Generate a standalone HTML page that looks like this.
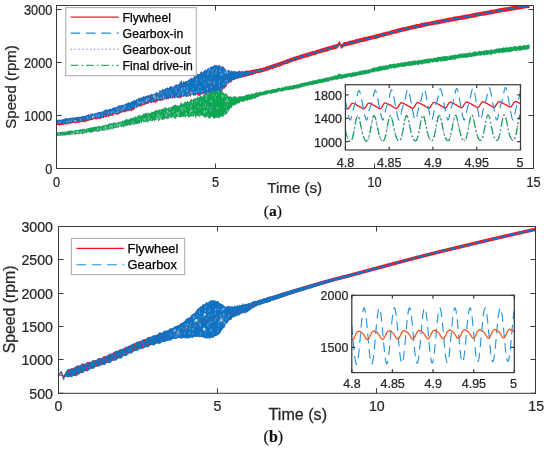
<!DOCTYPE html>
<html lang="en"><head><meta charset="utf-8"><title>Speed (rpm) vs Time (s)</title>
<style>html,body{margin:0;padding:0;background:#fff;}svg{display:block;}</style></head><body>
<svg width="550" height="451" viewBox="0 0 550 451">
<rect width="550" height="451" fill="#fff"/>
<defs><clipPath id="ca"><rect x="56.5" y="5.5" width="477.0" height="163.0"/></clipPath>
<clipPath id="cb"><rect x="58.5" y="226.5" width="477.0" height="166.8"/></clipPath></defs>
<g clip-path="url(#ca)">
<polygon points="56.5,120.4 57,120.4 57.5,120.2 58,119.9 58.5,119.9 59,119.7 59.5,120.1 60,120.5 60.5,119.8 61,119.7 61.5,120 62,119.9 62.5,119.7 63,119.3 63.5,119.5 64,119.7 64.5,118.9 65,119 65.5,118.5 66,118.5 66.5,118.4 67,118.8 67.5,118.5 68,119 68.5,118.9 69,118.6 69.5,117.7 70,118.3 70.5,118.5 71,118.4 71.5,117.8 72,118 72.5,117.8 73,117.8 73.5,118.4 74,117.7 74.5,117.9 75,118.1 75.5,117.5 76,117.6 76.5,117.6 77,117.4 77.5,116.9 78,117.3 78.5,117.7 79,116.6 79.5,117.3 80,117 80.5,116.7 81,117.5 81.5,117 82,116.1 82.5,116.4 83,116.6 83.5,116.2 84,116.4 84.5,116.1 85,116.3 85.5,116.4 86,115.5 86.5,115.6 87,115.3 87.5,115.3 88,114.7 88.5,114.8 89,114.9 89.5,115.3 90,115.2 90.5,114.1 91,114.1 91.5,114.5 92,113.4 92.5,113.8 93,114 93.5,114.5 94,114.2 94.5,113.5 95,113.4 95.5,113.4 96,113.9 96.5,113 97,112.9 97.5,113 98,112.7 98.5,112.5 99,112 99.5,112.3 100,112.1 100.5,112.6 101,112.3 101.5,111.9 102,111.9 102.5,111.5 103,111.8 103.5,111.3 104,111.3 104.5,110.4 105,110.8 105.5,109.7 106,109.4 106.5,110 107,109.8 107.5,110.2 108,111 108.5,109.4 109,109.3 109.5,109.5 110,109.5 110.5,109.1 111,108.9 111.5,109.2 112,108.9 112.5,108 113,108.3 113.5,108.1 114,107.5 114.5,107.9 115,107.4 115.5,108 116,107.6 116.5,107.3 117,106.8 117.5,106.7 118,105.6 118.5,105.9 119,106.4 119.5,105.2 120,106.3 120.5,105.1 121,106 121.5,105.3 122,105.8 122.5,105.3 123,104.4 123.5,105.6 124,105.6 124.5,104.7 125,104.3 125.5,104.1 126,103.6 126.5,104.4 127,103.5 127.5,103.5 128,102.9 128.5,102.7 129,102.4 129.5,103.5 130,102.8 130.5,103.1 131,102.3 131.5,101.7 132,101.6 132.5,101.3 133,101.4 133.5,101 134,100.7 134.5,99.9 135,100.2 135.5,101.2 136,99.8 136.5,99.3 137,99.9 137.5,100.2 138,98.6 138.5,98.8 139,98.4 139.5,97.7 140,98.8 140.5,98.4 141,98.1 141.5,97.6 142,97.9 142.5,97.3 143,97.2 143.5,96.5 144,96.4 144.5,97.5 145,96.6 145.5,96.7 146,96.3 146.5,95.9 147,95.7 147.5,96.2 148,95.5 148.5,95.4 149,95.4 149.5,95.9 150,95.5 150.5,95.1 151,94.2 151.5,93.7 152,94.8 152.5,94.8 153,94 153.5,94.2 154,94.2 154.5,94.1 155,93.8 155.5,93 156,93.7 156.5,92.1 157,93 157.5,92.8 158,92.9 158.5,93.4 159,92.8 159.5,90.9 160,90.3 160.5,91.6 161,90.5 161.5,90.9 162,91.1 162.5,89.3 163,88.8 163.5,90.2 164,90 164.5,89.6 165,89.5 165.5,88.7 166,88 166.5,88.7 167,88 167.5,87.4 168,88.7 168.5,88.4 169,88.3 169.5,87.1 170,87 170.5,86.6 171,86.6 171.5,87.1 172,86.4 172.5,87 173,87.1 173.5,88 174,85.4 174.5,86.6 175,85.8 175.5,85.4 176,84.2 176.5,84.8 177,85.6 177.5,84.9 178,84.7 178.5,84.3 179,85.2 179.5,83.9 180,81.9 180.5,82.6 181,81.4 181.5,80.3 182,82.4 182.5,83.9 183,82.7 183.5,81.3 184,81.4 184.5,82.8 185,82 185.5,81.6 186,81.3 186.5,81.2 187,81.6 187.5,81.3 188,80.6 188.5,79.5 189,80.2 189.5,79.4 190,80.2 190.5,78.3 191,78.7 191.5,78.5 192,77.4 192.5,79.5 193,79.1 193.5,77.3 194,77.7 194.5,76.8 195,74.3 195.5,76 196,75.7 196.5,75.3 197,74.1 197.5,74.4 198,74.4 198.5,75.1 199,74.2 199.5,73.7 200,74.4 200.5,72.6 201,72 201.5,71 202,73.2 202.5,72.8 203,72.4 203.5,71.8 204,71.1 204.5,70.8 205,70.1 205.5,69.9 206,70 206.5,70.8 207,69.9 207.5,69 208,68.2 208.5,68.1 209,69.6 209.5,68.7 210,67.9 210.5,67.2 211,66.5 211.5,67.1 212,67.7 212.5,66.6 213,66.4 213.5,66.3 214,66.2 214.5,64.8 215,65.5 215.5,65.2 216,66.2 216.5,65.1 217,66.1 217.5,66.9 218,65.5 218.5,65.2 219,65.9 219.5,65.8 220,65.3 220.5,66.7 221,68.1 221.5,66.7 222,66.6 222.5,66.4 223,67.5 223.5,66.7 224,67.2 224.5,69.3 225,68.3 225.5,70 226,70.7 226.5,70.1 227,70.6 227.5,71.7 228,70.3 228.5,69.9 229,69.6 229.5,71 230,72.3 230.5,72 231,70.7 231.5,70.7 232,71.1 232.5,71.6 233,71.4 233.5,71.6 234,71.6 234.5,71.3 235,71.4 235.5,71.6 236,71.5 236.5,71.8 237,72.4 237.5,71.8 238,71.4 238.5,70.7 239,71.4 239.5,70.6 240,70.8 240.5,71.7 241,71.7 241.5,71.2 242,70.7 242.5,71 243,71 243.5,71.4 244,71.8 244.5,71.2 245,70.7 245.5,70.5 246,70.8 246.5,70.7 247,70.4 247.5,70.6 248,70.3 248.5,70.8 249,70.7 249.5,70.6 250,70.2 250.5,70.3 251,70.1 251.5,69.9 252,69.8 252.5,69.5 253,69.4 253.5,69.7 254,69.5 254.5,69.5 255,69.5 255.5,69 256,69 256.5,69.1 257,69 257.5,68.9 258,69 258.5,68.7 259,68.4 259.5,68.3 260,68.5 260.5,68.3 261,67.9 261.5,68.2 262,68.1 262.5,68 263,67.6 263.5,67.4 264,67.2 264.5,67.6 265,67.1 265.5,67.1 266,66.6 266.5,66.5 267,66.1 267.5,66.1 268,66.2 268.5,65.7 269,65.8 269.5,65.6 270,65.2 270.5,65.1 271,65 271.5,64.8 272,64.6 272.5,64.4 273,64.3 273.5,64 274,63.8 274.5,63.8 275,63.8 275.5,63.3 276,63.3 276.5,63 277,62.8 277.5,62.9 278,62.6 278.5,62.6 279,62.2 279.5,62.1 280,61.9 280.5,61.6 281,61.6 281.5,61.4 282,61.3 282.5,61 283,60.7 283.5,60.6 284,60.5 284.5,60.4 285,60 285.5,59.9 286,59.5 286.5,59.6 287,59.2 287.5,58.9 288,59 288.5,59 289,58.5 289.5,58.3 290,58.2 290.5,58 291,58 291.5,57.7 292,57.5 292.5,57.5 293,57.2 293.5,57.1 294,56.8 294.5,56.5 295,56.3 295.5,56.7 296,56.3 296.5,56.1 297,56 297.5,55.8 298,55.7 298.5,55.7 299,55.2 299.5,54.9 300,54.8 300.5,54.6 301,54.8 301.5,54.6 302,54.2 302.5,54 303,54 303.5,54.1 304,53.4 304.5,53.6 305,53.3 305.5,53.4 306,53 306.5,52.9 307,52.6 307.5,52.6 308,52.8 308.5,52.5 309,52.2 309.5,51.9 310,51.6 310.5,51.7 311,51.6 311.5,51.5 312,51.3 312.5,51 313,51 313.5,50.9 314,51 314.5,50.9 315,50.5 315.5,50.2 316,50.1 316.5,49.9 317,49.7 317.5,49.7 318,49.4 318.5,49.5 319,49.3 319.5,49.2 320,49 320.5,48.7 321,48.5 321.5,48.5 322,48.3 322.5,48.3 323,48.1 323.5,47.8 324,47.8 324.5,47.5 325,47.4 325.5,47.3 326,46.9 326.5,47.1 327,47 327.5,46.8 328,46.6 328.5,46.4 329,46.2 329.5,46.1 330,46 330.5,45.9 331,45.6 331.5,45.6 332,45.5 332.5,45.3 333,45.1 333.5,45.1 334,44.6 334.5,44.8 335,44.6 335.5,44.5 336,44.4 336.5,44.1 337,44 337.5,43.8 338,43.3 338.5,42.2 339,41.1 339.5,41.1 340,42 340.5,43 341,43.8 341.5,44.3 342,44.6 342.5,43.7 343,42.6 343.5,42.5 344,42 344.5,41.9 345,41.9 345.5,42 346,41.7 346.5,41.7 347,41.8 347.5,41.7 348,41.3 348.5,41.1 349,40.8 349.5,40.8 350,40.8 350.5,40.7 351,40.6 351.5,40.6 352,40.2 352.5,40.2 353,40.2 353.5,40 354,40 354.5,39.7 355,39.5 355.5,39.4 356,39.1 356.5,38.9 357,39.1 357.5,38.9 358,38.8 358.5,38.4 359,38.4 359.5,38.3 360,38.1 360.5,37.8 361,37.9 361.5,38 362,37.8 362.5,37.5 363,37.5 363.5,37.4 364,36.8 364.5,37 365,37.1 365.5,37 366,37 366.5,36.8 367,36.5 367.5,36.4 368,36.3 368.5,36 369,36 369.5,36.1 370,36.1 370.5,35.7 371,35.5 371.5,35.5 372,35.5 372.5,35.2 373,35.3 373.5,34.8 374,34.8 374.5,34.7 375,34.7 375.5,34.6 376,34.1 376.5,34.1 377,34.1 377.5,33.8 378,33.6 378.5,33.9 379,33.7 379.5,33.5 380,33.3 380.5,33.3 381,33.1 381.5,33.1 382,32.7 382.5,32.5 383,32.5 383.5,32.3 384,32.4 384.5,32.2 385,31.9 385.5,31.8 386,31.7 386.5,31.7 387,31.4 387.5,31.3 388,31.4 388.5,31.5 389,31.3 389.5,30.9 390,30.7 390.5,30.8 391,30.4 391.5,30.1 392,30.1 392.5,30.1 393,29.7 393.5,29.4 394,29.4 394.5,29.5 395,29.2 395.5,29.2 396,29.1 396.5,29 397,28.8 397.5,28.7 398,28.4 398.5,28.3 399,28.1 399.5,28.3 400,28 400.5,27.8 401,27.7 401.5,27.6 402,27.6 402.5,27.1 403,27.1 403.5,27.1 404,27.4 404.5,27.1 405,26.8 405.5,26.8 406,26.9 406.5,26.4 407,26.3 407.5,26.4 408,26.2 408.5,26.1 409,25.8 409.5,26.1 410,26 410.5,25.7 411,25.5 411.5,25 412,25.3 412.5,25.1 413,25.1 413.5,25 414,24.7 414.5,24.4 415,24.6 415.5,24.3 416,24.3 416.5,24.1 417,24 417.5,23.7 418,24.1 418.5,23.9 419,23.9 419.5,23.9 420,23.5 420.5,23.1 421,23.1 421.5,23 422,23 422.5,22.9 423,22.6 423.5,22.8 424,22.5 424.5,22.6 425,22.4 425.5,22.3 426,22.2 426.5,22.1 427,21.9 427.5,21.7 428,21.8 428.5,22.1 429,22 429.5,21.8 430,21.6 430.5,21.3 431,21.4 431.5,21.2 432,21 432.5,20.9 433,20.8 433.5,20.7 434,20.6 434.5,20.4 435,20.4 435.5,20.7 436,20.3 436.5,20.1 437,20.1 437.5,20.1 438,19.7 438.5,19.7 439,19.8 439.5,19.6 440,19.5 440.5,19.6 441,19.2 441.5,19.2 442,19 442.5,19.2 443,18.6 443.5,18.7 444,18.6 444.5,18.7 445,18.7 445.5,18.6 446,18.1 446.5,18.3 447,18.1 447.5,17.9 448,18 448.5,17.7 449,17.4 449.5,17.5 450,17.3 450.5,17.3 451,17.4 451.5,17.4 452,17.4 452.5,17 453,16.7 453.5,16.7 454,16.6 454.5,16.5 455,16.6 455.5,16.4 456,16.1 456.5,16.4 457,16.2 457.5,16.2 458,16.1 458.5,16.1 459,15.9 459.5,16 460,15.8 460.5,15.7 461,15.6 461.5,15.2 462,15.3 462.5,15.2 463,15.2 463.5,14.9 464,15.2 464.5,14.9 465,14.6 465.5,14.4 466,14.6 466.5,14.5 467,14.3 467.5,14.4 468,14.2 468.5,14.2 469,14 469.5,14 470,14.1 470.5,14.2 471,13.6 471.5,13.5 472,13.4 472.5,13.5 473,13.2 473.5,13.1 474,13.1 474.5,12.9 475,12.8 475.5,12.7 476,12.4 476.5,12.4 477,12.5 477.5,12.5 478,12.3 478.5,12 479,12.1 479.5,12.2 480,12.1 480.5,11.9 481,11.7 481.5,11.8 482,11.5 482.5,11.3 483,11.3 483.5,11.5 484,11.3 484.5,11.3 485,11 485.5,11.1 486,10.8 486.5,10.8 487,11 487.5,10.7 488,10.4 488.5,10.4 489,10.3 489.5,10.4 490,10 490.5,9.7 491,9.8 491.5,9.8 492,9.8 492.5,9.8 493,9.6 493.5,9.5 494,9.2 494.5,9.4 495,9.5 495.5,9.2 496,9 496.5,8.9 497,9 497.5,8.6 498,8.6 498.5,8.6 499,8.5 499.5,8.3 500,8.3 500.5,8.1 501,8.1 501.5,7.9 502,7.7 502.5,7.8 503,7.8 503.5,7.5 504,7.5 504.5,7.5 505,7.2 505.5,7.3 506,7.1 506.5,7.3 507,7.5 507.5,7.3 508,6.9 508.5,6.9 509,6.7 509.5,6.7 510,6.7 510.5,6.3 511,6.5 511.5,6.3 512,6.4 512.5,6.2 513,5.9 513.5,6 514,6 514.5,5.8 515,5.8 515.5,5.5 516,5.2 516.5,5.6 517,5.5 517.5,5.3 518,5.2 518.5,5.3 519,5 519.5,4.8 520,4.9 520.5,4.9 521,4.6 521.5,4.8 522,4.5 522.5,4.3 523,4.6 523.5,4.3 524,4 524.5,4.1 525,4.3 525.5,4.2 526,3.9 526.5,3.9 527,3.9 527.5,3.7 528,3.7 528.5,3.6 529,3.4 529.5,3.4 529.5,8.1 529,8.1 528.5,8.1 528,8.2 527.5,8 527,8.1 526.5,8.4 526,8.4 525.5,8.1 525,8.4 524.5,8.5 524,8.5 523.5,8.8 523,8.9 522.5,8.8 522,9.2 521.5,9.2 521,9.2 520.5,9.1 520,9.4 519.5,9.4 519,9.7 518.5,9.5 518,9.5 517.5,9.5 517,9.7 516.5,10.1 516,9.9 515.5,10 515,10.2 514.5,10.2 514,10.5 513.5,10.3 513,10.6 512.5,10.6 512,10.6 511.5,10.8 511,10.9 510.5,11 510,11.1 509.5,11.2 509,11.1 508.5,11.3 508,11.4 507.5,11.5 507,11.3 506.5,11.5 506,11.8 505.5,11.9 505,11.9 504.5,11.9 504,11.8 503.5,12 503,11.9 502.5,12 502,12.2 501.5,12.4 501,12.5 500.5,12.4 500,12.7 499.5,12.7 499,12.8 498.5,12.8 498,12.7 497.5,13.1 497,13.1 496.5,13.3 496,13.4 495.5,13.4 495,13.5 494.5,13.8 494,13.9 493.5,13.7 493,14 492.5,13.9 492,14.2 491.5,14.5 491,14.4 490.5,14.5 490,14.7 489.5,14.5 489,14.6 488.5,14.9 488,14.8 487.5,15.1 487,15 486.5,15.3 486,15.3 485.5,15.4 485,15.3 484.5,15.7 484,15.4 483.5,15.7 483,15.9 482.5,15.7 482,15.8 481.5,16.1 481,15.9 480.5,16.3 480,16.3 479.5,16.3 479,16.3 478.5,16.5 478,16.7 477.5,16.8 477,17.1 476.5,16.8 476,17 475.5,17.4 475,17.2 474.5,17.4 474,17.7 473.5,17.7 473,17.9 472.5,17.9 472,17.7 471.5,18.1 471,18.3 470.5,18.3 470,18.3 469.5,18.3 469,18.4 468.5,18.4 468,18.7 467.5,18.9 467,18.8 466.5,18.9 466,19.2 465.5,19.2 465,19.1 464.5,19.4 464,19.7 463.5,19.6 463,19.5 462.5,19.7 462,20 461.5,19.8 461,20 460.5,19.8 460,19.9 459.5,20.1 459,20.2 458.5,20.5 458,20.6 457.5,20.7 457,20.8 456.5,20.5 456,20.7 455.5,21.2 455,21.2 454.5,21 454,21.1 453.5,21.2 453,21.3 452.5,21.8 452,21.5 451.5,21.5 451,21.9 450.5,21.9 450,22 449.5,21.8 449,22.2 448.5,22.2 448,22.4 447.5,22.1 447,22.5 446.5,22.5 446,22.8 445.5,22.8 445,22.6 444.5,23 444,23.2 443.5,23.3 443,23.1 442.5,23.5 442,23.4 441.5,23.5 441,23.7 440.5,23.8 440,24.1 439.5,24 439,24.3 438.5,24.4 438,24.3 437.5,24.5 437,24.5 436.5,24.7 436,24.7 435.5,24.6 435,24.8 434.5,25.1 434,24.8 433.5,25.1 433,25.1 432.5,25.2 432,25.3 431.5,25.6 431,25.7 430.5,25.7 430,25.7 429.5,25.7 429,25.8 428.5,26.1 428,26.1 427.5,26.1 427,26.5 426.5,26.3 426,26.6 425.5,26.7 425,26.8 424.5,26.9 424,26.8 423.5,26.9 423,27.1 422.5,27.5 422,27.5 421.5,27.7 421,27.9 420.5,27.7 420,28 419.5,28 419,28 418.5,28.1 418,28.3 417.5,28.5 417,28.6 416.5,28.5 416,28.6 415.5,28.9 415,28.9 414.5,29 414,29.1 413.5,29.2 413,29.5 412.5,29.2 412,29.5 411.5,29.7 411,29.8 410.5,29.7 410,30.1 409.5,30.2 409,30.5 408.5,30.5 408,30.8 407.5,30.7 407,30.8 406.5,30.8 406,30.9 405.5,31 405,31.2 404.5,31.6 404,31.4 403.5,31.4 403,31.5 402.5,31.8 402,31.9 401.5,32.2 401,32.1 400.5,32.2 400,32.5 399.5,32.6 399,32.6 398.5,32.8 398,32.9 397.5,33.1 397,33.4 396.5,33.4 396,33.4 395.5,33.7 395,33.7 394.5,33.8 394,34 393.5,34 393,34.1 392.5,34.2 392,34.4 391.5,34.5 391,34.5 390.5,35 390,35.1 389.5,35.2 389,35.3 388.5,35.6 388,35.5 387.5,35.6 387,36 386.5,36 386,36 385.5,36.3 385,36.2 384.5,36.5 384,36.7 383.5,36.7 383,36.7 382.5,37 382,37.1 381.5,37.3 381,37.2 380.5,37.5 380,37.7 379.5,37.7 379,38 378.5,38.2 378,38.2 377.5,38.5 377,38.8 376.5,38.7 376,38.9 375.5,39.1 375,39.1 374.5,39.1 374,39.3 373.5,39.2 373,39.2 372.5,39.5 372,39.6 371.5,39.8 371,40 370.5,40.2 370,40.1 369.5,40.1 369,40.4 368.5,40.8 368,40.6 367.5,40.7 367,40.9 366.5,41 366,41.3 365.5,41.4 365,41.4 364.5,41.4 364,41.7 363.5,42 363,42 362.5,42.2 362,42 361.5,42.1 361,42.6 360.5,42.5 360,42.5 359.5,42.7 359,42.5 358.5,43 358,43.2 357.5,43.2 357,43.5 356.5,43.5 356,43.9 355.5,43.8 355,43.9 354.5,44 354,44.2 353.5,44.5 353,44.5 352.5,44.4 352,44.9 351.5,44.8 351,45 350.5,45.2 350,45 349.5,45.7 349,45.6 348.5,45.3 348,45.7 347.5,45.9 347,45.9 346.5,46 346,46.3 345.5,46.5 345,46.7 344.5,46.4 344,46.7 343.5,46.9 343,47.4 342.5,48.1 342,48.7 341.5,48.7 341,48.2 340.5,47.2 340,46.3 339.5,45.6 339,45.8 338.5,46.9 338,47.7 337.5,48 337,48.8 336.5,48.7 336,48.7 335.5,49.1 335,49.2 334.5,49.4 334,49.4 333.5,49.6 333,49.4 332.5,49.7 332,49.8 331.5,50.1 331,50.1 330.5,50.2 330,50.3 329.5,50.4 329,50.6 328.5,50.9 328,51.1 327.5,51.4 327,51.8 326.5,51.7 326,51.7 325.5,51.8 325,51.8 324.5,52 324,52.3 323.5,52.5 323,52.5 322.5,52.6 322,52.7 321.5,52.8 321,53.1 320.5,53.3 320,53.3 319.5,53.7 319,53.5 318.5,53.5 318,54 317.5,54.1 317,54.6 316.5,54.5 316,54.7 315.5,54.8 315,54.9 314.5,54.9 314,54.9 313.5,55.3 313,55.4 312.5,55.6 312,55.6 311.5,56.2 311,56.4 310.5,55.8 310,56.2 309.5,56.7 309,56.5 308.5,57 308,56.9 307.5,57.2 307,57.5 306.5,57.5 306,57.4 305.5,57.5 305,57.7 304.5,58 304,58.2 303.5,58.2 303,58.4 302.5,58.4 302,58.7 301.5,58.7 301,59 300.5,59.2 300,59.5 299.5,59.6 299,59.8 298.5,60 298,60 297.5,60.3 297,60.3 296.5,60.6 296,61 295.5,61.1 295,60.8 294.5,61 294,61.2 293.5,61.5 293,61.6 292.5,62.1 292,62 291.5,62 291,62.3 290.5,62.4 290,62.8 289.5,62.9 289,63 288.5,63.4 288,63.5 287.5,63.8 287,64.1 286.5,64 286,64.1 285.5,64.2 285,64.5 284.5,64.4 284,64.5 283.5,65 283,65.1 282.5,65.4 282,65.8 281.5,66.1 281,66.2 280.5,66.1 280,66.6 279.5,66.7 279,67 278.5,66.5 278,66.9 277.5,67.2 277,67.2 276.5,67.6 276,67.9 275.5,68.1 275,68.2 274.5,68.1 274,68.7 273.5,68.4 273,68.9 272.5,69.1 272,69 271.5,68.9 271,69.3 270.5,69.6 270,69.7 269.5,69.7 269,70.2 268.5,70.4 268,70.4 267.5,70.7 267,70.8 266.5,70.8 266,70.9 265.5,71.3 265,71.4 264.5,71.4 264,71.5 263.5,71.8 263,72.2 262.5,72.1 262,72.3 261.5,72.5 261,72.5 260.5,72.5 260,73.1 259.5,73.1 259,73.1 258.5,72.9 258,73 257.5,73.1 257,73.4 256.5,73.4 256,73.5 255.5,73.8 255,74 254.5,73.9 254,74.2 253.5,74.5 253,74.7 252.5,74.9 252,74.9 251.5,74.9 251,74.9 250.5,75.5 250,75.2 249.5,75.6 249,76 248.5,76.1 248,76.6 247.5,76.3 247,75.8 246.5,76.2 246,76.5 245.5,77.1 245,77.1 244.5,76.5 244,77 243.5,77.2 243,77.7 242.5,77.4 242,77.1 241.5,76.7 241,77.7 240.5,78.1 240,77.9 239.5,78.4 239,77.8 238.5,78.6 238,78.6 237.5,79 237,78.9 236.5,78.6 236,79.1 235.5,78.6 235,80.1 234.5,79.7 234,79.6 233.5,80.1 233,80.3 232.5,80.4 232,80.8 231.5,81.8 231,82.6 230.5,82.3 230,82.9 229.5,82.1 229,83.8 228.5,82.3 228,82.7 227.5,83.2 227,85 226.5,86.7 226,87 225.5,87.2 225,88.3 224.5,88.4 224,88.7 223.5,88.5 223,89 222.5,90.2 222,91.4 221.5,91.6 221,91.7 220.5,91.3 220,91.7 219.5,92.9 219,92.1 218.5,94.5 218,92.9 217.5,93 217,92.6 216.5,93.6 216,93.3 215.5,92.5 215,92.9 214.5,93.8 214,93 213.5,93.7 213,93.5 212.5,92.5 212,93.2 211.5,94.9 211,92.8 210.5,93.2 210,94.5 209.5,93.8 209,92.9 208.5,93.1 208,92.9 207.5,91.8 207,93.8 206.5,94.7 206,94.6 205.5,94.2 205,94.6 204.5,95 204,93.4 203.5,93.8 203,94.7 202.5,94 202,94.4 201.5,94.1 201,93.2 200.5,94.9 200,95.7 199.5,95.7 199,95.8 198.5,95.8 198,95.4 197.5,95 197,94.6 196.5,94.3 196,94.8 195.5,96 195,95.6 194.5,94.1 194,95.4 193.5,96.2 193,94.5 192.5,94.1 192,94.6 191.5,94.4 191,95.7 190.5,97.1 190,96.4 189.5,95.8 189,96.1 188.5,95.4 188,95.8 187.5,96.2 187,97.1 186.5,97.1 186,96.3 185.5,95.6 185,95 184.5,96.1 184,96.2 183.5,96.7 183,95.9 182.5,97.3 182,96.9 181.5,97 181,98.3 180.5,98.3 180,98.4 179.5,98.1 179,97.2 178.5,98.2 178,98.2 177.5,97.8 177,97.2 176.5,97.1 176,97.5 175.5,96.5 175,97.8 174.5,98.1 174,98.1 173.5,97.6 173,98 172.5,98.5 172,98.1 171.5,97.1 171,99.5 170.5,97.9 170,97.4 169.5,98.5 169,98.6 168.5,99.4 168,99.2 167.5,98.9 167,98.7 166.5,99.5 166,99.8 165.5,98.9 165,98.5 164.5,99.1 164,99.6 163.5,100.7 163,100.5 162.5,100.2 162,100.2 161.5,100.1 161,101.9 160.5,100.9 160,100.6 159.5,100.3 159,100.8 158.5,100.4 158,100.8 157.5,101.6 157,101.7 156.5,101.7 156,102.6 155.5,103.3 155,102.6 154.5,102.1 154,102.4 153.5,103.2 153,102 152.5,101.7 152,103 151.5,103.4 151,102.8 150.5,101.9 150,102.5 149.5,102 149,103 148.5,104.1 148,103.5 147.5,103.9 147,103.7 146.5,103.9 146,104 145.5,104.6 145,105.3 144.5,104.4 144,105.3 143.5,105.1 143,105.3 142.5,105.6 142,105.9 141.5,106.2 141,106.4 140.5,106.8 140,106.3 139.5,106.1 139,106.6 138.5,106.3 138,106.9 137.5,107.2 137,108 136.5,107.6 136,107.9 135.5,108 135,108.5 134.5,109 134,109.7 133.5,110.7 133,109.8 132.5,109.2 132,111.3 131.5,111.4 131,110.2 130.5,110.8 130,111.2 129.5,110.6 129,110.6 128.5,111.3 128,111.4 127.5,111.2 127,111.5 126.5,110.8 126,112.4 125.5,112 125,112.3 124.5,112.4 124,112.3 123.5,112.3 123,112 122.5,111.7 122,113.4 121.5,112.4 121,113 120.5,112.9 120,113.2 119.5,114.2 119,114.2 118.5,113.5 118,114.7 117.5,115.2 117,114.6 116.5,114.3 116,114.8 115.5,113.7 115,114.3 114.5,114.2 114,114.5 113.5,115.1 113,115.9 112.5,116 112,115.4 111.5,115.5 111,116.3 110.5,115.9 110,115.7 109.5,115.8 109,117.1 108.5,117.8 108,116.8 107.5,116.2 107,116.7 106.5,116.7 106,117 105.5,117.7 105,117.2 104.5,116.8 104,118.3 103.5,117.9 103,118.3 102.5,118 102,118.3 101.5,117.9 101,118.4 100.5,118.7 100,119.4 99.5,119.1 99,118.8 98.5,118.8 98,119.1 97.5,118.6 97,119.4 96.5,119.1 96,120 95.5,119.2 95,118.7 94.5,119.2 94,119.1 93.5,119.3 93,120.1 92.5,120.1 92,120 91.5,120.1 91,120.5 90.5,119.7 90,120.4 89.5,120 89,120.7 88.5,121 88,121.1 87.5,121.3 87,121.1 86.5,121.1 86,121.9 85.5,122.3 85,122 84.5,122.5 84,121.8 83.5,122 83,122.1 82.5,121.8 82,122.2 81.5,122.1 81,122.6 80.5,122.1 80,122.4 79.5,122.5 79,122.5 78.5,122.6 78,123.1 77.5,123.1 77,122.9 76.5,123 76,123.4 75.5,123.2 75,123.6 74.5,123.5 74,123.2 73.5,122.8 73,123 72.5,123.2 72,123.6 71.5,123.3 71,123.6 70.5,124.1 70,123.6 69.5,124 69,123.3 68.5,124.3 68,124.1 67.5,124.4 67,124.4 66.5,124.3 66,124.6 65.5,124.7 65,124.7 64.5,124.1 64,123.9 63.5,125.2 63,125.4 62.5,124.7 62,125 61.5,124.7 61,125.6 60.5,125.3 60,125.4 59.5,125.4 59,125.2 58.5,125.5 58,125.1 57.5,125 57,125.2 56.5,125.3" fill="#f5141e" />
<polygon points="56.5,120.1 57,120.1 57.5,119.9 58,119.6 58.5,119.6 59,119.4 59.5,119.8 60,120.2 60.5,119.5 61,119.4 61.5,119.7 62,119.6 62.5,119.4 63,119 63.5,119.2 64,119.4 64.5,118.6 65,118.7 65.5,118.2 66,118.2 66.5,118.1 67,118.5 67.5,118.2 68,118.7 68.5,118.6 69,118.3 69.5,117.4 70,118 70.5,118.2 71,118.1 71.5,117.5 72,117.7 72.5,117.5 73,117.5 73.5,118.1 74,117.4 74.5,117.6 75,117.8 75.5,117.2 76,117.3 76.5,117.3 77,117.1 77.5,116.6 78,117 78.5,117.4 79,116.3 79.5,117 80,116.7 80.5,116.4 81,117.2 81.5,116.7 82,115.8 82.5,116.1 83,116.3 83.5,115.9 84,116.1 84.5,115.8 85,116 85.5,116.1 86,115.2 86.5,115.3 87,115 87.5,115 88,114.4 88.5,114.5 89,114.6 89.5,115 90,114.9 90.5,113.8 91,113.8 91.5,114.2 92,113.1 92.5,113.5 93,113.7 93.5,114.2 94,113.9 94.5,113.2 95,113.1 95.5,113.1 96,113.6 96.5,112.7 97,112.6 97.5,112.7 98,112.4 98.5,112.2 99,111.7 99.5,112 100,111.8 100.5,112.3 101,112 101.5,111.6 102,111.6 102.5,111.2 103,111.5 103.5,111 104,111 104.5,110.1 105,110.5 105.5,109.4 106,109.1 106.5,109.7 107,109.5 107.5,109.9 108,110.7 108.5,109.1 109,109 109.5,109.2 110,109.2 110.5,108.8 111,108.6 111.5,108.9 112,108.6 112.5,107.7 113,108 113.5,107.8 114,107.2 114.5,107.6 115,107.1 115.5,107.7 116,107.3 116.5,107 117,106.5 117.5,106.4 118,105.3 118.5,105.6 119,106.1 119.5,104.9 120,106 120.5,104.8 121,105.7 121.5,105 122,105.5 122.5,105 123,104.1 123.5,105.3 124,105.3 124.5,104.4 125,104 125.5,103.8 126,103.3 126.5,104.1 127,103.2 127.5,103.2 128,102.6 128.5,102.4 129,102.1 129.5,103.2 130,102.5 130.5,102.8 131,102 131.5,101.4 132,101.3 132.5,101 133,101.1 133.5,100.7 134,100.4 134.5,99.6 135,99.9 135.5,100.9 136,99.5 136.5,99 137,99.6 137.5,99.9 138,98.3 138.5,98.5 139,98.1 139.5,97.4 140,98.5 140.5,98.1 141,97.8 141.5,97.3 142,97.6 142.5,97 143,96.9 143.5,96.2 144,96.1 144.5,97.2 145,96.3 145.5,96.4 146,96 146.5,95.6 147,95.4 147.5,95.9 148,95.2 148.5,95.1 149,95.1 149.5,95.6 150,95.2 150.5,94.8 151,93.9 151.5,93.4 152,94.5 152.5,94.5 153,93.7 153.5,93.9 154,93.9 154.5,93.8 155,93.5 155.5,92.7 156,93.4 156.5,91.8 157,92.7 157.5,92.5 158,92.6 158.5,93.1 159,92.5 159.5,90.6 160,90 160.5,91.3 161,90.2 161.5,90.6 162,90.8 162.5,89 163,88.5 163.5,89.9 164,89.7 164.5,89.3 165,89.2 165.5,88.4 166,87.7 166.5,88.4 167,87.7 167.5,87.1 168,88.4 168.5,88.1 169,88 169.5,86.8 170,86.7 170.5,86.3 171,86.3 171.5,86.8 172,86.1 172.5,86.7 173,86.8 173.5,87.7 174,85.1 174.5,86.3 175,85.5 175.5,85.1 176,83.9 176.5,84.5 177,85.3 177.5,84.6 178,84.4 178.5,84 179,84.9 179.5,83.6 180,81.6 180.5,82.3 181,81.1 181.5,80 182,82.1 182.5,83.6 183,82.4 183.5,81 184,81.1 184.5,82.5 185,81.7 185.5,81.3 186,81 186.5,80.9 187,81.3 187.5,81 188,80.3 188.5,79.2 189,79.9 189.5,79.1 190,79.9 190.5,78 191,78.4 191.5,78.2 192,77.1 192.5,79.2 193,78.8 193.5,77 194,77.4 194.5,76.5 195,74 195.5,75.7 196,75.4 196.5,75 197,73.8 197.5,74.1 198,74.1 198.5,74.8 199,73.9 199.5,73.4 200,74.1 200.5,72.3 201,71.7 201.5,70.7 202,72.9 202.5,72.5 203,72.1 203.5,71.5 204,70.8 204.5,70.5 205,69.8 205.5,69.6 206,69.7 206.5,70.5 207,69.6 207.5,68.7 208,67.9 208.5,67.8 209,69.3 209.5,68.4 210,67.6 210.5,66.9 211,66.2 211.5,66.8 212,67.4 212.5,66.3 213,66.1 213.5,66 214,65.9 214.5,64.5 215,65.2 215.5,64.9 216,65.9 216.5,64.8 217,65.8 217.5,66.6 218,65.2 218.5,64.9 219,65.6 219.5,65.5 220,65 220.5,66.4 221,67.8 221.5,66.4 222,66.3 222.5,66.1 223,67.2 223.5,66.4 224,66.9 224.5,69 225,68 225.5,69.7 226,70.5 226.5,69.8 227,70.3 227.5,71.5 228,70.1 228.5,69.7 229,69.4 229.5,70.8 230,72.1 230.5,71.8 231,70.5 231.5,70.6 232,70.9 232.5,71.4 233,71.3 233.5,71.5 234,71.5 234.5,71.2 235,71.4 235.5,71.5 236,71.4 236.5,71.8 237,72.4 237.5,71.9 238,71.5 238.5,70.9 239,71.5 239.5,70.8 240,71.1 240.5,71.9 241,72 241.5,71.6 242,71.1 242.5,71.5 243,71.5 243.5,71.9 244,72.4 244.5,71.8 245,71.4 245.5,71.3 246,71.5 246.5,71.5 247,71.3 247.5,71.5 248,71.3 248.5,71.7 249,71.7 249.5,71.6 250,71.2 250.5,71.3 251,71.2 251.5,71 252,71 252.5,70.7 253,70.7 253.5,70.9 254,70.8 254.5,70.8 255,70.7 255.5,70.3 256,70.3 256.5,70.4 257,70.4 257.5,70.2 258,70.3 258.5,70.1 259,69.8 259.5,69.7 260,69.8 260.5,69.7 261,69.3 261.5,69.6 262,69.4 262.5,69.4 263,69 263.5,68.8 264,68.7 264.5,68.9 265,68.5 265.5,68.5 266,68.1 266.5,68 267,67.6 267.5,67.6 268,67.6 268.5,67.2 269,67.3 269.5,67 270,66.7 270.5,66.6 271,66.4 271.5,66.3 272,66.1 272.5,65.9 273,65.7 273.5,65.5 274,65.3 274.5,65.3 275,65.2 275.5,64.8 276,64.7 276.5,64.5 277,64.3 277.5,64.3 278,64 278.5,64 279,63.6 279.5,63.6 280,63.3 280.5,63.1 281,63.1 281.5,62.8 282,62.7 282.5,62.5 283,62.2 283.5,62.1 284,62 284.5,61.9 285,61.5 285.5,61.4 286,61 286.5,61.1 287,60.7 287.5,60.4 288,60.5 288.5,60.4 289,60 289.5,59.8 290,59.7 290.5,59.5 291,59.4 291.5,59.1 292,59 292.5,58.9 293,58.7 293.5,58.6 294,58.3 294.5,58 295,57.8 295.5,58.1 296,57.7 296.5,57.6 297,57.4 297.5,57.3 298,57.1 298.5,57.1 299,56.6 299.5,56.4 300,56.3 300.5,56.1 301,56.2 301.5,56.1 302,55.7 302.5,55.5 303,55.5 303.5,55.5 304,54.9 304.5,55.1 305,54.8 305.5,54.8 306,54.5 306.5,54.4 307,54.1 307.5,54 308,54.2 308.5,54 309,53.7 309.5,53.4 310,53.1 310.5,53.2 311,53.1 311.5,52.9 312,52.8 312.5,52.5 313,52.5 313.5,52.4 314,52.4 314.5,52.3 315,51.9 315.5,51.7 316,51.6 316.5,51.4 317,51.2 317.5,51.1 318,50.9 318.5,50.9 319,50.7 319.5,50.6 320,50.4 320.5,50.2 321,50 321.5,50 322,49.8 322.5,49.7 323,49.6 323.5,49.3 324,49.2 324.5,49 325,48.9 325.5,48.8 326,48.4 326.5,48.5 327,48.4 327.5,48.2 328,48 328.5,47.9 329,47.7 329.5,47.6 330,47.4 330.5,47.3 331,47.1 331.5,47.1 332,46.9 332.5,46.7 333,46.6 333.5,46.5 334,46.1 334.5,46.2 335,46.1 335.5,45.9 336,45.8 336.5,45.5 337,45.4 337.5,45.3 338,44.7 338.5,43.7 339,42.5 339.5,42.6 340,43.4 340.5,44.4 341,45.3 341.5,45.8 342,46 342.5,45.2 343,44.2 343.5,43.9 344,43.5 344.5,43.4 345,43.4 345.5,43.5 346,43.2 346.5,43.1 347,43.2 347.5,43.1 348,42.7 348.5,42.5 349,42.3 349.5,42.3 350,42.3 350.5,42.2 351,42 351.5,42 352,41.7 352.5,41.6 353,41.6 353.5,41.5 354,41.4 354.5,41.2 355,41 355.5,40.9 356,40.6 356.5,40.4 357,40.5 357.5,40.4 358,40.2 358.5,39.9 359,39.9 359.5,39.7 360,39.5 360.5,39.3 361,39.4 361.5,39.4 362,39.2 362.5,39 363,38.9 363.5,38.8 364,38.3 364.5,38.5 365,38.5 365.5,38.4 366,38.4 366.5,38.2 367,38 367.5,37.9 368,37.8 368.5,37.5 369,37.4 369.5,37.5 370,37.5 370.5,37.1 371,37 371.5,36.9 372,36.9 372.5,36.7 373,36.7 373.5,36.3 374,36.2 374.5,36.2 375,36.2 375.5,36 376,35.6 376.5,35.5 377,35.6 377.5,35.3 378,35.1 378.5,35.3 379,35.1 379.5,35 380,34.7 380.5,34.8 381,34.5 381.5,34.5 382,34.1 382.5,34 383,34 383.5,33.8 384,33.8 384.5,33.6 385,33.3 385.5,33.3 386,33.2 386.5,33.1 387,32.8 387.5,32.7 388,32.8 388.5,32.8 389,32.7 389.5,32.3 390,32.2 390.5,32.2 391,31.8 391.5,31.6 392,31.6 392.5,31.5 393,31.2 393.5,31 394,30.9 394.5,31 395,30.7 395.5,30.6 396,30.6 396.5,30.5 397,30.2 397.5,30.2 398,29.9 398.5,29.8 399,29.6 399.5,29.7 400,29.5 400.5,29.2 401,29.2 401.5,29.1 402,29 402.5,28.6 403,28.6 403.5,28.6 404,28.8 404.5,28.5 405,28.3 405.5,28.2 406,28.3 406.5,27.9 407,27.7 407.5,27.8 408,27.6 408.5,27.5 409,27.3 409.5,27.5 410,27.3 410.5,27.1 411,26.9 411.5,26.5 412,26.7 412.5,26.5 413,26.5 413.5,26.4 414,26.2 414.5,25.9 415,26 415.5,25.8 416,25.7 416.5,25.6 417,25.5 417.5,25.2 418,25.5 418.5,25.3 419,25.3 419.5,25.3 420,25 420.5,24.6 421,24.6 421.5,24.5 422,24.5 422.5,24.4 423,24.1 423.5,24.2 424,23.9 424.5,24 425,23.9 425.5,23.8 426,23.7 426.5,23.5 427,23.4 427.5,23.2 428,23.3 428.5,23.5 429,23.4 429.5,23.2 430,23 430.5,22.7 431,22.9 431.5,22.6 432,22.5 432.5,22.4 433,22.3 433.5,22.1 434,22.1 434.5,21.9 435,21.9 435.5,22.1 436,21.7 436.5,21.6 437,21.6 437.5,21.5 438,21.2 438.5,21.2 439,21.2 439.5,21.1 440,21 440.5,21 441,20.7 441.5,20.6 442,20.5 442.5,20.6 443,20.1 443.5,20.1 444,20.1 444.5,20.1 445,20.1 445.5,20 446,19.6 446.5,19.7 447,19.6 447.5,19.4 448,19.4 448.5,19.2 449,18.9 449.5,19 450,18.8 450.5,18.8 451,18.9 451.5,18.8 452,18.8 452.5,18.5 453,18.2 453.5,18.2 454,18.1 454.5,18 455,18.1 455.5,17.9 456,17.6 456.5,17.8 457,17.7 457.5,17.6 458,17.5 458.5,17.5 459,17.4 459.5,17.4 460,17.2 460.5,17.1 461,17 461.5,16.7 462,16.7 462.5,16.7 463,16.6 463.5,16.4 464,16.6 464.5,16.4 465,16.1 465.5,15.9 466,16 466.5,16 467,15.8 467.5,15.8 468,15.7 468.5,15.7 469,15.5 469.5,15.4 470,15.5 470.5,15.6 471,15.1 471.5,15 472,14.9 472.5,14.9 473,14.7 473.5,14.6 474,14.6 474.5,14.4 475,14.3 475.5,14.2 476,13.9 476.5,13.9 477,13.9 477.5,13.9 478,13.8 478.5,13.5 479,13.6 479.5,13.6 480,13.5 480.5,13.3 481,13.1 481.5,13.2 482,13 482.5,12.8 483,12.8 483.5,12.9 484,12.7 484.5,12.7 485,12.5 485.5,12.5 486,12.2 486.5,12.2 487,12.4 487.5,12.1 488,11.9 488.5,11.8 489,11.8 489.5,11.8 490,11.5 490.5,11.2 491,11.3 491.5,11.3 492,11.2 492.5,11.2 493,11 493.5,11 494,10.7 494.5,10.8 495,10.9 495.5,10.6 496,10.5 496.5,10.4 497,10.4 497.5,10.1 498,10 498.5,10 499,10 499.5,9.8 500,9.7 500.5,9.6 501,9.5 501.5,9.4 502,9.2 502.5,9.3 503,9.3 503.5,9 504,9 504.5,9 505,8.7 505.5,8.7 506,8.6 506.5,8.7 507,8.8 507.5,8.7 508,8.3 508.5,8.3 509,8.2 509.5,8.1 510,8.1 510.5,7.8 511,7.9 511.5,7.8 512,7.8 512.5,7.6 513,7.4 513.5,7.4 514,7.4 514.5,7.3 515,7.2 515.5,7 516,6.7 516.5,7 517,6.9 517.5,6.8 518,6.7 518.5,6.7 519,6.4 519.5,6.3 520,6.3 520.5,6.4 521,6 521.5,6.2 522,5.9 522.5,5.8 523,6 523.5,5.8 524,5.5 524.5,5.6 525,5.7 525.5,5.6 526,5.4 526.5,5.4 527,5.3 527.5,5.1 528,5.1 528.5,5 529,4.9 529.5,4.9 529.5,6.5 529,6.5 528.5,6.7 528,6.6 527.5,6.8 527,6.7 526.5,6.8 526,6.7 525.5,6.8 525,6.9 524.5,7.1 524,7.3 523.5,7.2 523,7.2 522.5,7.2 522,7.4 521.5,7.5 521,7.6 520.5,7.9 520,8.1 519.5,7.9 519,8 518.5,8 518,8.1 517.5,8.2 517,8.3 516.5,8.5 516,8.5 515.5,8.4 515,8.4 514.5,8.4 514,8.7 513.5,9.1 513,9.1 512.5,9 512,9.1 511.5,9.3 511,9.3 510.5,9.3 510,9.6 509.5,9.7 509,9.8 508.5,9.7 508,9.8 507.5,10 507,9.9 506.5,9.9 506,10.1 505.5,10.2 505,10.2 504.5,10.6 504,10.6 503.5,10.7 503,10.6 502.5,10.9 502,11 501.5,11 501,10.9 500.5,11 500,11.3 499.5,11.3 499,11.4 498.5,11.5 498,11.5 497.5,11.6 497,11.8 496.5,12 496,11.9 495.5,12.2 495,12.3 494.5,12.3 494,12.3 493.5,12.6 493,12.5 492.5,12.4 492,12.6 491.5,12.8 491,12.8 490.5,12.9 490,13 489.5,13 489,13.1 488.5,13.3 488,13.3 487.5,13.4 487,13.5 486.5,13.4 486,13.6 485.5,13.9 485,14 484.5,14.1 484,14.2 483.5,14.2 483,14.3 482.5,14.3 482,14.3 481.5,14.6 481,14.7 480.5,14.9 480,15.1 479.5,15 479,15.1 478.5,15.4 478,15.3 477.5,15.3 477,15.5 476.5,15.7 476,15.5 475.5,15.6 475,15.8 474.5,15.9 474,16.2 473.5,16.4 473,16.1 472.5,16.4 472,16.5 471.5,16.6 471,16.6 470.5,16.9 470,16.7 469.5,17 469,17 468.5,17 468,17.1 467.5,17.3 467,17.3 466.5,17.7 466,17.6 465.5,17.9 465,17.7 464.5,17.9 464,17.8 463.5,18 463,18.1 462.5,18.1 462,18.4 461.5,18.3 461,18.5 460.5,18.6 460,18.5 459.5,18.5 459,18.8 458.5,18.8 458,19 457.5,19.3 457,19.4 456.5,19.2 456,19.4 455.5,19.4 455,19.7 454.5,19.8 454,19.8 453.5,19.9 453,19.8 452.5,19.8 452,20 451.5,20.2 451,20.2 450.5,20.3 450,20.4 449.5,20.5 449,20.6 448.5,20.7 448,21 447.5,21.1 447,21.5 446.5,21.3 446,21.3 445.5,21.4 445,21.4 444.5,21.4 444,21.7 443.5,21.6 443,21.9 442.5,22.1 442,22.2 441.5,22.1 441,22.2 440.5,22.6 440,22.5 439.5,22.4 439,22.7 438.5,22.8 438,22.9 437.5,23 437,23.1 436.5,23.2 436,23.4 435.5,23.2 435,23.4 434.5,23.5 434,23.7 433.5,23.9 433,24 432.5,23.7 432,23.9 431.5,24.2 431,24.3 430.5,24.5 430,24.5 429.5,24.6 429,24.7 428.5,25 428,24.7 427.5,24.8 427,25.1 426.5,25 426,25.3 425.5,25.6 425,25.5 424.5,25.5 424,25.4 423.5,25.6 423,25.9 422.5,26 422,26.1 421.5,26.1 421,26.1 420.5,26.4 420,26.4 419.5,26.6 419,26.7 418.5,26.6 418,26.8 417.5,27 417,27 416.5,27.3 416,27.3 415.5,27.4 415,27.5 414.5,27.7 414,27.9 413.5,28 413,27.8 412.5,28 412,28.2 411.5,28.3 411,28.3 410.5,28.4 410,28.7 409.5,28.8 409,28.8 408.5,28.8 408,29.2 407.5,29 407,29.1 406.5,29.3 406,29.5 405.5,29.5 405,29.7 404.5,29.9 404,29.8 403.5,30.1 403,30.3 402.5,30.3 402,30.4 401.5,30.7 401,30.8 400.5,31.1 400,31.1 399.5,31.2 399,31.4 398.5,31.4 398,31.2 397.5,31.5 397,31.7 396.5,32 396,31.9 395.5,32.2 395,32.6 394.5,32.5 394,32.7 393.5,32.7 393,32.8 392.5,33.1 392,33.1 391.5,33.4 391,33.6 390.5,33.5 390,33.6 389.5,33.7 389,33.9 388.5,34 388,34.1 387.5,34.4 387,34.4 386.5,34.6 386,34.8 385.5,34.7 385,34.9 384.5,35.1 384,35.1 383.5,35.3 383,35.3 382.5,35.6 382,35.8 381.5,36 381,35.9 380.5,36.1 380,36.2 379.5,36.5 379,36.6 378.5,36.6 378,36.9 377.5,36.9 377,37 376.5,37.1 376,37.1 375.5,37.2 375,37.6 374.5,37.6 374,37.8 373.5,38.1 373,37.8 372.5,38.1 372,38.3 371.5,38.3 371,38.6 370.5,38.7 370,38.7 369.5,38.9 369,39.2 368.5,39 368,39.3 367.5,39.1 367,39.6 366.5,39.6 366,39.4 365.5,39.7 365,39.9 364.5,40 364,39.9 363.5,40.2 363,40.6 362.5,40.5 362,40.7 361.5,40.6 361,41 360.5,41.3 360,41.1 359.5,41.3 359,41.3 358.5,41.6 358,41.8 357.5,41.6 357,42 356.5,42.3 356,42.3 355.5,42.5 355,42.6 354.5,42.8 354,42.9 353.5,43 353,43 352.5,43.1 352,43.3 351.5,43.5 351,43.5 350.5,43.7 350,43.7 349.5,43.9 349,44 348.5,44.2 348,44.2 347.5,44.3 347,44.4 346.5,44.4 346,44.5 345.5,44.8 345,44.9 344.5,45.1 344,45.1 343.5,45.3 343,45.9 342.5,46.6 342,47.3 341.5,47.3 341,46.7 340.5,45.9 340,44.8 339.5,44.1 339,44.3 338.5,45.1 338,46.3 337.5,46.9 337,47 336.5,47.2 336,47.3 335.5,47.2 335,47.5 334.5,47.7 334,47.6 333.5,47.8 333,47.9 332.5,48.1 332,48.4 331.5,48.6 331,48.7 330.5,48.9 330,49 329.5,49.3 329,49.5 328.5,49.6 328,49.8 327.5,49.8 327,50 326.5,50.3 326,50.3 325.5,50.3 325,50.3 324.5,50.6 324,50.7 323.5,50.9 323,51 322.5,51.1 322,51.3 321.5,51.7 321,51.6 320.5,51.8 320,51.7 319.5,52.1 319,52.3 318.5,52.4 318,52.8 317.5,52.8 317,52.7 316.5,52.9 316,53.2 315.5,53.3 315,53.3 314.5,53.5 314,53.7 313.5,53.9 313,54 312.5,54.1 312,54.3 311.5,54.4 311,54.6 310.5,54.7 310,55 309.5,54.9 309,55.1 308.5,55.3 308,55.4 307.5,55.5 307,55.8 306.5,56 306,56 305.5,56.3 305,56.2 304.5,56.5 304,56.7 303.5,56.9 303,57.1 302.5,57.1 302,57.3 301.5,57.4 301,57.7 300.5,57.9 300,57.9 299.5,58.2 299,58.2 298.5,58.4 298,58.6 297.5,58.7 297,58.8 296.5,59.1 296,59.4 295.5,59.6 295,59.4 294.5,59.6 294,59.8 293.5,60.2 293,60.3 292.5,60.4 292,60.7 291.5,60.8 291,61 290.5,61.1 290,61.2 289.5,61 289,61.5 288.5,61.8 288,62.1 287.5,62.5 287,62.6 286.5,62.6 286,62.6 285.5,62.8 285,62.9 284.5,63.1 284,63.4 283.5,63.7 283,63.8 282.5,63.8 282,64 281.5,64.3 281,64.6 280.5,64.8 280,65.1 279.5,65 279,65.3 278.5,65.5 278,65.7 277.5,65.7 277,65.9 276.5,66.3 276,66.2 275.5,66.4 275,66.6 274.5,66.9 274,67 273.5,67.1 273,67.3 272.5,67.5 272,67.8 271.5,67.9 271,68.1 270.5,68.1 270,68.2 269.5,68.4 269,68.6 268.5,68.8 268,68.9 267.5,69.2 267,69.5 266.5,69.5 266,69.4 265.5,69.7 265,69.5 264.5,70 264,70.3 263.5,70.5 263,70.6 262.5,70.6 262,70.8 261.5,70.9 261,71.1 260.5,71.4 260,71.4 259.5,71.6 259,71.6 258.5,71.9 258,72.1 257.5,71.9 257,72.2 256.5,72.4 256,72.4 255.5,72.5 255,72.7 254.5,72.8 254,72.9 253.5,72.9 253,73.5 252.5,73.6 252,73.7 251.5,73.7 251,73.8 250.5,74 250,74.2 249.5,74.3 249,74.5 248.5,74.9 248,74.8 247.5,75.1 247,74.9 246.5,75.2 246,75.5 245.5,75.4 245,75.5 244.5,76 244,76.1 243.5,76.2 243,76.8 242.5,76.9 242,77.4 241.5,77.4 241,76.7 240.5,76.6 240,76.9 239.5,77.4 239,77.7 238.5,77.5 238,77.9 237.5,78.6 237,78 236.5,79.2 236,79.1 235.5,79.2 235,79.2 234.5,80 234,80.2 233.5,79.3 233,80.4 232.5,79.9 232,80 231.5,81 231,82.5 230.5,82.3 230,81.1 229.5,81.1 229,81.7 228.5,84.3 228,83.1 227.5,83.5 227,84.6 226.5,84.8 226,84.2 225.5,85.9 225,86.3 224.5,88.1 224,87.6 223.5,87.9 223,88.8 222.5,88.6 222,90.8 221.5,91.5 221,92.8 220.5,92.3 220,90 219.5,92 219,92.3 218.5,92.4 218,93.1 217.5,92.7 217,92.3 216.5,93 216,93 215.5,91.7 215,94.3 214.5,92.7 214,92.8 213.5,92.8 213,92.3 212.5,93.4 212,93.9 211.5,92.8 211,95.2 210.5,93.8 210,92.1 209.5,92 209,92.2 208.5,92.5 208,93.9 207.5,92.9 207,93 206.5,93.1 206,94.6 205.5,93.7 205,93.1 204.5,93.6 204,93.2 203.5,94.1 203,92.4 202.5,92.4 202,92.5 201.5,93.7 201,94.7 200.5,95.7 200,94.4 199.5,93.6 199,93.9 198.5,93.2 198,94.2 197.5,94.4 197,94 196.5,93.6 196,93.9 195.5,94.1 195,94.6 194.5,95.2 194,96 193.5,94.1 193,95.3 192.5,94.7 192,94.7 191.5,93.7 191,94.4 190.5,95.1 190,95.4 189.5,96.3 189,94.4 188.5,96.9 188,96.4 187.5,96.5 187,96.5 186.5,97.2 186,96.5 185.5,96.6 185,96.7 184.5,96.4 184,95.3 183.5,97 183,96.3 182.5,95.9 182,95.7 181.5,95.8 181,97.2 180.5,97.6 180,96.9 179.5,96.2 179,97.9 178.5,96.4 178,97.9 177.5,97.7 177,97.4 176.5,97 176,97.2 175.5,97.2 175,99.4 174.5,98.4 174,96.5 173.5,97.1 173,95.5 172.5,98.1 172,98.7 171.5,97.7 171,98.1 170.5,98.4 170,97 169.5,98.1 169,97.9 168.5,99 168,98.8 167.5,99.1 167,98.9 166.5,98.4 166,98.1 165.5,98.7 165,99.6 164.5,99.7 164,98.3 163.5,99.7 163,98.7 162.5,99.2 162,99.4 161.5,99.3 161,100 160.5,100.4 160,99.9 159.5,100.9 159,100.4 158.5,100 158,100.1 157.5,101.3 157,100.4 156.5,100.2 156,99.2 155.5,100.2 155,101.8 154.5,100.4 154,101.2 153.5,101 153,102.4 152.5,101.8 152,102.1 151.5,101.5 151,101.4 150.5,102.9 150,102.7 149.5,101.6 149,102.1 148.5,102.9 148,103.5 147.5,102.3 147,103.8 146.5,102.4 146,102.6 145.5,103 145,103.6 144.5,103.7 144,103 143.5,103.9 143,103.6 142.5,103.9 142,104.4 141.5,104.7 141,104.7 140.5,105.9 140,105.7 139.5,105.3 139,104.9 138.5,105.6 138,105.7 137.5,107.3 137,106.8 136.5,107.6 136,107.4 135.5,107.6 135,108 134.5,108.4 134,108.9 133.5,108.1 133,108.2 132.5,108.8 132,108.4 131.5,108.5 131,109.2 130.5,109.1 130,109.9 129.5,111 129,109.9 128.5,110.3 128,110.6 127.5,109.2 127,110.1 126.5,110.7 126,110.1 125.5,110.3 125,111.8 124.5,111.7 124,110.6 123.5,111.6 123,111.6 122.5,111.6 122,111.6 121.5,112.6 121,112.5 120.5,113.2 120,113 119.5,112 119,111.8 118.5,112.9 118,113.6 117.5,113.7 117,112.8 116.5,113.4 116,113.4 115.5,114 115,113.7 114.5,113.2 114,114.2 113.5,113.8 113,113.6 112.5,114.1 112,114.3 111.5,115 111,114.5 110.5,114.9 110,115.2 109.5,115 109,114.8 108.5,114.8 108,115.5 107.5,115.3 107,114.8 106.5,116 106,117.3 105.5,116.5 105,116.4 104.5,115.9 104,116.4 103.5,116.5 103,117.5 102.5,117.9 102,117.4 101.5,117.5 101,117.3 100.5,116.9 100,117.8 99.5,118.4 99,117.5 98.5,117.8 98,117.9 97.5,118.4 97,118.5 96.5,118.2 96,118.1 95.5,118.8 95,118.1 94.5,118.1 94,118.6 93.5,118.2 93,118.7 92.5,118.7 92,118.6 91.5,119 91,120 90.5,120.2 90,119.3 89.5,119.3 89,120.3 88.5,120.3 88,120 87.5,120.2 87,120.3 86.5,119.7 86,120.2 85.5,120.6 85,120.5 84.5,120.7 84,120.9 83.5,120.4 83,120.7 82.5,120.6 82,121.2 81.5,121 81,121 80.5,120.6 80,121.9 79.5,121.7 79,121.2 78.5,121.4 78,121.3 77.5,121.5 77,121.7 76.5,121.8 76,121.4 75.5,121.7 75,121.7 74.5,122.6 74,122.6 73.5,122.3 73,122.3 72.5,123 72,122.2 71.5,122.7 71,122.4 70.5,123.4 70,122.9 69.5,123.3 69,123.1 68.5,123.1 68,123 67.5,123.3 67,123.9 66.5,123.3 66,123.5 65.5,123.9 65,124.1 64.5,123.3 64,123.4 63.5,123.3 63,123.5 62.5,123.4 62,123.4 61.5,123.8 61,123.7 60.5,123.8 60,124 59.5,124.3 59,124 58.5,124 58,124 57.5,124.1 57,124.4 56.5,124" fill="#0f72c2" />
<polygon points="56.5,131.4 57,131.7 57.5,132.3 58,132.5 58.5,132.1 59,132.2 59.5,131.8 60,131.7 60.5,131.6 61,132.1 61.5,131.9 62,131.6 62.5,131.5 63,131.8 63.5,131.6 64,131.3 64.5,131.9 65,131.5 65.5,131.4 66,131.8 66.5,131.6 67,131.2 67.5,131.2 68,130.7 68.5,130.6 69,130.2 69.5,131.1 70,130.3 70.5,130.9 71,130.4 71.5,130.3 72,130.5 72.5,130.6 73,130.7 73.5,131 74,130.6 74.5,130.5 75,130.1 75.5,130.3 76,130.1 76.5,129.8 77,129.9 77.5,129.8 78,129.9 78.5,129.8 79,129.5 79.5,129.3 80,129.7 80.5,128.8 81,129.1 81.5,129.7 82,128.3 82.5,128.8 83,129.2 83.5,128.5 84,129.6 84.5,128.1 85,129.2 85.5,129.3 86,128.9 86.5,128.4 87,128.4 87.5,128 88,128.4 88.5,127.7 89,127.9 89.5,128.2 90,127.4 90.5,127.5 91,127.6 91.5,127.1 92,127.8 92.5,127.4 93,126.7 93.5,127 94,126.7 94.5,126.7 95,126.8 95.5,126.5 96,127 96.5,126.4 97,126.8 97.5,126.4 98,126.6 98.5,126 99,125.8 99.5,125.5 100,126.1 100.5,126.3 101,126.6 101.5,126.2 102,125.6 102.5,125.3 103,125.4 103.5,125.2 104,125.7 104.5,125.3 105,124.5 105.5,124.4 106,125.2 106.5,124.7 107,124.4 107.5,124.7 108,124 108.5,123.9 109,123.6 109.5,123 110,123.9 110.5,123.1 111,123.1 111.5,123.1 112,123.6 112.5,123.2 113,123 113.5,122.2 114,122.6 114.5,122.1 115,122.7 115.5,122.7 116,122.5 116.5,123.3 117,122.6 117.5,122.4 118,122 118.5,121.8 119,122.2 119.5,122.1 120,121 120.5,121.8 121,121.6 121.5,121.6 122,121.2 122.5,120.2 123,120.2 123.5,121.5 124,120.7 124.5,119.7 125,120.3 125.5,119.9 126,118.9 126.5,118.5 127,118.8 127.5,119.7 128,119.5 128.5,119.3 129,119.4 129.5,119.3 130,117.9 130.5,118.4 131,118.1 131.5,117.7 132,117.9 132.5,118 133,117.6 133.5,116.8 134,117.3 134.5,118.4 135,116.5 135.5,115.9 136,116.8 136.5,117 137,116.6 137.5,115.6 138,116.5 138.5,115.3 139,114.8 139.5,115 140,115.3 140.5,115.7 141,115.5 141.5,115 142,115.3 142.5,114.8 143,114.9 143.5,113.2 144,113 144.5,114.2 145,112.9 145.5,113.3 146,113.4 146.5,113 147,113 147.5,113.8 148,111.4 148.5,113.4 149,114.4 149.5,112.8 150,112.5 150.5,113 151,113.4 151.5,111.3 152,111.8 152.5,111.6 153,112 153.5,111.6 154,111.7 154.5,110.8 155,110.9 155.5,110.2 156,110 156.5,110.3 157,110.1 157.5,109.4 158,111.2 158.5,109.8 159,108.8 159.5,110.3 160,109.1 160.5,109.7 161,109.3 161.5,109.3 162,109 162.5,108.3 163,108.8 163.5,109.8 164,106.7 164.5,108 165,108.2 165.5,106.9 166,106.8 166.5,109.1 167,107.6 167.5,109 168,107.8 168.5,107.2 169,107.3 169.5,107.4 170,107.7 170.5,107 171,106.5 171.5,106.5 172,107.3 172.5,106.6 173,105 173.5,105.1 174,105.7 174.5,104.9 175,104.8 175.5,104.4 176,104.8 176.5,105.3 177,105.6 177.5,105 178,106.2 178.5,104.9 179,106.9 179.5,105.3 180,104.4 180.5,103.2 181,101.4 181.5,103.1 182,103.7 182.5,104.6 183,102.4 183.5,104.2 184,102.8 184.5,102.8 185,100.4 185.5,101.9 186,101.8 186.5,102.3 187,101.6 187.5,100.6 188,101.9 188.5,101.7 189,101.4 189.5,101.5 190,101.3 190.5,100.1 191,98.7 191.5,98.7 192,100.6 192.5,100.1 193,99.3 193.5,98.6 194,98.8 194.5,98.6 195,98 195.5,97.8 196,99.6 196.5,98.1 197,97 197.5,96.2 198,96.5 198.5,97.5 199,97.4 199.5,96.5 200,96.3 200.5,95.8 201,95.1 201.5,96.6 202,96.2 202.5,97.2 203,94.7 203.5,94.7 204,95.2 204.5,94.1 205,92.9 205.5,93 206,93.7 206.5,93.7 207,93.3 207.5,93.9 208,93.8 208.5,93 209,92.5 209.5,92.1 210,92.6 210.5,92.7 211,91.9 211.5,91.9 212,91 212.5,89.9 213,90.2 213.5,91.4 214,91.4 214.5,91.9 215,90.8 215.5,91.2 216,91.5 216.5,91.1 217,89.8 217.5,90 218,90.2 218.5,89.6 219,90.8 219.5,91.4 220,90.6 220.5,92.3 221,91 221.5,91 222,91.1 222.5,91.1 223,92.2 223.5,92.4 224,93.9 224.5,93.5 225,93.6 225.5,93.2 226,92.7 226.5,93.9 227,94 227.5,95.5 228,95.4 228.5,96.7 229,96.4 229.5,96.5 230,96.2 230.5,96.3 231,96.8 231.5,97 232,95.9 232.5,97 233,98.6 233.5,96.6 234,96.2 234.5,95.7 235,95.4 235.5,97 236,96.5 236.5,96.6 237,97.7 237.5,97.9 238,95.9 238.5,96.7 239,96.5 239.5,96.3 240,96.2 240.5,96 241,96.7 241.5,96.2 242,96 242.5,96.4 243,96.1 243.5,95.8 244,95.7 244.5,96.2 245,95.6 245.5,95.1 246,94.6 246.5,94.7 247,94.3 247.5,94.8 248,94.7 248.5,93.6 249,94.4 249.5,94.6 250,94.3 250.5,93.8 251,94.5 251.5,93.6 252,93.2 252.5,93.2 253,93.6 253.5,93.9 254,93.9 254.5,93.3 255,92.6 255.5,92.7 256,92.5 256.5,92.6 257,92 257.5,92.6 258,92.7 258.5,92.3 259,92.3 259.5,91.8 260,91.4 260.5,91.7 261,92.2 261.5,92 262,91.5 262.5,91.8 263,91.3 263.5,91.7 264,91.3 264.5,90.9 265,91 265.5,90.5 266,90.2 266.5,90 267,90.4 267.5,90.3 268,90.1 268.5,90 269,90.4 269.5,89.7 270,89.5 270.5,90.1 271,90.1 271.5,89.5 272,88.8 272.5,89 273,89.3 273.5,89.1 274,89.4 274.5,88.5 275,88.9 275.5,88.5 276,88.9 276.5,88.5 277,88.7 277.5,88 278,87.6 278.5,87.6 279,87.7 279.5,87.6 280,88.2 280.5,88.2 281,87.7 281.5,87.2 282,87.3 282.5,87.2 283,87.7 283.5,87.3 284,87.2 284.5,86.7 285,86.1 285.5,86.3 286,86.3 286.5,86.6 287,86.4 287.5,86.1 288,86.1 288.5,86.6 289,85.8 289.5,85.6 290,85.7 290.5,85.5 291,85.5 291.5,85.8 292,86 292.5,84.8 293,85.2 293.5,85.1 294,85 294.5,84.8 295,84.7 295.5,85 296,84.5 296.5,84.4 297,84.4 297.5,84.3 298,84.1 298.5,84.3 299,83.9 299.5,83.8 300,83.6 300.5,83.2 301,83 301.5,82.9 302,83.1 302.5,82.7 303,82.5 303.5,82.8 304,82.7 304.5,82 305,82.9 305.5,82.3 306,82.1 306.5,82.4 307,81.9 307.5,81.7 308,82.3 308.5,81.3 309,81.4 309.5,81.5 310,80.8 310.5,81 311,81.2 311.5,81.6 312,80.5 312.5,80.6 313,80.7 313.5,80.4 314,79.9 314.5,80.2 315,80.1 315.5,80.1 316,80.2 316.5,80.1 317,79.8 317.5,79.5 318,79 318.5,79.2 319,79.2 319.5,78.9 320,78.9 320.5,78.6 321,79.3 321.5,79.4 322,78.5 322.5,78.5 323,78.3 323.5,78.6 324,78.3 324.5,78 325,77.8 325.5,77.7 326,77.3 326.5,77.7 327,77.2 327.5,77.5 328,77.3 328.5,77.5 329,77.1 329.5,77.2 330,76.6 330.5,76.8 331,76.5 331.5,76.5 332,76.4 332.5,76.5 333,75.5 333.5,76 334,75.5 334.5,76.1 335,75.1 335.5,75.2 336,75 336.5,75.9 337,75 337.5,75.1 338,74.5 338.5,73.5 339,73.5 339.5,73.6 340,73.5 340.5,74.2 341,74.1 341.5,74.3 342,74.2 342.5,74.5 343,74.9 343.5,74.3 344,74.1 344.5,73.7 345,73.6 345.5,74.1 346,73.3 346.5,73.2 347,73.4 347.5,73.3 348,73.8 348.5,72.5 349,73.1 349.5,73.2 350,72.5 350.5,72.5 351,72.9 351.5,73.1 352,72.2 352.5,71.9 353,72.6 353.5,72.8 354,72 354.5,71.3 355,72.3 355.5,71.9 356,72.1 356.5,71.7 357,71.4 357.5,71.4 358,71.9 358.5,71.7 359,70.5 359.5,70.7 360,71.5 360.5,70.8 361,70.3 361.5,70.6 362,70.6 362.5,70.4 363,70.2 363.5,70.1 364,70 364.5,70.1 365,69.7 365.5,69.7 366,69.8 366.5,70.1 367,69.7 367.5,69.4 368,69.5 368.5,69.4 369,69.5 369.5,69.3 370,69.5 370.5,69.2 371,68.6 371.5,68.3 372,68.6 372.5,68.3 373,67.9 373.5,67.3 374,67 374.5,67.7 375,67.8 375.5,67.6 376,66.9 376.5,67.4 377,66.9 377.5,67.1 378,66.9 378.5,66.4 379,66.3 379.5,65.7 380,65.9 380.5,65.6 381,66.2 381.5,66.2 382,66.3 382.5,66 383,65.6 383.5,65.8 384,65.5 384.5,65.7 385,65.5 385.5,65 386,65.2 386.5,65.1 387,65 387.5,65.3 388,65.5 388.5,64.7 389,64.4 389.5,63.7 390,64.3 390.5,64.1 391,63.5 391.5,64.2 392,64.3 392.5,63.8 393,63.7 393.5,63.6 394,63.9 394.5,63.2 395,63.5 395.5,64.2 396,63.6 396.5,63.6 397,63.2 397.5,62.8 398,63.1 398.5,63.2 399,62.7 399.5,63.1 400,63.4 400.5,63.1 401,62.1 401.5,62.1 402,62 402.5,62.8 403,62.7 403.5,62.6 404,61.9 404.5,61.7 405,62.1 405.5,62 406,61.6 406.5,61.9 407,62 407.5,61.8 408,61.2 408.5,60.8 409,61.3 409.5,61.5 410,61.3 410.5,61.1 411,61 411.5,61.4 412,61.1 412.5,61 413,60.6 413.5,60.6 414,60.8 414.5,60.3 415,60.1 415.5,60.5 416,60.9 416.5,60.6 417,60.9 417.5,60.3 418,60 418.5,59.6 419,59.9 419.5,60.5 420,60.1 420.5,60.1 421,60 421.5,59.7 422,59.5 422.5,59.6 423,59.7 423.5,59.6 424,59.5 424.5,59.2 425,58.8 425.5,58.9 426,58.7 426.5,59.1 427,58.1 427.5,58.7 428,59.5 428.5,58.5 429,58.1 429.5,58.4 430,58.8 430.5,58.3 431,58.4 431.5,58.2 432,58.1 432.5,59.1 433,58.1 433.5,57.6 434,57.6 434.5,57.8 435,57.8 435.5,57.9 436,57.5 436.5,56.9 437,57.5 437.5,57.2 438,57.1 438.5,56.6 439,56.8 439.5,56.8 440,56.9 440.5,56.4 441,56.8 441.5,56.8 442,56.3 442.5,56.4 443,56.3 443.5,56.7 444,55.6 444.5,56.1 445,55.7 445.5,56.1 446,56.5 446.5,56 447,56.1 447.5,55.8 448,56.6 448.5,56.3 449,56.2 449.5,55.2 450,55.2 450.5,55.8 451,55.4 451.5,55.2 452,55.3 452.5,54.7 453,55.2 453.5,55 454,55 454.5,54.6 455,54.8 455.5,54.4 456,54.9 456.5,54.9 457,54.8 457.5,54.5 458,54.3 458.5,53.2 459,54.2 459.5,53.9 460,53.9 460.5,53.6 461,53.1 461.5,53.4 462,53.8 462.5,54 463,53.2 463.5,53 464,53.7 464.5,53 465,53.8 465.5,53.1 466,52.7 466.5,53.3 467,53.4 467.5,52.4 468,53.2 468.5,52.6 469,53 469.5,52.3 470,51.8 470.5,52.5 471,52.7 471.5,53.1 472,52.9 472.5,52.4 473,51.9 473.5,51.7 474,51.7 474.5,51.4 475,51.4 475.5,50.7 476,51.5 476.5,51.6 477,52.4 477.5,51.8 478,51.2 478.5,51.4 479,50.7 479.5,50.7 480,50.4 480.5,51.5 481,51.2 481.5,50.4 482,50.8 482.5,51.1 483,50.9 483.5,50.7 484,50.2 484.5,50.2 485,50.4 485.5,50.6 486,49.9 486.5,49.8 487,50.4 487.5,49.8 488,50.3 488.5,50.1 489,50.2 489.5,50.5 490,50 490.5,49.8 491,49.1 491.5,49.1 492,49.6 492.5,50 493,49.9 493.5,50.1 494,49.3 494.5,49.1 495,49.3 495.5,48.9 496,48.7 496.5,48.3 497,48.9 497.5,48.2 498,48.5 498.5,48 499,48.6 499.5,48 500,48.4 500.5,47.6 501,47.9 501.5,48.4 502,47.7 502.5,47.9 503,47.5 503.5,46.9 504,47.8 504.5,47.8 505,47.2 505.5,47.7 506,47.2 506.5,47 507,47.3 507.5,47.2 508,48 508.5,46.8 509,47.4 509.5,47.4 510,46.2 510.5,46.2 511,47 511.5,46.7 512,47 512.5,47.2 513,46.5 513.5,46 514,45.5 514.5,46.4 515,46.1 515.5,46.5 516,46.3 516.5,45.8 517,46.8 517.5,46.7 518,46.4 518.5,45.6 519,45.7 519.5,45.6 520,45.6 520.5,45.3 521,45.8 521.5,45.8 522,45.7 522.5,45.4 523,45.9 523.5,45.4 524,44.2 524.5,44.9 525,45.2 525.5,45.5 526,45 526.5,44.9 527,44.7 527.5,45.1 528,44.6 528.5,44.5 529,44.4 529.5,44.9 529.5,48.9 529,48.7 528.5,49.4 528,49.3 527.5,49.9 527,49.6 526.5,49.4 526,49.5 525.5,50.2 525,50.3 524.5,49.7 524,49.6 523.5,49.9 523,50 522.5,50.5 522,50.2 521.5,50 521,50.5 520.5,51 520,51 519.5,50.9 519,50 518.5,50 518,51.1 517.5,50.6 517,50.9 516.5,51.4 516,51.3 515.5,50.8 515,50.9 514.5,50.7 514,50.8 513.5,51 513,51 512.5,51.5 512,51.3 511.5,51.9 511,52.2 510.5,51.7 510,51.8 509.5,52.2 509,52.9 508.5,52.1 508,52.3 507.5,51.9 507,52.6 506.5,52.4 506,52.1 505.5,51.9 505,53.1 504.5,53.1 504,52.5 503.5,52.5 503,53.2 502.5,53.3 502,52.8 501.5,52.3 501,52.9 500.5,52.8 500,53.1 499.5,53.2 499,53.4 498.5,53.3 498,52.7 497.5,52.7 497,53.1 496.5,53.3 496,54 495.5,54.2 495,53.3 494.5,53.8 494,53.4 493.5,53.3 493,54.2 492.5,53.7 492,54.1 491.5,54.6 491,55.9 490.5,54.9 490,54.4 489.5,54.1 489,54.6 488.5,54.6 488,54.9 487.5,55.1 487,54.8 486.5,55.2 486,54.6 485.5,55.3 485,55 484.5,55.5 484,55.9 483.5,55.2 483,54.8 482.5,54.9 482,55.3 481.5,55.8 481,55.7 480.5,55.7 480,55.4 479.5,55.6 479,55.5 478.5,55.7 478,55.9 477.5,55.5 477,55.8 476.5,56.4 476,55.9 475.5,56.6 475,56.9 474.5,55.9 474,56.4 473.5,57.2 473,56.6 472.5,56.3 472,57.4 471.5,57 471,57.3 470.5,57.3 470,56.9 469.5,57.1 469,57.1 468.5,57.5 468,57.6 467.5,57.4 467,57.5 466.5,58 466,57.9 465.5,57.9 465,58.1 464.5,57.2 464,57.9 463.5,57.9 463,58.3 462.5,57.8 462,58 461.5,58.1 461,58.7 460.5,57.8 460,57.9 459.5,57.7 459,58.8 458.5,58.6 458,58.7 457.5,58.6 457,58.3 456.5,58.7 456,59.2 455.5,59.4 455,60 454.5,59.4 454,59.7 453.5,59.8 453,59.3 452.5,59.8 452,59.6 451.5,59.6 451,60.6 450.5,60 450,60.3 449.5,60.3 449,60.1 448.5,60.1 448,59.9 447.5,60.7 447,60.9 446.5,61.6 446,61.1 445.5,61.2 445,61.3 444.5,61.5 444,60.6 443.5,61.1 443,61.9 442.5,61.7 442,61.3 441.5,61.2 441,61.5 440.5,61.6 440,61.7 439.5,60.9 439,61.1 438.5,62 438,61.8 437.5,62.6 437,62.3 436.5,61.8 436,62.3 435.5,62.4 435,62 434.5,61.6 434,62.3 433.5,62.2 433,62.6 432.5,62.9 432,62.3 431.5,61.7 431,62.4 430.5,62.6 430,62.9 429.5,63.6 429,63.2 428.5,63.5 428,63.4 427.5,63.3 427,63.2 426.5,63.8 426,63.8 425.5,62.9 425,63.5 424.5,63.7 424,64.3 423.5,63.4 423,64 422.5,64.3 422,65 421.5,64.2 421,64.5 420.5,63.6 420,64 419.5,64.4 419,65.2 418.5,64.8 418,65.6 417.5,65.5 417,64.8 416.5,64.3 416,65 415.5,65 415,65 414.5,65.6 414,65.6 413.5,65 413,64.9 412.5,65.6 412,66.1 411.5,66.1 411,66.5 410.5,65.8 410,65.1 409.5,66.2 409,66.3 408.5,66 408,66.1 407.5,65.8 407,65.9 406.5,66.4 406,65.9 405.5,66.7 405,66.6 404.5,66.7 404,66.9 403.5,67.2 403,67 402.5,66.7 402,66.8 401.5,66.6 401,66.7 400.5,67.3 400,66.8 399.5,67.1 399,67.4 398.5,67.6 398,67.6 397.5,67.9 397,67.4 396.5,67.7 396,67.5 395.5,68.2 395,68.5 394.5,69.1 394,68.4 393.5,67.9 393,68 392.5,68.3 392,68.3 391.5,68.4 391,69 390.5,68.1 390,68.5 389.5,69 389,68.9 388.5,69 388,70 387.5,69.3 387,69.4 386.5,69.9 386,69.7 385.5,70 385,70.5 384.5,70.1 384,70.2 383.5,70 383,70.3 382.5,70.1 382,71.1 381.5,71 381,70.6 380.5,71.3 380,70.6 379.5,70.9 379,71.6 378.5,71.8 378,71.3 377.5,71.5 377,71.6 376.5,71.7 376,71.6 375.5,71.2 375,72.1 374.5,72.5 374,72.7 373.5,72.3 373,72 372.5,71.9 372,72.6 371.5,72.9 371,72.4 370.5,72.6 370,73.2 369.5,73.2 369,73.7 368.5,73.8 368,73.8 367.5,73.6 367,74 366.5,73.7 366,74.5 365.5,74.4 365,74.5 364.5,74.3 364,73.9 363.5,74.7 363,75 362.5,74.9 362,74.6 361.5,75 361,74.9 360.5,75.5 360,75.8 359.5,75.3 359,75.5 358.5,75.2 358,75.6 357.5,75.4 357,76.2 356.5,76.3 356,76.2 355.5,76.5 355,76.8 354.5,76.2 354,76.3 353.5,76.9 353,76.6 352.5,77 352,77.3 351.5,77.3 351,77.5 350.5,77.3 350,77.2 349.5,76.9 349,76.8 348.5,77.1 348,76.9 347.5,77.7 347,77.5 346.5,77.6 346,78.6 345.5,77.9 345,78.2 344.5,78.3 344,78 343.5,78.5 343,78.5 342.5,78.7 342,78.9 341.5,79.2 341,79.2 340.5,78.8 340,78.9 339.5,78.7 339,78.6 338.5,79.1 338,79.3 337.5,80 337,80.1 336.5,79.4 336,80.2 335.5,79.7 335,79.5 334.5,79.6 334,80 333.5,80.4 333,80.3 332.5,80.7 332,80.8 331.5,80.5 331,80.3 330.5,80.5 330,80.5 329.5,81.3 329,81.8 328.5,81.5 328,81.4 327.5,81.6 327,81.5 326.5,81.8 326,82 325.5,82.1 325,81.8 324.5,82.3 324,82.6 323.5,83 323,83.2 322.5,82.6 322,82.6 321.5,83.1 321,82.9 320.5,83 320,83.5 319.5,83.3 319,83.3 318.5,83.1 318,83.5 317.5,84 317,84.2 316.5,84.1 316,83.9 315.5,84.2 315,84.2 314.5,84.4 314,84.8 313.5,84.8 313,84.8 312.5,85.1 312,84.9 311.5,85.1 311,85.3 310.5,85.1 310,85.1 309.5,84.9 309,85.5 308.5,85.4 308,85.9 307.5,85.9 307,86.3 306.5,85.9 306,86 305.5,86.2 305,86.3 304.5,86.8 304,86.7 303.5,86.9 303,86.5 302.5,87 302,87.1 301.5,87.4 301,87.8 300.5,87.8 300,87.8 299.5,87.6 299,88.4 298.5,88.7 298,88.4 297.5,88.4 297,88.7 296.5,88.8 296,88.4 295.5,88.6 295,88.8 294.5,89.5 294,89.3 293.5,89.2 293,90 292.5,89.7 292,89.4 291.5,89.7 291,89.6 290.5,89.5 290,89.8 289.5,90.4 289,90.2 288.5,90.3 288,90.1 287.5,90.1 287,90.2 286.5,90.9 286,90.4 285.5,90.3 285,90.5 284.5,90.6 284,91.3 283.5,91.1 283,91.5 282.5,91.7 282,91 281.5,91.8 281,92 280.5,91.2 280,91.2 279.5,91.6 279,91.1 278.5,91.8 278,92.2 277.5,92.7 277,92.4 276.5,92.4 276,92.6 275.5,92.7 275,93.3 274.5,92.8 274,92.4 273.5,93.1 273,93.4 272.5,93.3 272,93.7 271.5,93.6 271,93.7 270.5,94 270,94.2 269.5,93.6 269,93.3 268.5,93.5 268,93.6 267.5,94.6 267,94.6 266.5,94.8 266,94.2 265.5,94.6 265,95.1 264.5,95.2 264,95.2 263.5,95.6 263,95.3 262.5,95.2 262,95.7 261.5,95.7 261,96 260.5,95.6 260,96 259.5,96.2 259,97.1 258.5,96.9 258,97 257.5,97 257,97.6 256.5,97.3 256,98.6 255.5,98.2 255,98.5 254.5,99 254,98.6 253.5,98 253,98.6 252.5,99.6 252,99.6 251.5,99.5 251,99.7 250.5,99.3 250,100.2 249.5,100.3 249,100 248.5,99.9 248,100.6 247.5,101.2 247,100.5 246.5,99.8 246,101.7 245.5,100.6 245,100.5 244.5,101.1 244,101.9 243.5,101.7 243,101.8 242.5,102 242,101.8 241.5,101.4 241,101.3 240.5,101.5 240,103.3 239.5,102.9 239,103.7 238.5,103.5 238,102.8 237.5,103.7 237,103.8 236.5,104.9 236,104.9 235.5,104.5 235,105.1 234.5,105 234,106.2 233.5,105.3 233,105.9 232.5,105.2 232,108 231.5,107.8 231,107.9 230.5,108.3 230,109 229.5,110.2 229,109.4 228.5,111.9 228,112.1 227.5,113.6 227,113.4 226.5,113.7 226,114.8 225.5,114.4 225,115.9 224.5,114.1 224,115.3 223.5,116.6 223,116.6 222.5,117 222,116.1 221.5,117.1 221,116.4 220.5,117 220,116.7 219.5,118.3 219,118.7 218.5,117.8 218,118.1 217.5,117.7 217,116.8 216.5,118.1 216,118.1 215.5,117.5 215,118.3 214.5,119.1 214,119.1 213.5,117.6 213,118.1 212.5,117.1 212,117.1 211.5,116.5 211,116.5 210.5,118.6 210,118 209.5,118.2 209,119.4 208.5,118.1 208,117.6 207.5,117.4 207,116.1 206.5,116.8 206,117.3 205.5,117.5 205,118.4 204.5,117.5 204,115.6 203.5,117.1 203,116.3 202.5,115.7 202,115.1 201.5,115.6 201,116.2 200.5,114.9 200,117.2 199.5,117.1 199,116 198.5,116.7 198,115.6 197.5,116.3 197,115.6 196.5,116.1 196,117.5 195.5,118.3 195,117.2 194.5,114.9 194,116.6 193.5,116.7 193,117 192.5,116.4 192,115.9 191.5,116.2 191,117 190.5,116.5 190,116.8 189.5,116.9 189,117.3 188.5,117.8 188,116.5 187.5,115.5 187,116.5 186.5,116.2 186,116.1 185.5,118.2 185,116.5 184.5,116.5 184,117.1 183.5,117.1 183,116 182.5,116.4 182,117.2 181.5,117.3 181,117.3 180.5,117.6 180,117.1 179.5,117.3 179,117.5 178.5,117.6 178,117 177.5,116.6 177,116.7 176.5,117.6 176,118.3 175.5,119 175,118.7 174.5,118.4 174,118.4 173.5,117.7 173,116.7 172.5,116.8 172,118.3 171.5,118.3 171,118 170.5,117.8 170,118.4 169.5,117.5 169,118.5 168.5,118.6 168,119.2 167.5,118.8 167,119.2 166.5,118.9 166,117.9 165.5,118.8 165,118.3 164.5,118.9 164,120.2 163.5,118.9 163,120.2 162.5,120.2 162,119.7 161.5,119.1 161,119.6 160.5,119 160,120.5 159.5,120.1 159,121.1 158.5,121 158,120.4 157.5,119 157,119.4 156.5,120.1 156,121 155.5,120 155,119.7 154.5,122.1 154,120.5 153.5,120 153,121.1 152.5,121.3 152,121.2 151.5,121.3 151,121.6 150.5,120.7 150,121.5 149.5,120.6 149,120.3 148.5,121.4 148,122.5 147.5,122.8 147,121.5 146.5,121.7 146,122 145.5,122.9 145,122.4 144.5,121.8 144,121.7 143.5,122.8 143,121.7 142.5,121.1 142,122 141.5,123.3 141,123.3 140.5,121.5 140,122.8 139.5,123.8 139,124.3 138.5,123.6 138,123.7 137.5,123.5 137,124 136.5,124.1 136,124.6 135.5,124.1 135,123.8 134.5,124.7 134,124.5 133.5,124.5 133,125.9 132.5,124.8 132,123.9 131.5,125.4 131,124.9 130.5,125.3 130,125.5 129.5,126.4 129,124.7 128.5,125 128,125.1 127.5,126.1 127,125.4 126.5,126.5 126,126.3 125.5,125.9 125,126.2 124.5,126.3 124,127.3 123.5,127.4 123,126.6 122.5,127.2 122,126.7 121.5,127.4 121,126.9 120.5,126.7 120,127.4 119.5,126.6 119,127.1 118.5,128.1 118,127.6 117.5,127.5 117,128.1 116.5,128 116,128.5 115.5,127.7 115,128 114.5,127.9 114,128.5 113.5,128.7 113,129.8 112.5,128.5 112,128.9 111.5,128.3 111,129.2 110.5,129.5 110,129.7 109.5,129.3 109,129.1 108.5,130.1 108,129.4 107.5,130.4 107,129.8 106.5,129.6 106,129.7 105.5,129.9 105,130.6 104.5,130.4 104,131.1 103.5,130.6 103,130.1 102.5,130.5 102,131.3 101.5,130.6 101,130.7 100.5,131 100,130.8 99.5,130.9 99,131.6 98.5,131.6 98,131.9 97.5,131.8 97,131.4 96.5,131.4 96,131.8 95.5,131.6 95,131.3 94.5,131.2 94,131.9 93.5,132 93,132.2 92.5,132.6 92,132.1 91.5,132.7 91,132.8 90.5,132.5 90,132.5 89.5,132.9 89,132.1 88.5,132 88,132.3 87.5,132.1 87,132.6 86.5,133.3 86,132.9 85.5,133.4 85,133.2 84.5,133.1 84,133.4 83.5,133.8 83,134.1 82.5,134.5 82,134.2 81.5,133.7 81,133.2 80.5,133.8 80,133.8 79.5,134.3 79,134.3 78.5,134.8 78,134.2 77.5,134.1 77,134.4 76.5,134.4 76,134.2 75.5,134.8 75,134.8 74.5,134.6 74,134.1 73.5,134.3 73,134.2 72.5,134.7 72,135 71.5,134.8 71,134.3 70.5,134.8 70,135.3 69.5,135.6 69,135 68.5,135 68,135.4 67.5,134.8 67,135.4 66.5,135.5 66,135.4 65.5,135.4 65,135.5 64.5,135.8 64,134.9 63.5,135.4 63,136 62.5,135.8 62,136.1 61.5,135.3 61,135.6 60.5,135.6 60,136.1 59.5,136.2 59,136 58.5,135.9 58,135.7 57.5,136 57,135.4 56.5,135.7" fill="#a06ad8" opacity="0.6"/>
<polygon points="56.5,131.7 57,131.9 57.5,132.5 58,132.7 58.5,132.4 59,132.4 59.5,132.1 60,132 60.5,131.9 61,132.3 61.5,132.1 62,131.9 62.5,131.8 63,132 63.5,131.9 64,131.6 64.5,132.2 65,131.8 65.5,131.7 66,132 66.5,131.9 67,131.5 67.5,131.5 68,131 68.5,130.9 69,130.5 69.5,131.3 70,130.5 70.5,131.1 71,130.7 71.5,130.5 72,130.7 72.5,130.9 73,131 73.5,131.3 74,130.8 74.5,130.8 75,130.3 75.5,130.6 76,130.4 76.5,130.1 77,130.1 77.5,130.1 78,130.1 78.5,130.1 79,129.7 79.5,129.6 80,129.9 80.5,129.1 81,129.4 81.5,129.9 82,128.5 82.5,129 83,129.4 83.5,128.8 84,129.9 84.5,128.3 85,129.4 85.5,129.5 86,129.2 86.5,128.7 87,128.7 87.5,128.2 88,128.6 88.5,128 89,128.1 89.5,128.4 90,127.7 90.5,127.8 91,127.8 91.5,127.3 92,128.1 92.5,127.7 93,126.9 93.5,127.3 94,127 94.5,126.9 95,127.1 95.5,126.8 96,127.2 96.5,126.6 97,127.1 97.5,126.7 98,126.8 98.5,126.2 99,126 99.5,125.7 100,126.3 100.5,126.5 101,126.9 101.5,126.5 102,125.9 102.5,125.5 103,125.6 103.5,125.5 104,125.9 104.5,125.6 105,124.7 105.5,124.7 106,125.4 106.5,124.9 107,124.6 107.5,125 108,124.3 108.5,124.1 109,123.8 109.5,123.2 110,124.2 110.5,123.3 111,123.4 111.5,123.3 112,123.8 112.5,123.4 113,123.2 113.5,122.4 114,122.8 114.5,122.3 115,122.9 115.5,122.9 116,122.8 116.5,123.5 117,122.8 117.5,122.6 118,122.3 118.5,122 119,122.5 119.5,122.3 120,121.2 120.5,122.1 121,121.9 121.5,121.9 122,121.4 122.5,120.5 123,120.5 123.5,121.7 124,120.9 124.5,120 125,120.6 125.5,120.1 126,119.2 126.5,118.8 127,119.1 127.5,119.9 128,119.7 128.5,119.5 129,119.7 129.5,119.5 130,118.1 130.5,118.7 131,118.3 131.5,117.9 132,118.1 132.5,118.2 133,117.9 133.5,117.1 134,117.5 134.5,118.6 135,116.8 135.5,116.1 136,117.1 136.5,117.2 137,116.9 137.5,115.9 138,116.7 138.5,115.6 139,115.1 139.5,115.2 140,115.5 140.5,115.9 141,115.7 141.5,115.2 142,115.6 142.5,115 143,115.1 143.5,113.5 144,113.2 144.5,114.5 145,113.1 145.5,113.6 146,113.6 146.5,113.2 147,113.3 147.5,114.1 148,111.6 148.5,113.7 149,114.7 149.5,113 150,112.7 150.5,113.2 151,113.7 151.5,111.5 152,112 152.5,111.9 153,112.2 153.5,111.9 154,112 154.5,111.1 155,111.1 155.5,110.5 156,110.3 156.5,110.6 157,110.4 157.5,109.7 158,111.4 158.5,110.1 159,109 159.5,110.5 160,109.3 160.5,109.9 161,109.5 161.5,109.5 162,109.2 162.5,108.6 163,109 163.5,110.1 164,107 164.5,108.3 165,108.5 165.5,107.2 166,107 166.5,109.4 167,107.8 167.5,109.2 168,108.1 168.5,107.4 169,107.6 169.5,107.7 170,107.9 170.5,107.2 171,106.8 171.5,106.8 172,107.5 172.5,106.9 173,105.3 173.5,105.4 174,105.9 174.5,105.2 175,105.1 175.5,104.6 176,105 176.5,105.6 177,105.9 177.5,105.2 178,106.4 178.5,105.1 179,107.1 179.5,105.6 180,104.7 180.5,103.4 181,101.6 181.5,103.4 182,103.9 182.5,104.9 183,102.6 183.5,104.5 184,103 184.5,103 185,100.7 185.5,102.2 186,102 186.5,102.5 187,101.8 187.5,100.8 188,102.1 188.5,101.9 189,101.7 189.5,101.8 190,101.6 190.5,100.4 191,99 191.5,98.9 192,100.8 192.5,100.3 193,99.5 193.5,98.9 194,99 194.5,98.8 195,98.3 195.5,98.1 196,99.9 196.5,98.4 197,97.2 197.5,96.4 198,96.8 198.5,97.8 199,97.7 199.5,96.7 200,96.6 200.5,96 201,95.4 201.5,96.9 202,96.4 202.5,97.4 203,94.9 203.5,94.9 204,95.5 204.5,94.3 205,93.1 205.5,93.2 206,93.9 206.5,94 207,93.6 207.5,94.2 208,94 208.5,93.3 209,92.7 209.5,92.4 210,92.8 210.5,92.9 211,92.2 211.5,92.1 212,91.2 212.5,90.2 213,90.4 213.5,91.7 214,91.6 214.5,92.2 215,91 215.5,91.5 216,91.8 216.5,91.3 217,90.1 217.5,90.3 218,90.5 218.5,89.9 219,91.1 219.5,91.6 220,90.9 220.5,92.6 221,91.2 221.5,91.2 222,91.4 222.5,91.4 223,92.4 223.5,92.7 224,94.1 224.5,93.8 225,93.9 225.5,93.5 226,93 226.5,94.2 227,94.2 227.5,95.8 228,95.6 228.5,97 229,96.6 229.5,96.7 230,96.4 230.5,96.5 231,97 231.5,97.2 232,96.2 232.5,97.2 233,98.8 233.5,96.9 234,96.4 234.5,96 235,95.7 235.5,97.3 236,96.7 236.5,96.9 237,97.9 237.5,98.1 238,96.1 238.5,97 239,96.8 239.5,96.6 240,96.5 240.5,96.3 241,97 241.5,96.5 242,96.3 242.5,96.6 243,96.4 243.5,96 244,96 244.5,96.5 245,95.8 245.5,95.3 246,94.8 246.5,94.9 247,94.6 247.5,95 248,94.9 248.5,93.9 249,94.6 249.5,94.9 250,94.5 250.5,94.1 251,94.7 251.5,93.9 252,93.4 252.5,93.4 253,93.8 253.5,94.2 254,94.1 254.5,93.6 255,92.9 255.5,92.9 256,92.8 256.5,92.8 257,92.3 257.5,92.8 258,92.9 258.5,92.6 259,92.6 259.5,92 260,91.7 260.5,91.9 261,92.4 261.5,92.3 262,91.8 262.5,92 263,91.6 263.5,91.9 264,91.5 264.5,91.1 265,91.3 265.5,90.7 266,90.5 266.5,90.3 267,90.7 267.5,90.5 268,90.4 268.5,90.2 269,90.6 269.5,90 270,89.8 270.5,90.3 271,90.3 271.5,89.8 272,89 272.5,89.2 273,89.6 273.5,89.4 274,89.6 274.5,88.7 275,89.1 275.5,88.8 276,89.2 276.5,88.8 277,88.9 277.5,88.3 278,87.9 278.5,87.9 279,87.9 279.5,87.8 280,88.5 280.5,88.5 281,88 281.5,87.4 282,87.6 282.5,87.4 283,87.9 283.5,87.6 284,87.4 284.5,87 285,86.4 285.5,86.6 286,86.5 286.5,86.9 287,86.7 287.5,86.3 288,86.4 288.5,86.8 289,86 289.5,85.8 290,86 290.5,85.7 291,85.8 291.5,86 292,86.2 292.5,85.1 293,85.4 293.5,85.4 294,85.2 294.5,85.1 295,85 295.5,85.3 296,84.7 296.5,84.7 297,84.6 297.5,84.5 298,84.4 298.5,84.6 299,84.2 299.5,84.1 300,83.8 300.5,83.4 301,83.3 301.5,83.2 302,83.4 302.5,83 303,82.8 303.5,83.1 304,83 304.5,82.3 305,83.1 305.5,82.6 306,82.4 306.5,82.6 307,82.2 307.5,81.9 308,82.5 308.5,81.5 309,81.6 309.5,81.8 310,81.1 310.5,81.2 311,81.4 311.5,81.8 312,80.8 312.5,80.8 313,80.9 313.5,80.6 314,80.1 314.5,80.5 315,80.3 315.5,80.4 316,80.5 316.5,80.3 317,80 317.5,79.8 318,79.3 318.5,79.4 319,79.4 319.5,79.2 320,79.1 320.5,78.9 321,79.5 321.5,79.6 322,78.7 322.5,78.7 323,78.5 323.5,78.8 324,78.5 324.5,78.2 325,78 325.5,78 326,77.6 326.5,77.9 327,77.5 327.5,77.7 328,77.6 328.5,77.7 329,77.3 329.5,77.4 330,76.8 330.5,77.1 331,76.8 331.5,76.8 332,76.7 332.5,76.7 333,75.8 333.5,76.3 334,75.8 334.5,76.4 335,75.3 335.5,75.4 336,75.3 336.5,76.1 337,75.2 337.5,75.3 338,74.7 338.5,73.7 339,73.7 339.5,73.9 340,73.7 340.5,74.4 341,74.3 341.5,74.6 342,74.5 342.5,74.7 343,75.1 343.5,74.6 344,74.3 344.5,73.9 345,73.8 345.5,74.4 346,73.5 346.5,73.4 347,73.6 347.5,73.5 348,74 348.5,72.7 349,73.4 349.5,73.4 350,72.8 350.5,72.8 351,73.1 351.5,73.4 352,72.4 352.5,72.1 353,72.9 353.5,73 354,72.2 354.5,71.6 355,72.6 355.5,72.1 356,72.4 356.5,71.9 357,71.7 357.5,71.6 358,72.2 358.5,72 359,70.7 359.5,71 360,71.8 360.5,71 361,70.6 361.5,70.9 362,70.8 362.5,70.7 363,70.5 363.5,70.4 364,70.3 364.5,70.4 365,70 365.5,70 366,70 366.5,70.4 367,70 367.5,69.7 368,69.8 368.5,69.7 369,69.7 369.5,69.5 370,69.8 370.5,69.5 371,68.8 371.5,68.5 372,68.8 372.5,68.6 373,68.2 373.5,67.5 374,67.3 374.5,67.9 375,68.1 375.5,67.9 376,67.1 376.5,67.7 377,67.2 377.5,67.3 378,67.2 378.5,66.7 379,66.5 379.5,65.9 380,66.1 380.5,65.9 381,66.5 381.5,66.4 382,66.6 382.5,66.3 383,65.8 383.5,66 384,65.7 384.5,65.9 385,65.7 385.5,65.2 386,65.4 386.5,65.4 387,65.2 387.5,65.6 388,65.7 388.5,64.9 389,64.7 389.5,64 390,64.5 390.5,64.4 391,63.8 391.5,64.5 392,64.6 392.5,64 393,64 393.5,63.8 394,64.2 394.5,63.4 395,63.8 395.5,64.5 396,63.9 396.5,63.8 397,63.5 397.5,63.1 398,63.4 398.5,63.4 399,62.9 399.5,63.3 400,63.6 400.5,63.4 401,62.4 401.5,62.4 402,62.2 402.5,63 403,62.9 403.5,62.8 404,62.2 404.5,62 405,62.3 405.5,62.3 406,61.9 406.5,62.2 407,62.3 407.5,62 408,61.4 408.5,61 409,61.6 409.5,61.7 410,61.5 410.5,61.3 411,61.2 411.5,61.6 412,61.3 412.5,61.2 413,60.8 413.5,60.8 414,61 414.5,60.6 415,60.4 415.5,60.7 416,61.2 416.5,60.9 417,61.1 417.5,60.5 418,60.3 418.5,59.8 419,60.1 419.5,60.7 420,60.4 420.5,60.4 421,60.3 421.5,59.9 422,59.8 422.5,59.8 423,60 423.5,59.8 424,59.7 424.5,59.5 425,59.1 425.5,59.1 426,58.9 426.5,59.3 427,58.3 427.5,58.9 428,59.7 428.5,58.8 429,58.3 429.5,58.7 430,59 430.5,58.5 431,58.7 431.5,58.4 432,58.3 432.5,59.3 433,58.3 433.5,57.9 434,57.8 434.5,58.1 435,58.1 435.5,58.1 436,57.8 436.5,57.2 437,57.7 437.5,57.5 438,57.3 438.5,56.8 439,57.1 439.5,57 440,57.1 440.5,56.7 441,57.1 441.5,57.1 442,56.6 442.5,56.6 443,56.6 443.5,57 444,55.8 444.5,56.3 445,56 445.5,56.3 446,56.7 446.5,56.2 447,56.3 447.5,56 448,56.9 448.5,56.6 449,56.4 449.5,55.4 450,55.4 450.5,56.1 451,55.6 451.5,55.5 452,55.5 452.5,55 453,55.5 453.5,55.2 454,55.2 454.5,54.8 455,55 455.5,54.6 456,55.1 456.5,55.2 457,55 457.5,54.8 458,54.5 458.5,53.4 459,54.4 459.5,54.1 460,54.1 460.5,53.9 461,53.4 461.5,53.6 462,54.1 462.5,54.2 463,53.4 463.5,53.3 464,53.9 464.5,53.3 465,54.1 465.5,53.3 466,52.9 466.5,53.5 467,53.7 467.5,52.6 468,53.4 468.5,52.9 469,53.3 469.5,52.5 470,52 470.5,52.7 471,53 471.5,53.3 472,53.1 472.5,52.6 473,52.1 473.5,51.9 474,51.9 474.5,51.7 475,51.7 475.5,50.9 476,51.8 476.5,51.9 477,52.7 477.5,52 478,51.4 478.5,51.6 479,51 479.5,51 480,50.6 480.5,51.7 481,51.4 481.5,50.7 482,51 482.5,51.4 483,51.2 483.5,51 484,50.4 484.5,50.4 485,50.7 485.5,50.9 486,50.2 486.5,50 487,50.7 487.5,50 488,50.6 488.5,50.3 489,50.5 489.5,50.7 490,50.3 490.5,50.1 491,49.4 491.5,49.4 492,49.9 492.5,50.2 493,50.2 493.5,50.3 494,49.5 494.5,49.4 495,49.5 495.5,49.1 496,48.9 496.5,48.6 497,49.1 497.5,48.5 498,48.8 498.5,48.2 499,48.9 499.5,48.2 500,48.7 500.5,47.8 501,48.2 501.5,48.7 502,48 502.5,48.1 503,47.8 503.5,47.1 504,48 504.5,48 505,47.5 505.5,47.9 506,47.4 506.5,47.3 507,47.5 507.5,47.4 508,48.3 508.5,47 509,47.7 509.5,47.7 510,46.5 510.5,46.5 511,47.3 511.5,47 512,47.2 512.5,47.4 513,46.8 513.5,46.3 514,45.7 514.5,46.6 515,46.4 515.5,46.7 516,46.6 516.5,46.1 517,47.1 517.5,46.9 518,46.6 518.5,45.8 519,45.9 519.5,45.9 520,45.8 520.5,45.6 521,46.1 521.5,46 522,46 522.5,45.7 523,46.2 523.5,45.6 524,44.5 524.5,45.1 525,45.4 525.5,45.7 526,45.2 526.5,45.1 527,45 527.5,45.3 528,44.9 528.5,44.7 529,44.7 529.5,45.1 529.5,48.6 529,48.4 528.5,49.1 528,49 527.5,49.6 527,49.3 526.5,49.1 526,49.2 525.5,49.9 525,50.1 524.5,49.4 524,49.3 523.5,49.6 523,49.8 522.5,50.3 522,49.9 521.5,49.7 521,50.2 520.5,50.8 520,50.8 519.5,50.7 519,49.7 518.5,49.8 518,50.8 517.5,50.3 517,50.7 516.5,51.2 516,51.1 515.5,50.6 515,50.6 514.5,50.5 514,50.5 513.5,50.8 513,50.7 512.5,51.3 512,51 511.5,51.7 511,51.9 510.5,51.5 510,51.6 509.5,51.9 509,52.6 508.5,51.8 508,52 507.5,51.7 507,52.4 506.5,52.1 506,51.8 505.5,51.6 505,52.8 504.5,52.8 504,52.2 503.5,52.2 503,52.9 502.5,53.1 502,52.5 501.5,52 501,52.7 500.5,52.5 500,52.8 499.5,53 499,53.2 498.5,53.1 498,52.4 497.5,52.5 497,52.8 496.5,53 496,53.7 495.5,53.9 495,53.1 494.5,53.5 494,53.2 493.5,53 493,54 492.5,53.5 492,53.9 491.5,54.4 491,55.6 490.5,54.7 490,54.1 489.5,53.8 489,54.3 488.5,54.3 488,54.7 487.5,54.8 487,54.5 486.5,55 486,54.4 485.5,55.1 485,54.7 484.5,55.3 484,55.6 483.5,55 483,54.6 482.5,54.6 482,55.1 481.5,55.6 481,55.4 480.5,55.4 480,55.1 479.5,55.4 479,55.2 478.5,55.5 478,55.6 477.5,55.3 477,55.5 476.5,56.1 476,55.7 475.5,56.3 475,56.6 474.5,55.7 474,56.1 473.5,56.9 473,56.3 472.5,56 472,57.2 471.5,56.8 471,57.1 470.5,57 470,56.7 469.5,56.9 469,56.9 468.5,57.2 468,57.4 467.5,57.1 467,57.2 466.5,57.8 466,57.7 465.5,57.7 465,57.9 464.5,56.9 464,57.6 463.5,57.7 463,58.1 462.5,57.5 462,57.7 461.5,57.9 461,58.5 460.5,57.5 460,57.7 459.5,57.5 459,58.6 458.5,58.4 458,58.4 457.5,58.3 457,58.1 456.5,58.4 456,59 455.5,59.1 455,59.7 454.5,59.2 454,59.5 453.5,59.5 453,59 452.5,59.5 452,59.4 451.5,59.4 451,60.3 450.5,59.7 450,60.1 449.5,60 449,59.9 448.5,59.9 448,59.6 447.5,60.5 447,60.6 446.5,61.4 446,60.8 445.5,60.9 445,61 444.5,61.2 444,60.3 443.5,60.9 443,61.6 442.5,61.4 442,61 441.5,61 441,61.3 440.5,61.4 440,61.5 439.5,60.7 439,60.9 438.5,61.7 438,61.6 437.5,62.3 437,62.1 436.5,61.6 436,62.1 435.5,62.1 435,61.8 434.5,61.3 434,62.1 433.5,61.9 433,62.3 432.5,62.6 432,62 431.5,61.5 431,62.2 430.5,62.3 430,62.6 429.5,63.3 429,63 428.5,63.3 428,63.2 427.5,63.1 427,63 426.5,63.6 426,63.5 425.5,62.6 425,63.2 424.5,63.4 424,64 423.5,63.1 423,63.7 422.5,64.1 422,64.7 421.5,64 421,64.3 420.5,63.3 420,63.8 419.5,64.1 419,65 418.5,64.6 418,65.3 417.5,65.2 417,64.5 416.5,64.1 416,64.8 415.5,64.7 415,64.7 414.5,65.3 414,65.3 413.5,64.7 413,64.7 412.5,65.3 412,65.9 411.5,65.9 411,66.2 410.5,65.5 410,64.9 409.5,66 409,66 408.5,65.7 408,65.8 407.5,65.5 407,65.7 406.5,66.1 406,65.6 405.5,66.5 405,66.4 404.5,66.5 404,66.6 403.5,66.9 403,66.7 402.5,66.5 402,66.6 401.5,66.4 401,66.4 400.5,67.1 400,66.6 399.5,66.9 399,67.2 398.5,67.3 398,67.3 397.5,67.7 397,67.2 396.5,67.5 396,67.2 395.5,68 395,68.3 394.5,68.8 394,68.1 393.5,67.7 393,67.8 392.5,68.1 392,68.1 391.5,68.2 391,68.7 390.5,67.9 390,68.2 389.5,68.7 389,68.6 388.5,68.7 388,69.7 387.5,69.1 387,69.2 386.5,69.7 386,69.5 385.5,69.8 385,70.3 384.5,69.9 384,69.9 383.5,69.8 383,70 382.5,69.8 382,70.8 381.5,70.7 381,70.3 380.5,71.1 380,70.3 379.5,70.7 379,71.4 378.5,71.5 378,71 377.5,71.2 377,71.4 376.5,71.5 376,71.3 375.5,71 375,71.9 374.5,72.2 374,72.5 373.5,72.1 373,71.8 372.5,71.7 372,72.3 371.5,72.7 371,72.2 370.5,72.4 370,72.9 369.5,72.9 369,73.4 368.5,73.5 368,73.5 367.5,73.4 367,73.8 366.5,73.4 366,74.3 365.5,74.2 365,74.3 364.5,74 364,73.7 363.5,74.5 363,74.7 362.5,74.6 362,74.3 361.5,74.7 361,74.7 360.5,75.2 360,75.6 359.5,75 359,75.2 358.5,75 358,75.3 357.5,75.2 357,75.9 356.5,76.1 356,76 355.5,76.3 355,76.6 354.5,76 354,76.1 353.5,76.6 353,76.3 352.5,76.7 352,77.1 351.5,77.1 351,77.2 350.5,77 350,76.9 349.5,76.7 349,76.6 348.5,76.8 348,76.7 347.5,77.4 347,77.2 346.5,77.4 346,78.3 345.5,77.6 345,77.9 344.5,78.1 344,77.7 343.5,78.2 343,78.3 342.5,78.5 342,78.6 341.5,79 341,78.9 340.5,78.6 340,78.7 339.5,78.5 339,78.4 338.5,78.8 338,79.1 337.5,79.8 337,79.8 336.5,79.2 336,80 335.5,79.4 335,79.2 334.5,79.3 334,79.7 333.5,80.1 333,80 332.5,80.4 332,80.6 331.5,80.2 331,80 330.5,80.3 330,80.2 329.5,81 329,81.5 328.5,81.3 328,81.2 327.5,81.3 327,81.3 326.5,81.6 326,81.7 325.5,81.9 325,81.6 324.5,82 324,82.4 323.5,82.8 323,82.9 322.5,82.4 322,82.4 321.5,82.8 321,82.7 320.5,82.7 320,83.3 319.5,83 319,83.1 318.5,82.8 318,83.2 317.5,83.8 317,84 316.5,83.8 316,83.7 315.5,84 315,83.9 314.5,84.1 314,84.5 313.5,84.6 313,84.6 312.5,84.8 312,84.7 311.5,84.9 311,85.1 310.5,84.9 310,84.9 309.5,84.7 309,85.3 308.5,85.2 308,85.7 307.5,85.6 307,86 306.5,85.6 306,85.7 305.5,86 305,86 304.5,86.6 304,86.4 303.5,86.6 303,86.3 302.5,86.7 302,86.9 301.5,87.2 301,87.6 300.5,87.5 300,87.5 299.5,87.3 299,88.1 298.5,88.4 298,88.2 297.5,88.2 297,88.5 296.5,88.5 296,88.2 295.5,88.3 295,88.6 294.5,89.3 294,89 293.5,89 293,89.7 292.5,89.4 292,89.1 291.5,89.4 291,89.4 290.5,89.2 290,89.5 289.5,90.1 289,89.9 288.5,90.1 288,89.8 287.5,89.8 287,89.9 286.5,90.6 286,90.2 285.5,90.1 285,90.2 284.5,90.3 284,91.1 283.5,90.8 283,91.3 282.5,91.4 282,90.8 281.5,91.6 281,91.7 280.5,91 280,91 279.5,91.4 279,90.8 278.5,91.5 278,92 277.5,92.5 277,92.1 276.5,92.1 276,92.4 275.5,92.5 275,93 274.5,92.6 274,92.1 273.5,92.9 273,93.1 272.5,93.1 272,93.4 271.5,93.4 271,93.4 270.5,93.7 270,93.9 269.5,93.4 269,93 268.5,93.2 268,93.4 267.5,94.4 267,94.4 266.5,94.6 266,94 265.5,94.4 265,94.8 264.5,95 264,94.9 263.5,95.3 263,95 262.5,94.9 262,95.5 261.5,95.4 261,95.8 260.5,95.3 260,95.7 259.5,95.9 259,96.9 258.5,96.7 258,96.7 257.5,96.8 257,97.4 256.5,97.1 256,98.3 255.5,97.9 255,98.2 254.5,98.8 254,98.4 253.5,97.8 253,98.4 252.5,99.3 252,99.4 251.5,99.2 251,99.4 250.5,99.1 250,100 249.5,100.1 249,99.8 248.5,99.6 248,100.3 247.5,100.9 247,100.3 246.5,99.6 246,101.5 245.5,100.3 245,100.3 244.5,100.9 244,101.6 243.5,101.4 243,101.5 242.5,101.7 242,101.6 241.5,101.2 241,101 240.5,101.2 240,103 239.5,102.6 239,103.4 238.5,103.3 238,102.5 237.5,103.4 237,103.6 236.5,104.6 236,104.6 235.5,104.2 235,104.9 234.5,104.8 234,105.9 233.5,105.1 233,105.6 232.5,105 232,107.8 231.5,107.6 231,107.7 230.5,108.1 230,108.7 229.5,109.9 229,109.1 228.5,111.6 228,111.8 227.5,113.3 227,113.1 226.5,113.4 226,114.5 225.5,114.1 225,115.6 224.5,113.9 224,115.1 223.5,116.3 223,116.3 222.5,116.8 222,115.8 221.5,116.8 221,116.2 220.5,116.8 220,116.5 219.5,118.1 219,118.5 218.5,117.6 218,117.8 217.5,117.5 217,116.6 216.5,117.9 216,117.9 215.5,117.2 215,118.1 214.5,118.8 214,118.9 213.5,117.4 213,117.8 212.5,116.9 212,116.9 211.5,116.2 211,116.3 210.5,118.3 210,117.7 209.5,118 209,119.2 208.5,117.8 208,117.3 207.5,117.1 207,115.9 206.5,116.6 206,117.1 205.5,117.2 205,118.2 204.5,117.2 204,115.3 203.5,116.9 203,116.1 202.5,115.5 202,114.9 201.5,115.4 201,116 200.5,114.6 200,117 199.5,116.8 199,115.8 198.5,116.4 198,115.3 197.5,116 197,115.3 196.5,115.8 196,117.3 195.5,118.1 195,117 194.5,114.6 194,116.3 193.5,116.4 193,116.8 192.5,116.1 192,115.7 191.5,115.9 191,116.7 190.5,116.3 190,116.5 189.5,116.7 189,117 188.5,117.6 188,116.2 187.5,115.3 187,116.2 186.5,116 186,115.9 185.5,118 185,116.3 184.5,116.3 184,116.8 183.5,116.9 183,115.8 182.5,116.2 182,116.9 181.5,117.1 181,117.1 180.5,117.4 180,116.9 179.5,117 179,117.3 178.5,117.3 178,116.8 177.5,116.4 177,116.4 176.5,117.3 176,118 175.5,118.7 175,118.5 174.5,118.1 174,118.1 173.5,117.5 173,116.5 172.5,116.6 172,118 171.5,118 171,117.7 170.5,117.6 170,118.1 169.5,117.3 169,118.3 168.5,118.3 168,119 167.5,118.6 167,118.9 166.5,118.7 166,117.7 165.5,118.5 165,118.1 164.5,118.7 164,119.9 163.5,118.6 163,120 162.5,120 162,119.4 161.5,118.9 161,119.4 160.5,118.8 160,120.2 159.5,119.9 159,120.9 158.5,120.7 158,120.2 157.5,118.8 157,119.1 156.5,119.9 156,120.8 155.5,119.7 155,119.4 154.5,121.9 154,120.2 153.5,119.7 153,120.8 152.5,121.1 152,120.9 151.5,121.1 151,121.4 150.5,120.5 150,121.2 149.5,120.4 149,120.1 148.5,121.1 148,122.2 147.5,122.6 147,121.3 146.5,121.5 146,121.8 145.5,122.6 145,122.1 144.5,121.6 144,121.4 143.5,122.6 143,121.4 142.5,120.9 142,121.8 141.5,123.1 141,123 140.5,121.3 140,122.6 139.5,123.6 139,124.1 138.5,123.4 138,123.5 137.5,123.3 137,123.7 136.5,123.9 136,124.3 135.5,123.9 135,123.6 134.5,124.4 134,124.2 133.5,124.3 133,125.6 132.5,124.6 132,123.6 131.5,125.1 131,124.6 130.5,125.1 130,125.3 129.5,126.2 129,124.5 128.5,124.8 128,124.9 127.5,125.9 127,125.1 126.5,126.3 126,126 125.5,125.6 125,125.9 124.5,126.1 124,127 123.5,127.2 123,126.3 122.5,126.9 122,126.4 121.5,127.1 121,126.7 120.5,126.5 120,127.1 119.5,126.3 119,126.8 118.5,127.9 118,127.3 117.5,127.3 117,127.9 116.5,127.8 116,128.2 115.5,127.4 115,127.7 114.5,127.7 114,128.3 113.5,128.5 113,129.6 112.5,128.3 112,128.7 111.5,128.1 111,128.9 110.5,129.3 110,129.4 109.5,129 109,128.9 108.5,129.9 108,129.1 107.5,130.2 107,129.6 106.5,129.3 106,129.5 105.5,129.7 105,130.4 104.5,130.2 104,130.9 103.5,130.4 103,129.8 102.5,130.3 102,131 101.5,130.3 101,130.4 100.5,130.7 100,130.6 99.5,130.7 99,131.4 98.5,131.4 98,131.6 97.5,131.5 97,131.1 96.5,131.1 96,131.5 95.5,131.3 95,131.1 94.5,131 94,131.7 93.5,131.7 93,132 92.5,132.3 92,131.9 91.5,132.5 91,132.6 90.5,132.3 90,132.2 89.5,132.6 89,131.9 88.5,131.8 88,132 87.5,131.9 87,132.3 86.5,133 86,132.7 85.5,133.1 85,133 84.5,132.9 84,133.2 83.5,133.5 83,133.8 82.5,134.2 82,133.9 81.5,133.5 81,133 80.5,133.5 80,133.6 79.5,134 79,134 78.5,134.6 78,133.9 77.5,133.8 77,134.2 76.5,134.1 76,133.9 75.5,134.5 75,134.5 74.5,134.3 74,133.9 73.5,134 73,134 72.5,134.4 72,134.7 71.5,134.6 71,134 70.5,134.5 70,135.1 69.5,135.3 69,134.7 68.5,134.7 68,135.2 67.5,134.5 67,135.1 66.5,135.3 66,135.1 65.5,135.2 65,135.3 64.5,135.6 64,134.7 63.5,135.1 63,135.7 62.5,135.6 62,135.8 61.5,135.1 61,135.3 60.5,135.3 60,135.8 59.5,135.9 59,135.7 58.5,135.7 58,135.5 57.5,135.7 57,135.2 56.5,135.4" fill="#0aa84f" />
<rect x="171.2" y="94.9" width="1.3" height="1.6" fill="#e03040" opacity="0.33"/>
<rect x="221.2" y="73.5" width="1" height="2.1" fill="#ffffff" opacity="0.33"/>
<rect x="192.7" y="88.4" width="0.9" height="1.2" fill="#ffffff" opacity="0.33"/>
<rect x="205.7" y="83.2" width="1" height="1.9" fill="#e03040" opacity="0.33"/>
<rect x="221.5" y="73.3" width="0.8" height="2.2" fill="#ffffff" opacity="0.33"/>
<rect x="222.5" y="70.5" width="1.2" height="1.6" fill="#e03040" opacity="0.33"/>
<rect x="154.5" y="96" width="0.9" height="2.5" fill="#ffffff" opacity="0.33"/>
<rect x="150.2" y="96.6" width="0.9" height="1.7" fill="#e03040" opacity="0.33"/>
<rect x="173.1" y="87.1" width="0.9" height="2.1" fill="#e03040" opacity="0.33"/>
<rect x="179.1" y="92.1" width="1" height="1.7" fill="#ffffff" opacity="0.33"/>
<rect x="162.2" y="92.5" width="1" height="1.6" fill="#e03040" opacity="0.33"/>
<rect x="166.8" y="95.9" width="1.1" height="2.2" fill="#e03040" opacity="0.33"/>
<rect x="212" y="72.9" width="0.7" height="2.1" fill="#ffffff" opacity="0.33"/>
<rect x="174.8" y="92.5" width="0.8" height="1.7" fill="#e03040" opacity="0.33"/>
<rect x="201.6" y="91" width="0.8" height="1.4" fill="#ffffff" opacity="0.33"/>
<rect x="201.7" y="90.1" width="0.7" height="1.7" fill="#ffffff" opacity="0.33"/>
<rect x="163" y="97.1" width="0.7" height="2.3" fill="#ffffff" opacity="0.33"/>
<rect x="226.9" y="80.3" width="0.8" height="1.8" fill="#ffffff" opacity="0.33"/>
<rect x="190" y="92.3" width="0.7" height="1.8" fill="#ffffff" opacity="0.33"/>
<rect x="210" y="80.5" width="1.1" height="2.6" fill="#e03040" opacity="0.33"/>
<rect x="225.4" y="82.5" width="0.9" height="1.4" fill="#e03040" opacity="0.33"/>
<rect x="162.9" y="95.1" width="1.2" height="2.4" fill="#ffffff" opacity="0.33"/>
<rect x="220.4" y="72.9" width="0.8" height="2" fill="#ffffff" opacity="0.33"/>
<rect x="222.9" y="82.9" width="1" height="1.4" fill="#ffffff" opacity="0.33"/>
<rect x="214.9" y="86.7" width="0.9" height="1.7" fill="#e03040" opacity="0.33"/>
<rect x="194.9" y="91.8" width="0.8" height="1.8" fill="#e03040" opacity="0.33"/>
<rect x="154.6" y="93.7" width="1.2" height="2.1" fill="#e03040" opacity="0.33"/>
<rect x="186.7" y="86.6" width="0.9" height="2.3" fill="#ffffff" opacity="0.33"/>
<rect x="187.6" y="81.9" width="1.3" height="1.3" fill="#ffffff" opacity="0.33"/>
<rect x="226.8" y="71.3" width="0.9" height="2.6" fill="#ffffff" opacity="0.33"/>
<rect x="224.9" y="71.9" width="1.1" height="1.8" fill="#ffffff" opacity="0.33"/>
<rect x="210.3" y="82.4" width="0.8" height="1.9" fill="#e03040" opacity="0.33"/>
<rect x="204.6" y="83.9" width="1.1" height="1.4" fill="#ffffff" opacity="0.33"/>
<rect x="153.3" y="94.4" width="1.1" height="1.8" fill="#ffffff" opacity="0.33"/>
<rect x="214.4" y="88.6" width="0.9" height="1.8" fill="#e03040" opacity="0.33"/>
<rect x="192.1" y="92.1" width="1.1" height="1.6" fill="#ffffff" opacity="0.33"/>
<rect x="201.1" y="79.3" width="0.8" height="2" fill="#ffffff" opacity="0.33"/>
<rect x="186.8" y="89.6" width="1" height="2" fill="#ffffff" opacity="0.33"/>
<rect x="206.8" y="72.7" width="1.1" height="2.2" fill="#ffffff" opacity="0.33"/>
<rect x="180.8" y="84.9" width="1.3" height="2.4" fill="#e03040" opacity="0.33"/>
<rect x="225.2" y="76.4" width="1.2" height="2" fill="#e03040" opacity="0.33"/>
<rect x="219.3" y="84.7" width="0.8" height="1.4" fill="#e03040" opacity="0.33"/>
<rect x="181.4" y="89.6" width="1" height="2.4" fill="#ffffff" opacity="0.33"/>
<rect x="211.7" y="69.8" width="0.9" height="2.4" fill="#ffffff" opacity="0.33"/>
<rect x="208.1" y="69.4" width="0.8" height="1.9" fill="#ffffff" opacity="0.33"/>
<rect x="226.5" y="71" width="1.2" height="1.9" fill="#ffffff" opacity="0.33"/>
<rect x="225.4" y="82.8" width="1.1" height="2.4" fill="#ffffff" opacity="0.33"/>
<rect x="171.5" y="93.5" width="0.9" height="1.5" fill="#ffffff" opacity="0.33"/>
<rect x="175.6" y="88.7" width="0.8" height="1.8" fill="#ffffff" opacity="0.33"/>
<rect x="187.4" y="90.1" width="1.3" height="2.1" fill="#e03040" opacity="0.33"/>
<rect x="216.3" y="69" width="0.8" height="2.4" fill="#ffffff" opacity="0.33"/>
<rect x="195.9" y="78.6" width="1.2" height="1.9" fill="#ffffff" opacity="0.33"/>
<rect x="187.4" y="82.3" width="1" height="2.4" fill="#e03040" opacity="0.33"/>
<rect x="155.8" y="97.1" width="0.9" height="2" fill="#e03040" opacity="0.33"/>
<rect x="198.1" y="89.5" width="0.8" height="2.4" fill="#ffffff" opacity="0.33"/>
<rect x="159" y="92.3" width="0.9" height="1.6" fill="#e03040" opacity="0.33"/>
<rect x="209.4" y="81.1" width="1.2" height="2.5" fill="#ffffff" opacity="0.33"/>
<rect x="199.4" y="86.1" width="1.2" height="1.6" fill="#ffffff" opacity="0.33"/>
<rect x="226.7" y="72.3" width="1.2" height="1.4" fill="#ffffff" opacity="0.33"/>
<rect x="175.8" y="90.8" width="0.8" height="1.8" fill="#ffffff" opacity="0.33"/>
<rect x="177.2" y="86.2" width="1" height="1.4" fill="#ffffff" opacity="0.33"/>
<rect x="210.7" y="77.1" width="0.7" height="2.4" fill="#ffffff" opacity="0.33"/>
<rect x="181.5" y="84.6" width="0.9" height="1.3" fill="#e03040" opacity="0.33"/>
<rect x="175.5" y="87.7" width="0.8" height="2.1" fill="#ffffff" opacity="0.33"/>
<rect x="162.2" y="91.2" width="0.9" height="1.4" fill="#ffffff" opacity="0.33"/>
<rect x="196" y="91" width="1.2" height="1.9" fill="#ffffff" opacity="0.33"/>
<rect x="210.5" y="85.8" width="1.2" height="1.7" fill="#ffffff" opacity="0.33"/>
<rect x="207.6" y="80.9" width="1.1" height="2.2" fill="#ffffff" opacity="0.33"/>
<rect x="155.1" y="98.1" width="1" height="2" fill="#ffffff" opacity="0.33"/>
<rect x="213.4" y="68.3" width="1.1" height="1.7" fill="#ffffff" opacity="0.33"/>
<rect x="153.2" y="96" width="0.7" height="2.4" fill="#ffffff" opacity="0.33"/>
<rect x="153.3" y="95.5" width="0.9" height="1.3" fill="#ffffff" opacity="0.33"/>
<rect x="221.3" y="88.2" width="0.8" height="2.4" fill="#ffffff" opacity="0.33"/>
<rect x="176" y="88.5" width="1.1" height="1.3" fill="#e03040" opacity="0.33"/>
<rect x="150.4" y="99.9" width="1.2" height="1.8" fill="#e03040" opacity="0.33"/>
<rect x="157.1" y="95.5" width="0.8" height="1.3" fill="#ffffff" opacity="0.33"/>
<rect x="151.5" y="97" width="0.9" height="2.5" fill="#e03040" opacity="0.33"/>
<rect x="213.8" y="82.7" width="0.8" height="2.2" fill="#ffffff" opacity="0.33"/>
<rect x="203.7" y="82.3" width="0.8" height="1.8" fill="#ffffff" opacity="0.33"/>
<rect x="171.3" y="95.2" width="1" height="2.1" fill="#ffffff" opacity="0.33"/>
<rect x="219.1" y="80.3" width="0.9" height="2.5" fill="#ffffff" opacity="0.33"/>
<rect x="153.5" y="95.2" width="1.1" height="2.4" fill="#ffffff" opacity="0.33"/>
<rect x="213.2" y="83.4" width="0.9" height="1.3" fill="#e03040" opacity="0.33"/>
<rect x="199" y="75.7" width="1.2" height="1.4" fill="#e03040" opacity="0.33"/>
<rect x="151.9" y="99.8" width="1" height="1.3" fill="#ffffff" opacity="0.33"/>
<rect x="225.5" y="69.6" width="1.1" height="2.4" fill="#ffffff" opacity="0.33"/>
<rect x="172.8" y="87.2" width="0.7" height="2.3" fill="#ffffff" opacity="0.33"/>
<rect x="190.7" y="92.2" width="1.1" height="2" fill="#ffffff" opacity="0.33"/>
<rect x="165.5" y="91.4" width="1.3" height="1.8" fill="#e03040" opacity="0.33"/>
<rect x="211.2" y="83.9" width="0.9" height="1.5" fill="#e03040" opacity="0.33"/>
<rect x="207.7" y="90.7" width="0.9" height="1.3" fill="#e03040" opacity="0.33"/>
<rect x="174.6" y="87" width="1.3" height="1.6" fill="#e03040" opacity="0.33"/>
<rect x="215.3" y="71.8" width="1" height="2.4" fill="#ffffff" opacity="0.33"/>
<rect x="196.1" y="89" width="0.7" height="1.3" fill="#e03040" opacity="0.33"/>
<rect x="177.5" y="94" width="1.1" height="2" fill="#ffffff" opacity="0.33"/>
<rect x="153.8" y="99" width="1.1" height="2.1" fill="#e03040" opacity="0.33"/>
<rect x="214.8" y="71.8" width="1.1" height="2.3" fill="#e03040" opacity="0.33"/>
<rect x="157.3" y="97" width="1.2" height="2.1" fill="#ffffff" opacity="0.33"/>
<rect x="163.1" y="96.9" width="0.8" height="2.4" fill="#ffffff" opacity="0.33"/>
<rect x="195.3" y="82.2" width="1.2" height="2.1" fill="#ffffff" opacity="0.33"/>
<rect x="159.1" y="93.5" width="1.2" height="1.3" fill="#ffffff" opacity="0.33"/>
<rect x="190.2" y="89.7" width="0.9" height="1.3" fill="#e03040" opacity="0.33"/>
<rect x="182.1" y="93.9" width="0.8" height="2.4" fill="#ffffff" opacity="0.33"/>
<rect x="201.4" y="78.5" width="0.9" height="1.4" fill="#e03040" opacity="0.33"/>
<rect x="181.2" y="87.7" width="1.2" height="2.3" fill="#ffffff" opacity="0.33"/>
<rect x="187.9" y="93.5" width="1.1" height="2.5" fill="#ffffff" opacity="0.33"/>
<rect x="213.5" y="81.1" width="1.2" height="2.3" fill="#ffffff" opacity="0.33"/>
<rect x="217.3" y="73.6" width="0.9" height="1.5" fill="#e03040" opacity="0.33"/>
<rect x="221" y="87.1" width="0.9" height="1.4" fill="#e03040" opacity="0.33"/>
<rect x="225.1" y="79.8" width="1.3" height="2.1" fill="#ffffff" opacity="0.33"/>
<rect x="189.6" y="90.3" width="1.2" height="1.7" fill="#e03040" opacity="0.33"/>
<rect x="189" y="93" width="1" height="2.3" fill="#e03040" opacity="0.33"/>
<rect x="190.4" y="91.3" width="0.7" height="1.3" fill="#ffffff" opacity="0.33"/>
<rect x="183.6" y="87" width="1.3" height="2.6" fill="#ffffff" opacity="0.33"/>
<rect x="160.4" y="96.9" width="1.2" height="1.7" fill="#ffffff" opacity="0.33"/>
<rect x="209.5" y="68.7" width="1" height="1.7" fill="#ffffff" opacity="0.33"/>
<rect x="169.4" y="90.8" width="1" height="1.9" fill="#ffffff" opacity="0.33"/>
<rect x="206.6" y="87.9" width="1.3" height="2.1" fill="#ffffff" opacity="0.33"/>
<rect x="169.8" y="92.9" width="0.8" height="1.7" fill="#e03040" opacity="0.33"/>
<rect x="167.6" y="93.1" width="0.7" height="2" fill="#ffffff" opacity="0.33"/>
<rect x="181.7" y="83.6" width="1.3" height="2" fill="#e03040" opacity="0.33"/>
<rect x="155" y="96.8" width="1.1" height="1.4" fill="#ffffff" opacity="0.33"/>
<rect x="181" y="86.1" width="1.2" height="1.5" fill="#e03040" opacity="0.33"/>
<rect x="160.7" y="92.4" width="1.1" height="1.3" fill="#ffffff" opacity="0.33"/>
<rect x="190.5" y="90.9" width="1.1" height="1.2" fill="#ffffff" opacity="0.33"/>
<rect x="183.2" y="85.7" width="1" height="1.4" fill="#e03040" opacity="0.33"/>
<rect x="160.4" y="97.6" width="0.8" height="2.4" fill="#e03040" opacity="0.33"/>
<rect x="155.1" y="95.4" width="1.3" height="2.5" fill="#e03040" opacity="0.33"/>
<rect x="186" y="90.5" width="1.2" height="1.6" fill="#ffffff" opacity="0.33"/>
<rect x="165.9" y="90.8" width="1.1" height="2" fill="#ffffff" opacity="0.33"/>
<rect x="219.5" y="69.6" width="1.3" height="2.2" fill="#ffffff" opacity="0.33"/>
<rect x="158.9" y="93.2" width="0.8" height="1.7" fill="#e03040" opacity="0.33"/>
<rect x="208.4" y="72.3" width="0.7" height="2.1" fill="#ffffff" opacity="0.33"/>
<rect x="157.6" y="97.2" width="1.1" height="1.5" fill="#ffffff" opacity="0.33"/>
<rect x="203.8" y="78.6" width="1" height="1.6" fill="#ffffff" opacity="0.33"/>
<rect x="182.1" y="92.2" width="1.2" height="2.4" fill="#ffffff" opacity="0.33"/>
<rect x="193.8" y="91.3" width="1.3" height="1.3" fill="#ffffff" opacity="0.33"/>
<rect x="219.2" y="84.1" width="0.9" height="2.3" fill="#ffffff" opacity="0.33"/>
<rect x="223.7" y="71.2" width="0.7" height="2.1" fill="#ffffff" opacity="0.33"/>
<rect x="154.7" y="97.3" width="0.7" height="1.8" fill="#ffffff" opacity="0.33"/>
<rect x="137.7" y="101.3" width="1" height="1.5" fill="#ffffff" opacity="0.3"/>
<rect x="144.1" y="98.1" width="1.1" height="2.5" fill="#e03040" opacity="0.3"/>
<rect x="144.5" y="99.8" width="1" height="1.6" fill="#ffffff" opacity="0.3"/>
<rect x="86.9" y="116.7" width="0.8" height="1.3" fill="#ffffff" opacity="0.3"/>
<rect x="127.1" y="104.1" width="0.9" height="2.1" fill="#e03040" opacity="0.3"/>
<rect x="111.4" y="111.1" width="1.2" height="2" fill="#ffffff" opacity="0.3"/>
<rect x="140.7" y="101.4" width="1.2" height="2.2" fill="#e03040" opacity="0.3"/>
<rect x="88.3" y="116.8" width="0.7" height="2.2" fill="#e03040" opacity="0.3"/>
<rect x="117.4" y="110.7" width="0.8" height="2.1" fill="#ffffff" opacity="0.3"/>
<rect x="125.4" y="105.1" width="0.7" height="1.7" fill="#ffffff" opacity="0.3"/>
<rect x="89.2" y="115.4" width="0.8" height="1.2" fill="#e03040" opacity="0.3"/>
<rect x="71.6" y="118.7" width="0.9" height="2.2" fill="#ffffff" opacity="0.3"/>
<rect x="118.9" y="109.4" width="0.8" height="1.3" fill="#e03040" opacity="0.3"/>
<rect x="75.1" y="120.2" width="1.2" height="2" fill="#ffffff" opacity="0.3"/>
<rect x="114.4" y="111.3" width="0.8" height="2.3" fill="#ffffff" opacity="0.3"/>
<rect x="117.6" y="108.4" width="0.9" height="1.4" fill="#e03040" opacity="0.3"/>
<rect x="108.4" y="113.7" width="0.8" height="1.4" fill="#ffffff" opacity="0.3"/>
<rect x="83.9" y="116.9" width="0.8" height="2.2" fill="#e03040" opacity="0.3"/>
<rect x="86.9" y="117.3" width="1.3" height="2" fill="#ffffff" opacity="0.3"/>
<rect x="70.8" y="120.4" width="0.9" height="1.8" fill="#ffffff" opacity="0.3"/>
<rect x="84.4" y="117.6" width="0.9" height="1.4" fill="#e03040" opacity="0.3"/>
<rect x="146.3" y="97.7" width="0.9" height="1.8" fill="#ffffff" opacity="0.3"/>
<rect x="68.8" y="119.6" width="1.1" height="2" fill="#e03040" opacity="0.3"/>
<rect x="91.9" y="116.6" width="1.1" height="1.6" fill="#ffffff" opacity="0.3"/>
<rect x="80" y="118.7" width="1.2" height="1.2" fill="#e03040" opacity="0.3"/>
<rect x="107.8" y="111.6" width="0.8" height="2.4" fill="#ffffff" opacity="0.3"/>
<rect x="78" y="119.4" width="1.3" height="1.4" fill="#e03040" opacity="0.3"/>
<rect x="72.4" y="118.8" width="0.9" height="2.5" fill="#e03040" opacity="0.3"/>
<rect x="117.2" y="108" width="1.1" height="2.1" fill="#e03040" opacity="0.3"/>
<rect x="58.2" y="121.6" width="0.8" height="1.6" fill="#ffffff" opacity="0.3"/>
<rect x="67.3" y="121.3" width="1.1" height="1.5" fill="#ffffff" opacity="0.3"/>
<rect x="92.5" y="116.3" width="1.1" height="2.5" fill="#ffffff" opacity="0.3"/>
<rect x="80.8" y="117.7" width="0.9" height="2.3" fill="#e03040" opacity="0.3"/>
<rect x="92.2" y="115.6" width="1" height="2" fill="#ffffff" opacity="0.3"/>
<rect x="90.5" y="115" width="0.8" height="2.4" fill="#ffffff" opacity="0.3"/>
<rect x="80.7" y="117.7" width="1" height="2.5" fill="#e03040" opacity="0.3"/>
<rect x="93" y="115.7" width="0.8" height="1.6" fill="#ffffff" opacity="0.3"/>
<rect x="142.3" y="102.5" width="0.9" height="2.5" fill="#ffffff" opacity="0.3"/>
<rect x="59.5" y="121.7" width="1" height="1.8" fill="#ffffff" opacity="0.3"/>
<rect x="98" y="116" width="0.9" height="1.2" fill="#ffffff" opacity="0.3"/>
<rect x="68.2" y="120.7" width="0.7" height="1.5" fill="#ffffff" opacity="0.3"/>
<rect x="148" y="98.3" width="0.8" height="2.1" fill="#ffffff" opacity="0.3"/>
<rect x="92.7" y="116" width="1.1" height="1.9" fill="#ffffff" opacity="0.3"/>
<rect x="149.8" y="98" width="1" height="2.4" fill="#e03040" opacity="0.3"/>
<rect x="146.1" y="100.1" width="0.9" height="1.2" fill="#ffffff" opacity="0.3"/>
<rect x="80.1" y="119" width="1" height="2.4" fill="#ffffff" opacity="0.3"/>
<rect x="119.6" y="108.9" width="1" height="2.1" fill="#ffffff" opacity="0.3"/>
<rect x="103.1" y="112.8" width="1.2" height="1.3" fill="#e03040" opacity="0.3"/>
<rect x="147.9" y="100.8" width="1" height="1.8" fill="#e03040" opacity="0.3"/>
<rect x="95" y="115.2" width="0.8" height="2.3" fill="#e03040" opacity="0.3"/>
<rect x="139.1" y="101.6" width="0.9" height="2.4" fill="#ffffff" opacity="0.3"/>
<rect x="147.5" y="99.4" width="1.3" height="2.2" fill="#e03040" opacity="0.3"/>
<rect x="121.8" y="107.9" width="0.8" height="2.4" fill="#e03040" opacity="0.3"/>
<rect x="74.7" y="119.7" width="0.8" height="2.3" fill="#ffffff" opacity="0.3"/>
<rect x="145.9" y="99.8" width="1.1" height="1.9" fill="#ffffff" opacity="0.3"/>
<rect x="137.7" y="100.5" width="0.9" height="2.5" fill="#ffffff" opacity="0.3"/>
<rect x="135" y="105.3" width="1.1" height="2.5" fill="#ffffff" opacity="0.3"/>
<rect x="118.7" y="107.2" width="0.8" height="1.2" fill="#ffffff" opacity="0.3"/>
<rect x="68.2" y="119.3" width="1.1" height="2.4" fill="#e03040" opacity="0.3"/>
<rect x="95.6" y="114.2" width="1.2" height="2.5" fill="#ffffff" opacity="0.3"/>
<rect x="147.9" y="96.3" width="1.1" height="1.9" fill="#e03040" opacity="0.3"/>
<rect x="75.3" y="120.1" width="1" height="1.3" fill="#ffffff" opacity="0.3"/>
<rect x="89.9" y="117.2" width="1.2" height="1.5" fill="#e03040" opacity="0.3"/>
<rect x="97.8" y="114.1" width="0.8" height="2.4" fill="#ffffff" opacity="0.3"/>
<rect x="89.3" y="117.3" width="0.9" height="1.2" fill="#ffffff" opacity="0.3"/>
<rect x="106.3" y="111.6" width="1.2" height="1.4" fill="#e03040" opacity="0.3"/>
<rect x="124.4" y="105.2" width="0.8" height="2.4" fill="#ffffff" opacity="0.3"/>
<rect x="113.1" y="111.2" width="0.7" height="1.6" fill="#ffffff" opacity="0.3"/>
<rect x="140.1" y="101.7" width="1" height="1.5" fill="#ffffff" opacity="0.3"/>
<rect x="142.1" y="99.3" width="0.8" height="2.1" fill="#e03040" opacity="0.3"/>
<rect x="65.9" y="121" width="0.9" height="1.9" fill="#ffffff" opacity="0.3"/>
<rect x="102.8" y="112.1" width="0.7" height="1.7" fill="#e03040" opacity="0.3"/>
<rect x="58.6" y="120.8" width="1.1" height="1.9" fill="#e03040" opacity="0.3"/>
<rect x="74" y="120" width="1.2" height="2.1" fill="#ffffff" opacity="0.3"/>
<rect x="121.3" y="107.1" width="1.1" height="1.4" fill="#ffffff" opacity="0.3"/>
<rect x="121" y="108.9" width="1" height="1.9" fill="#e03040" opacity="0.3"/>
<rect x="128.6" y="107.1" width="0.7" height="1.5" fill="#ffffff" opacity="0.3"/>
<rect x="148.1" y="97.9" width="1.1" height="1.4" fill="#ffffff" opacity="0.3"/>
<rect x="110.6" y="111.7" width="1.3" height="1.8" fill="#ffffff" opacity="0.3"/>
<rect x="86.8" y="116.3" width="0.9" height="1.8" fill="#e03040" opacity="0.3"/>
<rect x="146.7" y="99" width="1.1" height="1.2" fill="#ffffff" opacity="0.3"/>
<rect x="79.4" y="118.6" width="0.7" height="1.4" fill="#e03040" opacity="0.3"/>
<rect x="127.2" y="107.2" width="0.8" height="2.4" fill="#e03040" opacity="0.3"/>
<rect x="101.5" y="113.3" width="1.1" height="2.1" fill="#ffffff" opacity="0.3"/>
<rect x="149.5" y="96.1" width="1" height="1.5" fill="#e03040" opacity="0.3"/>
<rect x="103.9" y="111.6" width="0.8" height="1.4" fill="#e03040" opacity="0.3"/>
<rect x="121.7" y="108.9" width="0.9" height="2.3" fill="#ffffff" opacity="0.3"/>
<rect x="93.7" y="115.2" width="1.3" height="2" fill="#ffffff" opacity="0.3"/>
<rect x="107.5" y="112.5" width="0.9" height="2.3" fill="#ffffff" opacity="0.3"/>
<rect x="117.9" y="110.8" width="0.9" height="1.9" fill="#ffffff" opacity="0.3"/>
<rect x="79.6" y="117.7" width="0.8" height="1.4" fill="#ffffff" opacity="0.3"/>
<rect x="98.4" y="114.3" width="1.2" height="2.3" fill="#ffffff" opacity="0.3"/>
<rect x="107.8" y="112.7" width="0.9" height="1.9" fill="#e03040" opacity="0.3"/>
<rect x="116.1" y="111.5" width="1.2" height="1.3" fill="#ffffff" opacity="0.3"/>
<rect x="116.9" y="107.9" width="1.2" height="2.2" fill="#ffffff" opacity="0.3"/>
<rect x="69" y="120" width="0.8" height="2.1" fill="#ffffff" opacity="0.3"/>
<rect x="123.4" y="108.6" width="1.1" height="1.5" fill="#ffffff" opacity="0.3"/>
<rect x="143.5" y="102" width="0.7" height="2" fill="#ffffff" opacity="0.3"/>
<rect x="124.1" y="106.1" width="0.7" height="2.2" fill="#ffffff" opacity="0.3"/>
<rect x="59.1" y="121.1" width="1.2" height="1.3" fill="#ffffff" opacity="0.3"/>
<rect x="123" y="107.3" width="1" height="1.7" fill="#ffffff" opacity="0.3"/>
<rect x="137.3" y="103.2" width="0.9" height="1.4" fill="#ffffff" opacity="0.3"/>
<rect x="104.4" y="114.8" width="0.7" height="1.7" fill="#ffffff" opacity="0.3"/>
<rect x="101.2" y="113.6" width="0.8" height="1.5" fill="#e03040" opacity="0.3"/>
<rect x="107.2" y="113.1" width="1.1" height="2.1" fill="#e03040" opacity="0.3"/>
<rect x="58.8" y="120.9" width="0.9" height="1.6" fill="#e03040" opacity="0.3"/>
<rect x="93.7" y="115.4" width="0.7" height="2.4" fill="#e03040" opacity="0.3"/>
<rect x="146" y="99.6" width="0.9" height="1.8" fill="#ffffff" opacity="0.3"/>
<rect x="141.9" y="101.1" width="1.1" height="2.6" fill="#ffffff" opacity="0.3"/>
<rect x="118.3" y="107.5" width="1" height="2.5" fill="#e03040" opacity="0.3"/>
<rect x="160.2" y="110.7" width="0.7" height="1.4" fill="#ffffff" opacity="0.36"/>
<rect x="210.9" y="106.3" width="1.1" height="2" fill="#ffffff" opacity="0.36"/>
<rect x="178" y="113.3" width="0.9" height="1.8" fill="#a06ad8" opacity="0.36"/>
<rect x="203.7" y="109.9" width="1" height="2.1" fill="#ffffff" opacity="0.36"/>
<rect x="172.2" y="112.5" width="1" height="2.3" fill="#a06ad8" opacity="0.36"/>
<rect x="190.1" y="107.9" width="1.1" height="1.4" fill="#a06ad8" opacity="0.36"/>
<rect x="167" y="109.8" width="1.1" height="2.2" fill="#ffffff" opacity="0.36"/>
<rect x="166.5" y="111.4" width="0.8" height="2.1" fill="#ffffff" opacity="0.36"/>
<rect x="183.2" y="106.9" width="1.3" height="1.9" fill="#ffffff" opacity="0.36"/>
<rect x="228.3" y="100.3" width="0.8" height="2.2" fill="#ffffff" opacity="0.36"/>
<rect x="222.1" y="95.9" width="1.1" height="2.5" fill="#ffffff" opacity="0.36"/>
<rect x="224.8" y="101.9" width="1.3" height="1.5" fill="#a06ad8" opacity="0.36"/>
<rect x="185.1" y="108.2" width="1" height="2.3" fill="#ffffff" opacity="0.36"/>
<rect x="158.6" y="114.2" width="1" height="1.5" fill="#ffffff" opacity="0.36"/>
<rect x="200.7" y="101.3" width="1" height="2.2" fill="#a06ad8" opacity="0.36"/>
<rect x="223.9" y="112.2" width="1" height="1.6" fill="#ffffff" opacity="0.36"/>
<rect x="169.1" y="114.8" width="1.2" height="2.4" fill="#a06ad8" opacity="0.36"/>
<rect x="194.6" y="112.7" width="1.1" height="2.1" fill="#a06ad8" opacity="0.36"/>
<rect x="216.1" y="107" width="1.3" height="1.8" fill="#ffffff" opacity="0.36"/>
<rect x="209.3" y="99.8" width="1" height="2.4" fill="#a06ad8" opacity="0.36"/>
<rect x="226.9" y="110.3" width="1.2" height="2.4" fill="#ffffff" opacity="0.36"/>
<rect x="198.2" y="102" width="0.7" height="2.3" fill="#a06ad8" opacity="0.36"/>
<rect x="210.1" y="109.3" width="1.1" height="2.2" fill="#ffffff" opacity="0.36"/>
<rect x="192" y="109.5" width="0.8" height="1.9" fill="#ffffff" opacity="0.36"/>
<rect x="199.7" y="106.9" width="0.8" height="2.1" fill="#ffffff" opacity="0.36"/>
<rect x="158.9" y="116.4" width="0.8" height="2.3" fill="#ffffff" opacity="0.36"/>
<rect x="178.1" y="114.4" width="0.8" height="2.1" fill="#ffffff" opacity="0.36"/>
<rect x="211.1" y="100.6" width="1" height="2.1" fill="#ffffff" opacity="0.36"/>
<rect x="173.3" y="110.3" width="0.9" height="1.4" fill="#ffffff" opacity="0.36"/>
<rect x="221.8" y="94.8" width="1.3" height="2.4" fill="#ffffff" opacity="0.36"/>
<rect x="185.3" y="113" width="1" height="1.7" fill="#ffffff" opacity="0.36"/>
<rect x="173.8" y="115" width="0.7" height="2.4" fill="#ffffff" opacity="0.36"/>
<rect x="156.2" y="116.1" width="1" height="2.5" fill="#ffffff" opacity="0.36"/>
<rect x="213" y="94.4" width="0.9" height="1.9" fill="#ffffff" opacity="0.36"/>
<rect x="206.6" y="94.4" width="1.2" height="2.5" fill="#a06ad8" opacity="0.36"/>
<rect x="166" y="110.5" width="1.2" height="1.9" fill="#a06ad8" opacity="0.36"/>
<rect x="169.4" y="107.9" width="1.1" height="2.2" fill="#ffffff" opacity="0.36"/>
<rect x="178" y="114.7" width="1" height="1.9" fill="#ffffff" opacity="0.36"/>
<rect x="181.2" y="108.8" width="1.2" height="1.8" fill="#a06ad8" opacity="0.36"/>
<rect x="168.3" y="111.8" width="1.3" height="2.1" fill="#ffffff" opacity="0.36"/>
<rect x="158.3" y="113.9" width="0.7" height="2.5" fill="#ffffff" opacity="0.36"/>
<rect x="222.4" y="94.5" width="1" height="1.6" fill="#ffffff" opacity="0.36"/>
<rect x="166.7" y="110.8" width="1.1" height="1.7" fill="#ffffff" opacity="0.36"/>
<rect x="205.3" y="111" width="1" height="1.7" fill="#ffffff" opacity="0.36"/>
<rect x="161.1" y="115" width="1.2" height="1.4" fill="#ffffff" opacity="0.36"/>
<rect x="153.6" y="117.8" width="1.1" height="1.3" fill="#a06ad8" opacity="0.36"/>
<rect x="206" y="95.7" width="1" height="2.2" fill="#ffffff" opacity="0.36"/>
<rect x="157.4" y="117.5" width="1.3" height="2.6" fill="#ffffff" opacity="0.36"/>
<rect x="210.5" y="99.8" width="1.1" height="2.2" fill="#ffffff" opacity="0.36"/>
<rect x="202.2" y="100" width="1.2" height="2.1" fill="#a06ad8" opacity="0.36"/>
<rect x="167.5" y="111.6" width="1" height="2.6" fill="#a06ad8" opacity="0.36"/>
<rect x="180.3" y="108.9" width="1.2" height="1.3" fill="#ffffff" opacity="0.36"/>
<rect x="159.5" y="116" width="1.1" height="2.3" fill="#ffffff" opacity="0.36"/>
<rect x="194.5" y="100.8" width="0.8" height="2" fill="#ffffff" opacity="0.36"/>
<rect x="225.4" y="106.2" width="1.1" height="1.7" fill="#ffffff" opacity="0.36"/>
<rect x="198" y="98.2" width="0.9" height="2.3" fill="#a06ad8" opacity="0.36"/>
<rect x="166.2" y="114.1" width="0.8" height="2.4" fill="#ffffff" opacity="0.36"/>
<rect x="169.3" y="116.3" width="0.9" height="2.1" fill="#a06ad8" opacity="0.36"/>
<rect x="224.9" y="109.6" width="0.8" height="2.1" fill="#a06ad8" opacity="0.36"/>
<rect x="196.4" y="99.8" width="0.9" height="2.5" fill="#ffffff" opacity="0.36"/>
<rect x="191.5" y="103.1" width="1" height="2.5" fill="#a06ad8" opacity="0.36"/>
<rect x="188.7" y="102.1" width="0.8" height="1.4" fill="#ffffff" opacity="0.36"/>
<rect x="225.1" y="100.7" width="1.3" height="1.5" fill="#ffffff" opacity="0.36"/>
<rect x="199.1" y="113.3" width="1.2" height="1.4" fill="#ffffff" opacity="0.36"/>
<rect x="187.2" y="105.4" width="0.8" height="1.4" fill="#ffffff" opacity="0.36"/>
<rect x="171.5" y="108.4" width="1.1" height="1.6" fill="#a06ad8" opacity="0.36"/>
<rect x="181.6" y="107.3" width="0.9" height="1.7" fill="#ffffff" opacity="0.36"/>
<rect x="206" y="98" width="1.1" height="1.7" fill="#ffffff" opacity="0.36"/>
<rect x="157.4" y="112" width="0.7" height="1.6" fill="#ffffff" opacity="0.36"/>
<rect x="218.2" y="93" width="0.8" height="1.6" fill="#a06ad8" opacity="0.36"/>
<rect x="216" y="93.9" width="0.8" height="2" fill="#ffffff" opacity="0.36"/>
<rect x="211.1" y="105.4" width="1" height="1.8" fill="#a06ad8" opacity="0.36"/>
<rect x="170" y="116.5" width="1.1" height="2" fill="#ffffff" opacity="0.36"/>
<rect x="226" y="98.7" width="0.8" height="2.5" fill="#ffffff" opacity="0.36"/>
<rect x="190.2" y="109.5" width="1.2" height="2.4" fill="#ffffff" opacity="0.36"/>
<rect x="205.4" y="95.1" width="1.2" height="1.3" fill="#ffffff" opacity="0.36"/>
<rect x="217.8" y="91.1" width="1.1" height="1.2" fill="#ffffff" opacity="0.36"/>
<rect x="209.5" y="106" width="0.8" height="2.4" fill="#a06ad8" opacity="0.36"/>
<rect x="196.7" y="105.8" width="0.8" height="1.4" fill="#ffffff" opacity="0.36"/>
<rect x="220.5" y="95.3" width="1.2" height="1.5" fill="#a06ad8" opacity="0.36"/>
<rect x="214.3" y="101.4" width="1.1" height="1.8" fill="#a06ad8" opacity="0.36"/>
<rect x="191" y="109.6" width="0.8" height="2.5" fill="#ffffff" opacity="0.36"/>
<rect x="215" y="96.4" width="0.9" height="2.3" fill="#ffffff" opacity="0.36"/>
<rect x="190.8" y="105.2" width="1.2" height="1.5" fill="#ffffff" opacity="0.36"/>
<rect x="206" y="109.8" width="1" height="2" fill="#ffffff" opacity="0.36"/>
<rect x="226.7" y="99.9" width="1" height="2.5" fill="#ffffff" opacity="0.36"/>
<rect x="160.3" y="117" width="0.9" height="2.6" fill="#ffffff" opacity="0.36"/>
<rect x="180.8" y="107.2" width="0.8" height="2.2" fill="#ffffff" opacity="0.36"/>
<rect x="200.2" y="101.2" width="0.9" height="2.4" fill="#ffffff" opacity="0.36"/>
<rect x="178.3" y="111.5" width="1.2" height="1.5" fill="#ffffff" opacity="0.36"/>
<rect x="225.2" y="103" width="0.9" height="2.2" fill="#a06ad8" opacity="0.36"/>
<rect x="207.2" y="106.4" width="1.2" height="1.9" fill="#ffffff" opacity="0.36"/>
<rect x="151.2" y="118.5" width="1.1" height="2" fill="#a06ad8" opacity="0.36"/>
<rect x="153.3" y="114.2" width="0.8" height="2.1" fill="#ffffff" opacity="0.36"/>
<rect x="217.5" y="107.2" width="0.9" height="1.2" fill="#ffffff" opacity="0.36"/>
<rect x="182.4" y="106" width="0.9" height="1.5" fill="#a06ad8" opacity="0.36"/>
<rect x="164.3" y="114.7" width="1.2" height="2.6" fill="#a06ad8" opacity="0.36"/>
<rect x="168.8" y="116.2" width="1.2" height="2" fill="#ffffff" opacity="0.36"/>
<rect x="226.8" y="103.3" width="0.8" height="1.6" fill="#ffffff" opacity="0.36"/>
<rect x="205" y="106.1" width="1.1" height="1.2" fill="#ffffff" opacity="0.36"/>
<rect x="169.6" y="112.6" width="1" height="1.5" fill="#ffffff" opacity="0.36"/>
<rect x="174.5" y="113.7" width="1.1" height="1.5" fill="#ffffff" opacity="0.36"/>
<rect x="225.1" y="94.8" width="1" height="2.3" fill="#ffffff" opacity="0.36"/>
<rect x="194.7" y="109.4" width="1.3" height="1.7" fill="#ffffff" opacity="0.36"/>
<rect x="164.3" y="112.5" width="0.8" height="1.3" fill="#ffffff" opacity="0.36"/>
<rect x="207.4" y="114.7" width="1.3" height="1.7" fill="#ffffff" opacity="0.36"/>
<rect x="185.9" y="112.5" width="0.9" height="2.5" fill="#ffffff" opacity="0.36"/>
<rect x="205.2" y="97.9" width="1" height="1.2" fill="#a06ad8" opacity="0.36"/>
<rect x="182.2" y="109.8" width="0.9" height="2.1" fill="#ffffff" opacity="0.36"/>
<rect x="202.4" y="105.7" width="1.1" height="1.8" fill="#a06ad8" opacity="0.36"/>
<rect x="198.2" y="105.5" width="0.8" height="2.4" fill="#ffffff" opacity="0.36"/>
<rect x="208.9" y="93.7" width="1.1" height="1.7" fill="#a06ad8" opacity="0.36"/>
<rect x="190.1" y="107.9" width="1" height="2.1" fill="#a06ad8" opacity="0.36"/>
<rect x="167.3" y="108.9" width="1.1" height="2.6" fill="#a06ad8" opacity="0.36"/>
<rect x="156.1" y="117.6" width="1.1" height="1.6" fill="#ffffff" opacity="0.36"/>
<rect x="204.6" y="103.6" width="1.2" height="1.6" fill="#ffffff" opacity="0.36"/>
<rect x="176.3" y="112" width="1.3" height="2.1" fill="#ffffff" opacity="0.36"/>
<rect x="226.8" y="97.9" width="1.1" height="1.5" fill="#ffffff" opacity="0.36"/>
<rect x="156.6" y="114.4" width="1" height="1.9" fill="#ffffff" opacity="0.36"/>
<rect x="165.5" y="114.5" width="0.9" height="1.6" fill="#ffffff" opacity="0.36"/>
<rect x="211.7" y="108.1" width="1.3" height="2.4" fill="#a06ad8" opacity="0.36"/>
<rect x="167.3" y="116.7" width="1" height="2" fill="#a06ad8" opacity="0.36"/>
<rect x="172" y="110.5" width="0.7" height="2.2" fill="#ffffff" opacity="0.36"/>
<rect x="177.6" y="112.4" width="1.1" height="2.1" fill="#ffffff" opacity="0.36"/>
<rect x="155.9" y="115.4" width="1.1" height="2.2" fill="#a06ad8" opacity="0.36"/>
<rect x="189.7" y="110.8" width="0.8" height="2.3" fill="#ffffff" opacity="0.36"/>
<rect x="226.6" y="109.5" width="0.9" height="2.5" fill="#ffffff" opacity="0.36"/>
<rect x="194.4" y="102.8" width="1" height="2.4" fill="#a06ad8" opacity="0.36"/>
<rect x="203.6" y="111.3" width="1.3" height="2.5" fill="#ffffff" opacity="0.36"/>
<rect x="189.7" y="113.2" width="0.8" height="1.7" fill="#ffffff" opacity="0.36"/>
<rect x="163.4" y="114.8" width="1.3" height="1.3" fill="#a06ad8" opacity="0.36"/>
<rect x="210.7" y="105.4" width="0.8" height="2.5" fill="#a06ad8" opacity="0.36"/>
<rect x="191.8" y="101.2" width="1.1" height="2.4" fill="#ffffff" opacity="0.36"/>
<rect x="165.7" y="113.7" width="0.8" height="2.5" fill="#ffffff" opacity="0.36"/>
<rect x="150.8" y="118.9" width="1.2" height="2.1" fill="#ffffff" opacity="0.36"/>
<rect x="190" y="107" width="0.8" height="1.6" fill="#ffffff" opacity="0.36"/>
<rect x="157.4" y="113.1" width="1" height="2" fill="#a06ad8" opacity="0.36"/>
<rect x="191.8" y="113.5" width="1.2" height="1.6" fill="#ffffff" opacity="0.36"/>
<rect x="194" y="113.8" width="1.1" height="2.1" fill="#ffffff" opacity="0.36"/>
<rect x="202.9" y="106.2" width="1.1" height="1.7" fill="#ffffff" opacity="0.36"/>
<rect x="144.2" y="118" width="1.1" height="2.2" fill="#ffffff" opacity="0.3"/>
<rect x="142.6" y="118.7" width="1" height="1.7" fill="#ffffff" opacity="0.3"/>
<rect x="97.2" y="127.9" width="1.2" height="2" fill="#ffffff" opacity="0.3"/>
<rect x="76.7" y="130.9" width="1.2" height="1.6" fill="#ffffff" opacity="0.3"/>
<rect x="121.4" y="124.9" width="1" height="2.5" fill="#ffffff" opacity="0.3"/>
<rect x="95" y="129.5" width="1.1" height="1.3" fill="#a06ad8" opacity="0.3"/>
<rect x="132.7" y="119.6" width="0.7" height="2.3" fill="#ffffff" opacity="0.3"/>
<rect x="72" y="132.1" width="0.9" height="2.4" fill="#a06ad8" opacity="0.3"/>
<rect x="83.2" y="131" width="0.7" height="2.2" fill="#ffffff" opacity="0.3"/>
<rect x="65.7" y="133.1" width="1.2" height="1.4" fill="#a06ad8" opacity="0.3"/>
<rect x="139.3" y="118.6" width="1.3" height="1.7" fill="#ffffff" opacity="0.3"/>
<rect x="77.3" y="131.2" width="1.2" height="2.6" fill="#ffffff" opacity="0.3"/>
<rect x="99.9" y="127.9" width="1.2" height="1.2" fill="#ffffff" opacity="0.3"/>
<rect x="131.2" y="123" width="0.9" height="1.8" fill="#ffffff" opacity="0.3"/>
<rect x="146.1" y="116.6" width="1.2" height="1.9" fill="#a06ad8" opacity="0.3"/>
<rect x="117.5" y="123.7" width="1.1" height="1.7" fill="#ffffff" opacity="0.3"/>
<rect x="130.1" y="121.5" width="1" height="2.4" fill="#a06ad8" opacity="0.3"/>
<rect x="98.5" y="128.4" width="0.9" height="2" fill="#a06ad8" opacity="0.3"/>
<rect x="119" y="123.2" width="1.3" height="1.5" fill="#ffffff" opacity="0.3"/>
<rect x="102.9" y="128.1" width="1" height="1.2" fill="#ffffff" opacity="0.3"/>
<rect x="106.3" y="126.6" width="1.1" height="2.3" fill="#ffffff" opacity="0.3"/>
<rect x="91.9" y="130" width="1.2" height="1.3" fill="#a06ad8" opacity="0.3"/>
<rect x="118.8" y="125.3" width="1.3" height="1.6" fill="#ffffff" opacity="0.3"/>
<rect x="112.1" y="125.6" width="0.9" height="2.3" fill="#ffffff" opacity="0.3"/>
<rect x="97.7" y="128.6" width="1.1" height="1.3" fill="#ffffff" opacity="0.3"/>
<rect x="63.1" y="133.3" width="1.1" height="1.4" fill="#a06ad8" opacity="0.3"/>
<rect x="70" y="132.3" width="1.3" height="1.5" fill="#a06ad8" opacity="0.3"/>
<rect x="144.8" y="118.7" width="1" height="2.1" fill="#ffffff" opacity="0.3"/>
<rect x="121.7" y="122.8" width="0.7" height="1.3" fill="#ffffff" opacity="0.3"/>
<rect x="144.8" y="119.4" width="1.2" height="1.3" fill="#ffffff" opacity="0.3"/>
<rect x="115.4" y="125.5" width="0.9" height="2.2" fill="#a06ad8" opacity="0.3"/>
<rect x="58.9" y="133.3" width="0.9" height="1.8" fill="#ffffff" opacity="0.3"/>
<rect x="108.8" y="126" width="1.2" height="2.3" fill="#ffffff" opacity="0.3"/>
<rect x="131.1" y="121.3" width="0.9" height="2.3" fill="#a06ad8" opacity="0.3"/>
<rect x="68.7" y="132.6" width="0.8" height="1.5" fill="#a06ad8" opacity="0.3"/>
<rect x="119.8" y="125" width="0.9" height="1.9" fill="#ffffff" opacity="0.3"/>
<rect x="123.2" y="123.4" width="1.1" height="2.2" fill="#ffffff" opacity="0.3"/>
<rect x="131.7" y="121.4" width="1.1" height="1.5" fill="#ffffff" opacity="0.3"/>
<rect x="72.9" y="132.4" width="1" height="2.4" fill="#ffffff" opacity="0.3"/>
<rect x="71.5" y="132.4" width="0.8" height="2.1" fill="#ffffff" opacity="0.3"/>
<rect x="133.1" y="121.9" width="1" height="2" fill="#ffffff" opacity="0.3"/>
<rect x="73.8" y="131.4" width="1.1" height="1.3" fill="#a06ad8" opacity="0.3"/>
<rect x="143.8" y="116.1" width="1" height="2.1" fill="#a06ad8" opacity="0.3"/>
<rect x="127.6" y="121.5" width="1.2" height="2.3" fill="#a06ad8" opacity="0.3"/>
<rect x="111.4" y="125.9" width="1.3" height="1.7" fill="#a06ad8" opacity="0.3"/>
<rect x="80.2" y="131.2" width="1.3" height="2.5" fill="#ffffff" opacity="0.3"/>
<rect x="111.2" y="125.4" width="1" height="2.4" fill="#ffffff" opacity="0.3"/>
<rect x="134.7" y="121.1" width="1.3" height="2.1" fill="#a06ad8" opacity="0.3"/>
<rect x="147.7" y="117.6" width="1.1" height="2.3" fill="#ffffff" opacity="0.3"/>
<rect x="96.9" y="127.8" width="0.9" height="2.3" fill="#ffffff" opacity="0.3"/>
<rect x="77.1" y="130.8" width="1.3" height="2.4" fill="#ffffff" opacity="0.3"/>
<rect x="131.7" y="122" width="1" height="2.1" fill="#a06ad8" opacity="0.3"/>
<rect x="126.7" y="121.8" width="1.1" height="2" fill="#a06ad8" opacity="0.3"/>
<rect x="149.1" y="115.9" width="0.9" height="1.4" fill="#ffffff" opacity="0.3"/>
<rect x="59.4" y="132.9" width="1.3" height="1.4" fill="#a06ad8" opacity="0.3"/>
<rect x="72.7" y="132.3" width="0.9" height="1.3" fill="#ffffff" opacity="0.3"/>
<rect x="139.7" y="117.1" width="1.2" height="2.3" fill="#a06ad8" opacity="0.3"/>
<rect x="145.9" y="117.8" width="0.8" height="1.3" fill="#ffffff" opacity="0.3"/>
<rect x="117.2" y="124.6" width="0.8" height="1.7" fill="#a06ad8" opacity="0.3"/>
<rect x="84.5" y="130.3" width="0.9" height="2.3" fill="#ffffff" opacity="0.3"/>
<rect x="100.5" y="128.6" width="0.9" height="2.5" fill="#ffffff" opacity="0.3"/>
<rect x="117.9" y="125.3" width="0.8" height="2.6" fill="#ffffff" opacity="0.3"/>
<rect x="116.4" y="124.3" width="0.8" height="1.2" fill="#a06ad8" opacity="0.3"/>
<rect x="76" y="131.3" width="1" height="1.8" fill="#ffffff" opacity="0.3"/>
<rect x="62.2" y="132.7" width="0.7" height="1.6" fill="#ffffff" opacity="0.3"/>
<rect x="116.7" y="123.6" width="1.2" height="2.6" fill="#ffffff" opacity="0.3"/>
<rect x="114.6" y="123.7" width="1" height="2.5" fill="#ffffff" opacity="0.3"/>
<rect x="148.3" y="118" width="1.2" height="1.3" fill="#ffffff" opacity="0.3"/>
<rect x="104.7" y="126.9" width="1" height="2" fill="#ffffff" opacity="0.3"/>
<rect x="147.4" y="114.5" width="0.9" height="1.4" fill="#ffffff" opacity="0.3"/>
<rect x="78.5" y="131" width="1.3" height="1.7" fill="#a06ad8" opacity="0.3"/>
<rect x="102.5" y="126.6" width="0.8" height="1.5" fill="#ffffff" opacity="0.3"/>
<rect x="110.3" y="125.4" width="1" height="1.2" fill="#ffffff" opacity="0.3"/>
<rect x="137.4" y="117.4" width="0.9" height="2.6" fill="#ffffff" opacity="0.3"/>
<rect x="73.5" y="131.4" width="1.1" height="1.7" fill="#ffffff" opacity="0.3"/>
<rect x="78.2" y="131.7" width="1.1" height="1.7" fill="#ffffff" opacity="0.3"/>
<rect x="114.6" y="125.9" width="0.9" height="2.1" fill="#ffffff" opacity="0.3"/>
<rect x="104.5" y="126.1" width="1.2" height="1.4" fill="#ffffff" opacity="0.3"/>
<rect x="126.3" y="122.3" width="1" height="2.3" fill="#a06ad8" opacity="0.3"/>
<rect x="101.2" y="127.1" width="1.2" height="2.4" fill="#a06ad8" opacity="0.3"/>
<rect x="104.2" y="128.1" width="1.3" height="1.5" fill="#ffffff" opacity="0.3"/>
<rect x="144.8" y="118.9" width="1.3" height="1.7" fill="#a06ad8" opacity="0.3"/>
<rect x="109.2" y="127.1" width="0.9" height="1.6" fill="#ffffff" opacity="0.3"/>
<rect x="145.1" y="118.3" width="0.7" height="1.6" fill="#a06ad8" opacity="0.3"/>
<rect x="109.2" y="125.3" width="1.1" height="1.3" fill="#ffffff" opacity="0.3"/>
<rect x="81.3" y="131.6" width="0.7" height="1.4" fill="#ffffff" opacity="0.3"/>
<rect x="133.4" y="121.4" width="1.2" height="1.5" fill="#a06ad8" opacity="0.3"/>
<rect x="58.5" y="133.6" width="1.1" height="1.7" fill="#ffffff" opacity="0.3"/>
<rect x="111.3" y="124.6" width="1" height="2.4" fill="#ffffff" opacity="0.3"/>
<rect x="87.1" y="129.3" width="0.8" height="1.6" fill="#ffffff" opacity="0.3"/>
<rect x="115.6" y="125.4" width="1.2" height="2.2" fill="#a06ad8" opacity="0.3"/>
<rect x="119.7" y="124.2" width="1.1" height="2.2" fill="#a06ad8" opacity="0.3"/>
<rect x="147.8" y="115" width="0.8" height="1.5" fill="#ffffff" opacity="0.3"/>
<rect x="143.3" y="117.4" width="1" height="1.5" fill="#ffffff" opacity="0.3"/>
<rect x="104.9" y="125.8" width="1.3" height="2.2" fill="#ffffff" opacity="0.3"/>
<rect x="119.2" y="124.2" width="0.9" height="2.3" fill="#ffffff" opacity="0.3"/>
<rect x="93.7" y="128.6" width="1.3" height="2.2" fill="#a06ad8" opacity="0.3"/>
<rect x="120.1" y="122.7" width="1.2" height="1.8" fill="#ffffff" opacity="0.3"/>
<rect x="115.8" y="124.9" width="0.7" height="1.3" fill="#ffffff" opacity="0.3"/>
<rect x="83.9" y="130.1" width="1.1" height="1.4" fill="#a06ad8" opacity="0.3"/>
</g>
<rect x="56.5" y="5.5" width="477" height="163" fill="none" stroke="#3a3a3a" stroke-width="1.0"/>
<path d="M56.5 168.5v-5 M56.5 5.5v5 M215.5 168.5v-5 M215.5 5.5v5 M374.5 168.5v-5 M374.5 5.5v5 M533.5 168.5v-5 M533.5 5.5v5 M56.5 168.5h5 M533.5 168.5h-5 M56.5 115.5h5 M533.5 115.5h-5 M56.5 62.5h5 M533.5 62.5h-5 M56.5 9.5h5 M533.5 9.5h-5 " stroke="#3a3a3a" stroke-width="1.0" fill="none"/>
<text transform="translate(52.3 173.7) scale(0.91 1)" font-family='"Liberation Sans", Arial, Helvetica, sans-serif' font-size="14.0" text-anchor="end" fill="#262626" stroke="#262626" stroke-width="0.25" >0</text>
<text transform="translate(52.3 120.7) scale(0.91 1)" font-family='"Liberation Sans", Arial, Helvetica, sans-serif' font-size="14.0" text-anchor="end" fill="#262626" stroke="#262626" stroke-width="0.25" >1000</text>
<text transform="translate(52.3 67.7) scale(0.91 1)" font-family='"Liberation Sans", Arial, Helvetica, sans-serif' font-size="14.0" text-anchor="end" fill="#262626" stroke="#262626" stroke-width="0.25" >2000</text>
<text transform="translate(52.3 14.7) scale(0.91 1)" font-family='"Liberation Sans", Arial, Helvetica, sans-serif' font-size="14.0" text-anchor="end" fill="#262626" stroke="#262626" stroke-width="0.25" >3000</text>
<text transform="translate(56.5 186.8) scale(0.91 1)" font-family='"Liberation Sans", Arial, Helvetica, sans-serif' font-size="14.0" text-anchor="middle" fill="#262626" stroke="#262626" stroke-width="0.25" >0</text>
<text transform="translate(215.5 186.8) scale(0.91 1)" font-family='"Liberation Sans", Arial, Helvetica, sans-serif' font-size="14.0" text-anchor="middle" fill="#262626" stroke="#262626" stroke-width="0.25" >5</text>
<text transform="translate(374.5 186.8) scale(0.91 1)" font-family='"Liberation Sans", Arial, Helvetica, sans-serif' font-size="14.0" text-anchor="middle" fill="#262626" stroke="#262626" stroke-width="0.25" >10</text>
<text transform="translate(533.6 186.8) scale(0.91 1)" font-family='"Liberation Sans", Arial, Helvetica, sans-serif' font-size="14.0" text-anchor="middle" fill="#262626" stroke="#262626" stroke-width="0.25" >15</text>
<text transform="translate(294.7 193.4) scale(1.037 1)" font-family='"Liberation Sans", Arial, Helvetica, sans-serif' font-size="14.6" text-anchor="middle" fill="#262626" stroke="#262626" stroke-width="0.25" >Time (s)</text>
<text transform="translate(16.1 86.9) rotate(-90) scale(0.99 1)" font-family='"Liberation Sans", Arial, Helvetica, sans-serif' font-size="15.2" text-anchor="middle" fill="#262626" stroke="#262626" stroke-width="0.25" >Speed (rpm)</text>
<rect x="65.7" y="7.6" width="130.6" height="68" fill="#fff" stroke="#b0b0b0" stroke-width="1.1"/>
<polyline points="70.7,17.1 118.7,17.1" fill="none" stroke="#f5141e" stroke-width="1.1" />
<text transform="translate(122.6 21.7)" font-family='"Liberation Sans", Arial, Helvetica, sans-serif' font-size="12.25" text-anchor="start" fill="#000" stroke="#000" stroke-width="0.25" >Flywheel</text>
<polyline points="70.7,33.1 118.7,33.1" fill="none" stroke="#1f8fdc" stroke-width="1.1" stroke-dasharray="9.6 5.7" />
<text transform="translate(122.6 38.2)" font-family='"Liberation Sans", Arial, Helvetica, sans-serif' font-size="12.25" text-anchor="start" fill="#000" stroke="#000" stroke-width="0.25" >Gearbox-in</text>
<polyline points="70.7,49.3 118.7,49.3" fill="none" stroke="#a06ad8" stroke-width="1.1" stroke-dasharray="1.3 2.58" />
<text transform="translate(122.6 54.3)" font-family='"Liberation Sans", Arial, Helvetica, sans-serif' font-size="12.25" text-anchor="start" fill="#000" stroke="#000" stroke-width="0.25" >Gearbox-out</text>
<polyline points="70.7,65.4 118.7,65.4" fill="none" stroke="#16be66" stroke-width="1.1" stroke-dasharray="7.8 3.1 1.5 2.9" />
<text transform="translate(122.6 70.1)" font-family='"Liberation Sans", Arial, Helvetica, sans-serif' font-size="12.25" text-anchor="start" fill="#000" stroke="#000" stroke-width="0.25" >Final drive-in</text>
<rect x="345.4" y="84.7" width="175.10000000000002" height="65.3" fill="#fff"/>
<defs><clipPath id="cia"><rect x="345.4" y="84.7" width="175.10000000000002" height="65.3"/></clipPath></defs>
<g clip-path="url(#cia)">
<polyline points="345.4,108.1 345.6,108.2 345.9,108.3 346.1,108.5 346.4,108.6 346.6,108.8 346.9,108.9 347.1,109 347.4,109.1 347.6,109.1 347.9,108.9 348.1,108.8 348.4,108.5 348.6,108.3 348.9,107.9 349.1,107.6 349.4,107.2 349.6,106.8 349.9,106.3 350.1,105.9 350.4,105.5 350.6,105.1 350.9,104.7 351.1,104.4 351.4,104 351.6,103.8 351.9,103.6 352.1,103.4 352.4,103.3 352.6,103.3 352.9,103.3 353.1,103.4 353.4,103.5 353.6,103.6 353.9,103.7 354.1,103.8 354.4,103.9 354.6,104 354.9,104.1 355.1,104.3 355.4,104.4 355.6,104.5 355.9,104.6 356.1,104.8 356.4,104.9 356.6,105 356.9,105.2 357.1,105.3 357.4,105.4 357.6,105.6 357.9,105.7 358.1,105.8 358.4,106 358.6,106.1 358.9,106.2 359.1,106.4 359.4,106.5 359.6,106.7 359.9,106.8 360.1,107 360.4,107.1 360.6,107.2 360.9,107.4 361.1,107.5 361.4,107.7 361.6,107.8 361.9,108 362.1,108.1 362.4,108.3 362.6,108.4 362.9,108.6 363.1,108.7 363.4,108.8 363.6,108.9 363.9,108.9 364.1,108.8 364.4,108.6 364.6,108.4 364.9,108.1 365.1,107.8 365.4,107.4 365.6,107 365.9,106.6 366.1,106.2 366.4,105.8 366.6,105.4 366.9,105 367.1,104.6 367.4,104.2 367.6,103.9 367.9,103.6 368.1,103.4 368.4,103.2 368.6,103.1 368.9,103.1 369.1,103.1 369.4,103.2 369.6,103.3 369.9,103.4 370.1,103.5 370.4,103.6 370.6,103.7 370.9,103.8 371.1,103.9 371.4,104.1 371.6,104.2 371.9,104.3 372.1,104.4 372.4,104.6 372.6,104.7 372.9,104.8 373.1,105 373.4,105.1 373.6,105.2 373.9,105.4 374.1,105.5 374.4,105.6 374.6,105.8 374.9,105.9 375.1,106 375.4,106.2 375.6,106.3 375.9,106.5 376.1,106.6 376.4,106.8 376.6,106.9 376.9,107 377.1,107.2 377.4,107.3 377.6,107.5 377.9,107.6 378.1,107.8 378.4,107.9 378.6,108.1 378.9,108.2 379.1,108.4 379.4,108.5 379.6,108.6 379.9,108.7 380.1,108.7 380.4,108.6 380.6,108.4 380.9,108.2 381.1,108 381.4,107.6 381.6,107.3 381.9,106.9 382.1,106.5 382.4,106.1 382.6,105.6 382.9,105.2 383.1,104.8 383.4,104.4 383.6,104.1 383.9,103.7 384.1,103.5 384.4,103.2 384.6,103.1 384.9,103 385.1,102.9 385.4,102.9 385.6,103 385.9,103.1 386.1,103.2 386.4,103.3 386.6,103.4 386.9,103.5 387.1,103.6 387.4,103.7 387.6,103.9 387.9,104 388.1,104.1 388.4,104.2 388.6,104.4 388.9,104.5 389.1,104.6 389.4,104.7 389.6,104.9 389.9,105 390.1,105.1 390.4,105.3 390.6,105.4 390.9,105.6 391.1,105.7 391.4,105.8 391.6,106 391.9,106.1 392.1,106.3 392.4,106.4 392.6,106.5 392.9,106.7 393.1,106.8 393.4,107 393.6,107.1 393.9,107.3 394.1,107.4 394.4,107.6 394.6,107.7 394.9,107.9 395.1,108 395.4,108.2 395.6,108.3 395.9,108.4 396.1,108.5 396.4,108.5 396.6,108.4 396.9,108.3 397.1,108.1 397.4,107.8 397.6,107.5 397.9,107.1 398.1,106.8 398.4,106.4 398.6,105.9 398.9,105.5 399.1,105.1 399.4,104.7 399.6,104.3 399.9,103.9 400.1,103.6 400.4,103.3 400.6,103.1 400.9,102.9 401.1,102.8 401.4,102.7 401.6,102.7 401.9,102.8 402.1,102.9 402.4,103 402.6,103.1 402.9,103.2 403.1,103.3 403.4,103.4 403.6,103.5 403.9,103.7 404.1,103.8 404.4,103.9 404.6,104 404.9,104.2 405.1,104.3 405.4,104.4 405.6,104.5 405.9,104.7 406.1,104.8 406.4,104.9 406.6,105.1 406.9,105.2 407.1,105.4 407.4,105.5 407.6,105.6 407.9,105.8 408.1,105.9 408.4,106.1 408.6,106.2 408.9,106.3 409.1,106.5 409.4,106.6 409.6,106.8 409.9,106.9 410.1,107.1 410.4,107.2 410.6,107.4 410.9,107.5 411.1,107.7 411.4,107.8 411.6,108 411.9,108.1 412.1,108.2 412.4,108.3 412.6,108.3 412.9,108.3 413.1,108.1 413.4,107.9 413.6,107.7 413.9,107.4 414.1,107 414.4,106.6 414.6,106.2 414.9,105.8 415.1,105.4 415.4,105 415.6,104.5 415.9,104.1 416.1,103.8 416.4,103.4 416.6,103.2 416.9,102.9 417.1,102.7 417.4,102.6 417.6,102.5 417.9,102.5 418.1,102.6 418.4,102.7 418.6,102.8 418.9,102.9 419.1,103 419.4,103.1 419.6,103.2 419.9,103.3 420.1,103.5 420.4,103.6 420.6,103.7 420.9,103.8 421.1,104 421.4,104.1 421.6,104.2 421.9,104.3 422.1,104.5 422.4,104.6 422.6,104.7 422.9,104.9 423.1,105 423.4,105.2 423.6,105.3 423.9,105.4 424.1,105.6 424.4,105.7 424.6,105.9 424.9,106 425.1,106.1 425.4,106.3 425.6,106.4 425.9,106.6 426.1,106.7 426.4,106.9 426.6,107 426.9,107.2 427.1,107.3 427.4,107.5 427.6,107.6 427.9,107.8 428.1,107.9 428.4,108 428.6,108.1 428.9,108.2 429.1,108.1 429.4,108 429.6,107.8 429.9,107.5 430.1,107.2 430.4,106.9 430.6,106.5 430.9,106.1 431.1,105.7 431.4,105.2 431.6,104.8 431.9,104.4 432.1,104 432.4,103.6 432.6,103.3 432.9,103 433.1,102.8 433.4,102.6 433.6,102.4 433.9,102.4 434.1,102.4 434.4,102.4 434.6,102.5 434.9,102.6 435.1,102.7 435.4,102.8 435.6,102.9 435.9,103 436.1,103.1 436.4,103.3 436.6,103.4 436.9,103.5 437.1,103.6 437.4,103.8 437.6,103.9 437.9,104 438.1,104.1 438.4,104.3 438.6,104.4 438.9,104.5 439.1,104.7 439.4,104.8 439.6,105 439.9,105.1 440.1,105.2 440.4,105.4 440.6,105.5 440.9,105.7 441.1,105.8 441.4,105.9 441.6,106.1 441.9,106.2 442.1,106.4 442.4,106.5 442.6,106.7 442.9,106.8 443.1,107 443.4,107.1 443.6,107.3 443.9,107.4 444.1,107.6 444.4,107.7 444.6,107.8 444.9,107.9 445.1,108 445.4,107.9 445.6,107.8 445.9,107.6 446.1,107.4 446.4,107.1 446.6,106.7 446.9,106.3 447.1,106 447.4,105.5 447.6,105.1 447.9,104.7 448.1,104.3 448.4,103.9 448.6,103.5 448.9,103.1 449.1,102.8 449.4,102.6 449.6,102.4 449.9,102.3 450.1,102.2 450.4,102.2 450.6,102.2 450.9,102.3 451.1,102.4 451.4,102.5 451.6,102.6 451.9,102.7 452.1,102.8 452.4,102.9 452.6,103.1 452.9,103.2 453.1,103.3 453.4,103.4 453.6,103.6 453.9,103.7 454.1,103.8 454.4,103.9 454.6,104.1 454.9,104.2 455.1,104.3 455.4,104.5 455.6,104.6 455.9,104.7 456.1,104.9 456.4,105 456.6,105.2 456.9,105.3 457.1,105.4 457.4,105.6 457.6,105.7 457.9,105.9 458.1,106 458.4,106.2 458.6,106.3 458.9,106.5 459.1,106.6 459.4,106.8 459.6,106.9 459.9,107.1 460.1,107.2 460.4,107.4 460.6,107.5 460.9,107.6 461.1,107.8 461.4,107.8 461.6,107.7 461.9,107.6 462.1,107.4 462.4,107.2 462.6,106.9 462.9,106.6 463.1,106.2 463.4,105.8 463.6,105.4 463.9,105 464.1,104.5 464.4,104.1 464.6,103.7 464.9,103.3 465.1,103 465.4,102.7 465.6,102.4 465.9,102.2 466.1,102.1 466.4,102 466.6,102 466.9,102 467.1,102.1 467.4,102.2 467.6,102.3 467.9,102.4 468.1,102.5 468.4,102.6 468.6,102.7 468.9,102.9 469.1,103 469.4,103.1 469.6,103.2 469.9,103.4 470.1,103.5 470.4,103.6 470.6,103.7 470.9,103.9 471.1,104 471.4,104.1 471.6,104.3 471.9,104.4 472.1,104.5 472.4,104.7 472.6,104.8 472.9,105 473.1,105.1 473.4,105.2 473.6,105.4 473.9,105.5 474.1,105.7 474.4,105.8 474.6,106 474.9,106.1 475.1,106.3 475.4,106.4 475.6,106.6 475.9,106.7 476.1,106.9 476.4,107 476.6,107.2 476.9,107.3 477.1,107.4 477.4,107.6 477.6,107.6 477.9,107.6 478.1,107.5 478.4,107.3 478.6,107 478.9,106.8 479.1,106.4 479.4,106.1 479.6,105.7 479.9,105.3 480.1,104.8 480.4,104.4 480.6,104 480.9,103.6 481.1,103.2 481.4,102.9 481.6,102.5 481.9,102.3 482.1,102.1 482.4,101.9 482.6,101.8 482.9,101.8 483.1,101.8 483.4,101.9 483.6,102 483.9,102.1 484.1,102.2 484.4,102.3 484.6,102.4 484.9,102.5 485.1,102.7 485.4,102.8 485.6,102.9 485.9,103 486.1,103.2 486.4,103.3 486.6,103.4 486.9,103.5 487.1,103.7 487.4,103.8 487.6,103.9 487.9,104.1 488.1,104.2 488.4,104.3 488.6,104.5 488.9,104.6 489.1,104.8 489.4,104.9 489.6,105 489.9,105.2 490.1,105.3 490.4,105.5 490.6,105.6 490.9,105.8 491.1,105.9 491.4,106.1 491.6,106.2 491.9,106.3 492.1,106.5 492.4,106.6 492.6,106.8 492.9,106.9 493.1,107.1 493.4,107.2 493.6,107.4 493.9,107.4 494.1,107.4 494.4,107.3 494.6,107.1 494.9,106.9 495.1,106.6 495.4,106.3 495.6,105.9 495.9,105.5 496.1,105.1 496.4,104.7 496.6,104.3 496.9,103.9 497.1,103.4 497.4,103.1 497.6,102.7 497.9,102.4 498.1,102.1 498.4,101.9 498.6,101.7 498.9,101.6 499.1,101.6 499.4,101.6 499.6,101.7 499.9,101.8 500.1,101.9 500.4,102 500.6,102.1 500.9,102.2 501.1,102.3 501.4,102.5 501.6,102.6 501.9,102.7 502.1,102.8 502.4,103 502.6,103.1 502.9,103.2 503.1,103.3 503.4,103.5 503.6,103.6 503.9,103.7 504.1,103.9 504.4,104 504.6,104.1 504.9,104.3 505.1,104.4 505.4,104.6 505.6,104.7 505.9,104.8 506.1,105 506.4,105.1 506.6,105.3 506.9,105.4 507.1,105.6 507.4,105.7 507.6,105.9 507.9,106 508.1,106.1 508.4,106.3 508.6,106.4 508.9,106.6 509.1,106.7 509.4,106.9 509.6,107 509.9,107.2 510.1,107.2 510.4,107.2 510.6,107.1 510.9,107 511.1,106.7 511.4,106.5 511.6,106.1 511.9,105.8 512.1,105.4 512.4,105 512.6,104.6 512.9,104.1 513.1,103.7 513.4,103.3 513.6,102.9 513.9,102.6 514.1,102.2 514.4,102 514.6,101.7 514.9,101.6 515.1,101.5 515.4,101.4 515.6,101.4 515.9,101.5 516.1,101.6 516.4,101.7 516.6,101.8 516.9,101.9 517.1,102 517.4,102.1 517.6,102.3 517.9,102.4 518.1,102.5 518.4,102.6 518.6,102.8 518.9,102.9 519.1,103 519.4,103.1 519.6,103.3 519.9,103.4 520.1,103.5 520.4,103.6" fill="none" stroke="#f5141e" stroke-width="1.3" />
<polyline points="345.4,100 345.6,101.3 345.9,102.5 346.1,103.7 346.4,105 346.6,106.2 346.9,107.4 347.1,108.6 347.4,109.9 347.6,111.1 347.9,112.4 348.1,113.6 348.4,114.8 348.6,115.9 348.9,117 349.1,117.9 349.4,118.7 349.6,119.4 349.9,119.8 350.1,120 350.4,119.9 350.6,119.7 350.9,119.2 351.1,118.5 351.4,117.7 351.6,116.7 351.9,115.6 352.1,114.4 352.4,113.3 352.6,112.1 352.9,111 353.1,109.9 353.4,109 353.6,108.1 353.9,107.3 354.1,106.6 354.4,105.9 354.6,105.3 354.9,104.6 355.1,103.9 355.4,103.2 355.6,102.4 355.9,101.5 356.1,100.5 356.4,99.4 356.6,98.3 356.9,97.1 357.1,96 357.4,94.8 357.6,93.7 357.9,92.7 358.1,91.9 358.4,91.2 358.6,90.8 358.9,90.6 359.1,90.6 359.4,90.8 359.6,91.2 359.9,91.9 360.1,92.7 360.4,93.7 360.6,94.8 360.9,95.9 361.1,97.1 361.4,98.4 361.6,99.7 361.9,100.9 362.1,102.2 362.4,103.4 362.6,104.6 362.9,105.9 363.1,107.1 363.4,108.3 363.6,109.6 363.9,110.8 364.1,112.1 364.4,113.4 364.6,114.6 364.9,115.8 365.1,116.8 365.4,117.8 365.6,118.6 365.9,119.3 366.1,119.7 366.4,120 366.6,119.9 366.9,119.7 367.1,119.3 367.4,118.6 367.6,117.8 367.9,116.8 368.1,115.7 368.4,114.5 368.6,113.3 368.9,112.1 369.1,111 369.4,109.9 369.6,108.9 369.9,108.1 370.1,107.2 370.4,106.5 370.6,105.8 370.9,105.2 371.1,104.5 371.4,103.8 371.6,103.1 371.9,102.3 372.1,101.4 372.4,100.4 372.6,99.3 372.9,98.2 373.1,97 373.4,95.8 373.6,94.7 373.9,93.5 374.1,92.5 374.4,91.7 374.6,91 374.9,90.5 375.1,90.3 375.4,90.2 375.6,90.4 375.9,90.9 376.1,91.5 376.4,92.3 376.6,93.3 376.9,94.3 377.1,95.5 377.4,96.7 377.6,98 377.9,99.3 378.1,100.5 378.4,101.8 378.6,103.1 378.9,104.3 379.1,105.6 379.4,106.8 379.6,108 379.9,109.3 380.1,110.6 380.4,111.9 380.6,113.1 380.9,114.4 381.1,115.6 381.4,116.7 381.6,117.7 381.9,118.5 382.1,119.2 382.4,119.7 382.6,119.9 382.9,120 383.1,119.7 383.4,119.3 383.6,118.7 383.9,117.8 384.1,116.9 384.4,115.8 384.6,114.6 384.9,113.4 385.1,112.2 385.4,111 385.6,109.9 385.9,108.9 386.1,108 386.4,107.2 386.6,106.4 386.9,105.7 387.1,105.1 387.4,104.4 387.6,103.7 387.9,103 388.1,102.2 388.4,101.3 388.6,100.3 388.9,99.2 389.1,98.1 389.4,96.9 389.6,95.7 389.9,94.5 390.1,93.4 390.4,92.4 390.6,91.5 390.9,90.7 391.1,90.2 391.4,89.9 391.6,89.9 391.9,90.1 392.1,90.5 392.4,91.1 392.6,91.9 392.9,92.8 393.1,93.9 393.4,95.1 393.6,96.3 393.9,97.6 394.1,98.9 394.4,100.2 394.6,101.5 394.9,102.7 395.1,104 395.4,105.2 395.6,106.5 395.9,107.8 396.1,109 396.4,110.3 396.6,111.6 396.9,112.9 397.1,114.2 397.4,115.4 397.6,116.5 397.9,117.5 398.1,118.4 398.4,119.1 398.6,119.6 398.9,119.9 399.1,120 399.4,119.8 399.6,119.4 399.9,118.7 400.1,117.9 400.4,116.9 400.6,115.8 400.9,114.7 401.1,113.5 401.4,112.2 401.6,111.1 401.9,110 402.1,108.9 402.4,108 402.6,107.1 402.9,106.4 403.1,105.7 403.4,105 403.6,104.3 403.9,103.6 404.1,102.9 404.4,102.1 404.6,101.2 404.9,100.2 405.1,99.2 405.4,98 405.6,96.8 405.9,95.6 406.1,94.4 406.4,93.2 406.6,92.2 406.9,91.2 407.1,90.5 407.4,90 407.6,89.6 407.9,89.6 408.1,89.7 408.4,90.1 408.6,90.7 408.9,91.5 409.1,92.4 409.4,93.5 409.6,94.7 409.9,95.9 410.1,97.2 410.4,98.5 410.6,99.8 410.9,101.1 411.1,102.4 411.4,103.7 411.6,104.9 411.9,106.2 412.1,107.5 412.4,108.8 412.6,110.1 412.9,111.4 413.1,112.7 413.4,113.9 413.6,115.2 413.9,116.3 414.1,117.4 414.4,118.3 414.6,119 414.9,119.6 415.1,119.9 415.4,120 415.6,119.8 415.9,119.4 416.1,118.8 416.4,118 416.6,117 416.9,115.9 417.1,114.8 417.4,113.5 417.6,112.3 417.9,111.1 418.1,110 418.4,108.9 418.6,108 418.9,107.1 419.1,106.3 419.4,105.6 419.6,104.9 419.9,104.2 420.1,103.5 420.4,102.8 420.6,102 420.9,101.1 421.1,100.1 421.4,99.1 421.6,97.9 421.9,96.7 422.1,95.5 422.4,94.2 422.6,93.1 422.9,92 423.1,91 423.4,90.3 423.6,89.7 423.9,89.3 424.1,89.2 424.4,89.3 424.6,89.7 424.9,90.3 425.1,91.1 425.4,92 425.6,93.1 425.9,94.3 426.1,95.5 426.4,96.8 426.6,98.1 426.9,99.4 427.1,100.7 427.4,102 427.6,103.3 427.9,104.6 428.1,105.9 428.4,107.2 428.6,108.5 428.9,109.8 429.1,111.1 429.4,112.4 429.6,113.7 429.9,115 430.1,116.2 430.4,117.2 430.6,118.2 430.9,118.9 431.1,119.5 431.4,119.8 431.6,120 431.9,119.8 432.1,119.5 432.4,118.9 432.6,118.1 432.9,117.1 433.1,116 433.4,114.8 433.6,113.6 433.9,112.4 434.1,111.2 434.4,110 434.6,108.9 434.9,107.9 435.1,107.1 435.4,106.3 435.6,105.5 435.9,104.8 436.1,104.1 436.4,103.4 436.6,102.7 436.9,101.9 437.1,101 437.4,100 437.6,99 437.9,97.8 438.1,96.6 438.4,95.4 438.6,94.1 438.9,92.9 439.1,91.8 439.4,90.8 439.6,90 439.9,89.4 440.1,89 440.4,88.9 440.6,89 440.9,89.3 441.1,89.9 441.4,90.6 441.6,91.6 441.9,92.7 442.1,93.8 442.4,95.1 442.6,96.4 442.9,97.7 443.1,99 443.4,100.4 443.6,101.7 443.9,103 444.1,104.3 444.4,105.6 444.6,106.9 444.9,108.2 445.1,109.5 445.4,110.9 445.6,112.2 445.9,113.5 446.1,114.8 446.4,116 446.6,117.1 446.9,118 447.1,118.8 447.4,119.4 447.6,119.8 447.9,120 448.1,119.9 448.4,119.5 448.6,118.9 448.9,118.2 449.1,117.2 449.4,116.1 449.6,114.9 449.9,113.7 450.1,112.4 450.4,111.2 450.6,110 450.9,108.9 451.1,107.9 451.4,107 451.6,106.2 451.9,105.4 452.1,104.7 452.4,104.1 452.6,103.4 452.9,102.6 453.1,101.8 453.4,100.9 453.6,100 453.9,98.9 454.1,97.7 454.4,96.5 454.6,95.2 454.9,94 455.1,92.8 455.4,91.6 455.6,90.6 455.9,89.8 456.1,89.2 456.4,88.7 456.6,88.6 456.9,88.6 457.1,88.9 457.4,89.5 457.6,90.2 457.9,91.2 458.1,92.2 458.4,93.4 458.6,94.7 458.9,96 459.1,97.3 459.4,98.7 459.6,100 459.9,101.3 460.1,102.6 460.4,104 460.6,105.3 460.9,106.6 461.1,107.9 461.4,109.2 461.6,110.6 461.9,111.9 462.1,113.3 462.4,114.6 462.6,115.8 462.9,116.9 463.1,117.9 463.4,118.7 463.6,119.4 463.9,119.8 464.1,119.9 464.4,119.9 464.6,119.6 464.9,119 465.1,118.2 465.4,117.3 465.6,116.2 465.9,115 466.1,113.8 466.4,112.5 466.6,111.3 466.9,110.1 467.1,108.9 467.4,107.9 467.6,107 467.9,106.1 468.1,105.4 468.4,104.7 468.6,104 468.9,103.3 469.1,102.5 469.4,101.7 469.6,100.8 469.9,99.9 470.1,98.8 470.4,97.6 470.6,96.4 470.9,95.1 471.1,93.9 471.4,92.6 471.6,91.5 471.9,90.4 472.1,89.6 472.4,88.9 472.6,88.4 472.9,88.2 473.1,88.3 473.4,88.6 473.6,89.1 473.9,89.8 474.1,90.7 474.4,91.8 474.6,93 474.9,94.2 475.1,95.6 475.4,96.9 475.6,98.3 475.9,99.6 476.1,101 476.4,102.3 476.6,103.6 476.9,104.9 477.1,106.3 477.4,107.6 477.6,109 477.9,110.3 478.1,111.7 478.4,113 478.6,114.3 478.9,115.6 479.1,116.7 479.4,117.8 479.6,118.6 479.9,119.3 480.1,119.7 480.4,119.9 480.6,119.9 480.9,119.6 481.1,119.1 481.4,118.3 481.6,117.4 481.9,116.3 482.1,115.1 482.4,113.9 482.6,112.6 482.9,111.3 483.1,110.1 483.4,109 483.6,107.9 483.9,107 484.1,106.1 484.4,105.3 484.6,104.6 484.9,103.9 485.1,103.2 485.4,102.4 485.6,101.6 485.9,100.7 486.1,99.8 486.4,98.7 486.6,97.5 486.9,96.3 487.1,95 487.4,93.7 487.6,92.5 487.9,91.3 488.1,90.2 488.4,89.3 488.6,88.6 488.9,88.2 489.1,87.9 489.4,87.9 489.6,88.2 489.9,88.7 490.1,89.4 490.4,90.3 490.6,91.4 490.9,92.5 491.1,93.8 491.4,95.1 491.6,96.5 491.9,97.9 492.1,99.2 492.4,100.6 492.6,102 492.9,103.3 493.1,104.6 493.4,106 493.6,107.3 493.9,108.7 494.1,110.1 494.4,111.4 494.6,112.8 494.9,114.1 495.1,115.4 495.4,116.6 495.6,117.6 495.9,118.5 496.1,119.2 496.4,119.7 496.6,119.9 496.9,119.9 497.1,119.6 497.4,119.1 497.6,118.4 497.9,117.5 498.1,116.4 498.4,115.2 498.6,113.9 498.9,112.6 499.1,111.4 499.4,110.1 499.6,109 499.9,107.9 500.1,106.9 500.4,106.1 500.6,105.3 500.9,104.5 501.1,103.8 501.4,103.1 501.6,102.3 501.9,101.5 502.1,100.7 502.4,99.7 502.6,98.6 502.9,97.5 503.1,96.2 503.4,94.9 503.6,93.6 503.9,92.4 504.1,91.2 504.4,90.1 504.6,89.1 504.9,88.4 505.1,87.9 505.4,87.6 505.6,87.6 505.9,87.8 506.1,88.3 506.4,89 506.6,89.9 506.9,90.9 507.1,92.1 507.4,93.4 507.6,94.7 507.9,96.1 508.1,97.5 508.4,98.9 508.6,100.2 508.9,101.6 509.1,103 509.4,104.3 509.6,105.7 509.9,107 510.1,108.4 510.4,109.8 510.6,111.2 510.9,112.6 511.1,113.9 511.4,115.2 511.6,116.4 511.9,117.5 512.1,118.4 512.4,119.1 512.6,119.6 512.9,119.9 513.1,119.9 513.4,119.7 513.6,119.2 513.9,118.5 514.1,117.6 514.4,116.5 514.6,115.3 514.9,114 515.1,112.7 515.4,111.4 515.6,110.2 515.9,109 516.1,107.9 516.4,106.9 516.6,106 516.9,105.2 517.1,104.4 517.4,103.7 517.6,103 517.9,102.3 518.1,101.5 518.4,100.6 518.6,99.6 518.9,98.5 519.1,97.4 519.4,96.1 519.6,94.8 519.9,93.5 520.1,92.2 520.4,91" fill="none" stroke="#1f8fdc" stroke-width="1.1" stroke-dasharray="9.6 5.7" />
<polyline points="345.4,129.9 345.6,131.1 345.9,132.2 346.1,133.2 346.4,134.2 346.6,135.1 346.9,135.9 347.1,136.7 347.4,137.4 347.6,138 347.9,138.6 348.1,139.1 348.4,139.5 348.6,139.9 348.9,140.2 349.1,140.5 349.4,140.8 349.6,141 349.9,141.1 350.1,141.2 350.4,141.2 350.6,141.1 350.9,141 351.1,140.8 351.4,140.5 351.6,140.1 351.9,139.6 352.1,139 352.4,138.2 352.6,137.4 352.9,136.5 353.1,135.5 353.4,134.3 353.6,133.1 353.9,131.8 354.1,130.5 354.4,129.1 354.6,127.6 354.9,126.2 355.1,124.8 355.4,123.4 355.6,122.1 355.9,120.8 356.1,119.7 356.4,118.7 356.6,117.8 356.9,117 357.1,116.5 357.4,116.1 357.6,115.8 357.9,115.8 358.1,115.9 358.4,116.2 358.6,116.7 358.9,117.3 359.1,118.1 359.4,119 359.6,120 359.9,121.1 360.1,122.2 360.4,123.5 360.6,124.7 360.9,126 361.1,127.2 361.4,128.5 361.6,129.7 361.9,130.8 362.1,132 362.4,133 362.6,134 362.9,134.9 363.1,135.7 363.4,136.5 363.6,137.2 363.9,137.8 364.1,138.4 364.4,138.9 364.6,139.4 364.9,139.8 365.1,140.1 365.4,140.4 365.6,140.7 365.9,140.8 366.1,141 366.4,141.1 366.6,141.1 366.9,141 367.1,140.9 367.4,140.7 367.6,140.4 367.9,140 368.1,139.5 368.4,138.9 368.6,138.2 368.9,137.4 369.1,136.5 369.4,135.5 369.6,134.4 369.9,133.2 370.1,131.9 370.4,130.5 370.6,129.1 370.9,127.7 371.1,126.3 371.4,124.9 371.6,123.5 371.9,122.1 372.1,120.9 372.4,119.7 372.6,118.7 372.9,117.8 373.1,117 373.4,116.4 373.6,116 373.9,115.8 374.1,115.7 374.4,115.8 374.6,116.1 374.9,116.5 375.1,117.2 375.4,117.9 375.6,118.8 375.9,119.8 376.1,120.9 376.4,122 376.6,123.2 376.9,124.5 377.1,125.7 377.4,127 377.6,128.2 377.9,129.4 378.1,130.6 378.4,131.7 378.6,132.8 378.9,133.8 379.1,134.7 379.4,135.5 379.6,136.3 379.9,137 380.1,137.7 380.4,138.2 380.6,138.8 380.9,139.2 381.1,139.6 381.4,140 381.6,140.3 381.9,140.5 382.1,140.7 382.4,140.9 382.6,141 382.9,141 383.1,141 383.4,140.8 383.6,140.6 383.9,140.4 384.1,140 384.4,139.5 384.6,138.9 384.9,138.2 385.1,137.4 385.4,136.5 385.6,135.5 385.9,134.4 386.1,133.2 386.4,131.9 386.6,130.6 386.9,129.2 387.1,127.8 387.4,126.4 387.6,124.9 387.9,123.5 388.1,122.2 388.4,120.9 388.6,119.8 388.9,118.7 389.1,117.8 389.4,117 389.6,116.4 389.9,116 390.1,115.7 390.4,115.6 390.6,115.7 390.9,116 391.1,116.4 391.4,117 391.6,117.7 391.9,118.6 392.1,119.6 392.4,120.6 392.6,121.8 392.9,123 393.1,124.2 393.4,125.5 393.6,126.7 393.9,128 394.1,129.2 394.4,130.4 394.6,131.5 394.9,132.6 395.1,133.6 395.4,134.5 395.6,135.4 395.9,136.1 396.1,136.9 396.4,137.5 396.6,138.1 396.9,138.6 397.1,139.1 397.4,139.5 397.6,139.8 397.9,140.2 398.1,140.4 398.4,140.6 398.6,140.8 398.9,140.9 399.1,140.9 399.4,140.9 399.6,140.8 399.9,140.6 400.1,140.3 400.4,139.9 400.6,139.5 400.9,138.9 401.1,138.2 401.4,137.4 401.6,136.6 401.9,135.6 402.1,134.5 402.4,133.3 402.6,132 402.9,130.7 403.1,129.3 403.4,127.9 403.6,126.4 403.9,125 404.1,123.6 404.4,122.3 404.6,121 404.9,119.8 405.1,118.7 405.4,117.8 405.6,117 405.9,116.4 406.1,115.9 406.4,115.6 406.6,115.5 406.9,115.6 407.1,115.8 407.4,116.2 407.6,116.8 407.9,117.5 408.1,118.4 408.4,119.3 408.6,120.4 408.9,121.5 409.1,122.7 409.4,124 409.6,125.2 409.9,126.5 410.1,127.8 410.4,129 410.6,130.2 410.9,131.3 411.1,132.4 411.4,133.4 411.6,134.3 411.9,135.2 412.1,136 412.4,136.7 412.6,137.3 412.9,137.9 413.1,138.5 413.4,138.9 413.6,139.3 413.9,139.7 414.1,140 414.4,140.3 414.6,140.5 414.9,140.7 415.1,140.8 415.4,140.8 415.6,140.8 415.9,140.7 416.1,140.5 416.4,140.3 416.6,139.9 416.9,139.4 417.1,138.9 417.4,138.2 417.6,137.5 417.9,136.6 418.1,135.6 418.4,134.5 418.6,133.3 418.9,132.1 419.1,130.7 419.4,129.4 419.6,127.9 419.9,126.5 420.1,125.1 420.4,123.7 420.6,122.3 420.9,121.1 421.1,119.9 421.4,118.8 421.6,117.8 421.9,117 422.1,116.4 422.4,115.9 422.6,115.6 422.9,115.4 423.1,115.5 423.4,115.7 423.6,116.1 423.9,116.6 424.1,117.3 424.4,118.2 424.6,119.1 424.9,120.2 425.1,121.3 425.4,122.5 425.6,123.7 425.9,125 426.1,126.3 426.4,127.5 426.6,128.7 426.9,129.9 427.1,131.1 427.4,132.1 427.6,133.1 427.9,134.1 428.1,135 428.4,135.8 428.6,136.5 428.9,137.2 429.1,137.8 429.4,138.3 429.6,138.8 429.9,139.2 430.1,139.6 430.4,139.9 430.6,140.2 430.9,140.4 431.1,140.6 431.4,140.7 431.6,140.7 431.9,140.7 432.1,140.6 432.4,140.4 432.6,140.2 432.9,139.9 433.1,139.4 433.4,138.9 433.6,138.2 433.9,137.5 434.1,136.6 434.4,135.6 434.6,134.5 434.9,133.4 435.1,132.1 435.4,130.8 435.6,129.4 435.9,128 436.1,126.6 436.4,125.2 436.6,123.8 436.9,122.4 437.1,121.1 437.4,119.9 437.6,118.8 437.9,117.8 438.1,117 438.4,116.3 438.6,115.8 438.9,115.5 439.1,115.3 439.4,115.4 439.6,115.6 439.9,115.9 440.1,116.5 440.4,117.2 440.6,118 440.9,118.9 441.1,120 441.4,121.1 441.6,122.3 441.9,123.5 442.1,124.8 442.4,126 442.6,127.3 442.9,128.5 443.1,129.7 443.4,130.8 443.6,131.9 443.9,132.9 444.1,133.9 444.4,134.8 444.6,135.6 444.9,136.3 445.1,137 445.4,137.6 445.6,138.1 445.9,138.6 446.1,139.1 446.4,139.4 446.6,139.8 446.9,140 447.1,140.3 447.4,140.4 447.6,140.6 447.9,140.6 448.1,140.6 448.4,140.5 448.6,140.4 448.9,140.1 449.1,139.8 449.4,139.4 449.6,138.8 449.9,138.2 450.1,137.5 450.4,136.6 450.6,135.6 450.9,134.6 451.1,133.4 451.4,132.2 451.6,130.9 451.9,129.5 452.1,128.1 452.4,126.7 452.6,125.2 452.9,123.8 453.1,122.5 453.4,121.2 453.6,119.9 453.9,118.8 454.1,117.8 454.4,117 454.6,116.3 454.9,115.8 455.1,115.4 455.4,115.3 455.6,115.3 455.9,115.4 456.1,115.8 456.4,116.3 456.6,117 456.9,117.8 457.1,118.7 457.4,119.7 457.6,120.8 457.9,122 458.1,123.3 458.4,124.5 458.6,125.8 458.9,127 459.1,128.3 459.4,129.5 459.6,130.6 459.9,131.7 460.1,132.7 460.4,133.7 460.6,134.6 460.9,135.4 461.1,136.1 461.4,136.8 461.6,137.4 461.9,138 462.1,138.5 462.4,138.9 462.6,139.3 462.9,139.6 463.1,139.9 463.4,140.2 463.6,140.3 463.9,140.5 464.1,140.5 464.4,140.5 464.6,140.5 464.9,140.3 465.1,140.1 465.4,139.8 465.6,139.3 465.9,138.8 466.1,138.2 466.4,137.5 466.6,136.6 466.9,135.7 467.1,134.6 467.4,133.5 467.6,132.3 467.9,130.9 468.1,129.6 468.4,128.2 468.6,126.8 468.9,125.3 469.1,123.9 469.4,122.5 469.6,121.2 469.9,120 470.1,118.9 470.4,117.9 470.6,117 470.9,116.3 471.1,115.7 471.4,115.4 471.6,115.2 471.9,115.2 472.1,115.3 472.4,115.6 472.6,116.1 472.9,116.8 473.1,117.6 473.4,118.5 473.6,119.5 473.9,120.6 474.1,121.8 474.4,123 474.6,124.3 474.9,125.5 475.1,126.8 475.4,128 475.6,129.2 475.9,130.4 476.1,131.5 476.4,132.5 476.6,133.5 476.9,134.4 477.1,135.2 477.4,136 477.6,136.7 477.9,137.3 478.1,137.8 478.4,138.3 478.6,138.8 478.9,139.2 479.1,139.5 479.4,139.8 479.6,140 479.9,140.2 480.1,140.4 480.4,140.4 480.6,140.4 480.9,140.4 481.1,140.2 481.4,140 481.6,139.7 481.9,139.3 482.1,138.8 482.4,138.2 482.6,137.5 482.9,136.6 483.1,135.7 483.4,134.7 483.6,133.5 483.9,132.3 484.1,131 484.4,129.7 484.6,128.3 484.9,126.8 485.1,125.4 485.4,124 485.6,122.6 485.9,121.3 486.1,120 486.4,118.9 486.6,117.9 486.9,117 487.1,116.3 487.4,115.7 487.6,115.3 487.9,115.1 488.1,115.1 488.4,115.2 488.6,115.5 488.9,116 489.1,116.6 489.4,117.4 489.6,118.3 489.9,119.3 490.1,120.4 490.4,121.6 490.6,122.8 490.9,124 491.1,125.3 491.4,126.5 491.6,127.8 491.9,129 492.1,130.1 492.4,131.3 492.6,132.3 492.9,133.3 493.1,134.2 493.4,135 493.6,135.8 493.9,136.5 494.1,137.1 494.4,137.7 494.6,138.2 494.9,138.6 495.1,139 495.4,139.4 495.6,139.7 495.9,139.9 496.1,140.1 496.4,140.2 496.6,140.3 496.9,140.3 497.1,140.3 497.4,140.2 497.6,140 497.9,139.7 498.1,139.3 498.4,138.8 498.6,138.2 498.9,137.5 499.1,136.6 499.4,135.7 499.6,134.7 499.9,133.6 500.1,132.4 500.4,131.1 500.6,129.7 500.9,128.3 501.1,126.9 501.4,125.5 501.6,124.1 501.9,122.7 502.1,121.3 502.4,120.1 502.6,118.9 502.9,117.9 503.1,117 503.4,116.3 503.6,115.7 503.9,115.3 504.1,115 504.4,115 504.6,115.1 504.9,115.4 505.1,115.8 505.4,116.4 505.6,117.2 505.9,118.1 506.1,119.1 506.4,120.2 506.6,121.3 506.9,122.5 507.1,123.8 507.4,125 507.6,126.3 507.9,127.5 508.1,128.7 508.4,129.9 508.6,131 508.9,132.1 509.1,133.1 509.4,134 509.6,134.8 509.9,135.6 510.1,136.3 510.4,136.9 510.6,137.5 510.9,138 511.1,138.5 511.4,138.9 511.6,139.2 511.9,139.5 512.1,139.8 512.4,140 512.6,140.1 512.9,140.2 513.1,140.3 513.4,140.2 513.6,140.1 513.9,139.9 514.1,139.6 514.4,139.2 514.6,138.7 514.9,138.2 515.1,137.5 515.4,136.7 515.6,135.7 515.9,134.7 516.1,133.6 516.4,132.4 516.6,131.1 516.9,129.8 517.1,128.4 517.4,127 517.6,125.6 517.9,124.1 518.1,122.7 518.4,121.4 518.6,120.1 518.9,119 519.1,117.9 519.4,117 519.6,116.3 519.9,115.6 520.1,115.2 520.4,114.9" fill="none" stroke="#a06ad8" stroke-width="1.3" stroke-dasharray="1.3 2.58" />
<polyline points="345.4,129.9 345.6,131.1 345.9,132.2 346.1,133.2 346.4,134.2 346.6,135.1 346.9,135.9 347.1,136.7 347.4,137.4 347.6,138 347.9,138.6 348.1,139.1 348.4,139.5 348.6,139.9 348.9,140.2 349.1,140.5 349.4,140.8 349.6,141 349.9,141.1 350.1,141.2 350.4,141.2 350.6,141.1 350.9,141 351.1,140.8 351.4,140.5 351.6,140.1 351.9,139.6 352.1,139 352.4,138.2 352.6,137.4 352.9,136.5 353.1,135.5 353.4,134.3 353.6,133.1 353.9,131.8 354.1,130.5 354.4,129.1 354.6,127.6 354.9,126.2 355.1,124.8 355.4,123.4 355.6,122.1 355.9,120.8 356.1,119.7 356.4,118.7 356.6,117.8 356.9,117 357.1,116.5 357.4,116.1 357.6,115.8 357.9,115.8 358.1,115.9 358.4,116.2 358.6,116.7 358.9,117.3 359.1,118.1 359.4,119 359.6,120 359.9,121.1 360.1,122.2 360.4,123.5 360.6,124.7 360.9,126 361.1,127.2 361.4,128.5 361.6,129.7 361.9,130.8 362.1,132 362.4,133 362.6,134 362.9,134.9 363.1,135.7 363.4,136.5 363.6,137.2 363.9,137.8 364.1,138.4 364.4,138.9 364.6,139.4 364.9,139.8 365.1,140.1 365.4,140.4 365.6,140.7 365.9,140.8 366.1,141 366.4,141.1 366.6,141.1 366.9,141 367.1,140.9 367.4,140.7 367.6,140.4 367.9,140 368.1,139.5 368.4,138.9 368.6,138.2 368.9,137.4 369.1,136.5 369.4,135.5 369.6,134.4 369.9,133.2 370.1,131.9 370.4,130.5 370.6,129.1 370.9,127.7 371.1,126.3 371.4,124.9 371.6,123.5 371.9,122.1 372.1,120.9 372.4,119.7 372.6,118.7 372.9,117.8 373.1,117 373.4,116.4 373.6,116 373.9,115.8 374.1,115.7 374.4,115.8 374.6,116.1 374.9,116.5 375.1,117.2 375.4,117.9 375.6,118.8 375.9,119.8 376.1,120.9 376.4,122 376.6,123.2 376.9,124.5 377.1,125.7 377.4,127 377.6,128.2 377.9,129.4 378.1,130.6 378.4,131.7 378.6,132.8 378.9,133.8 379.1,134.7 379.4,135.5 379.6,136.3 379.9,137 380.1,137.7 380.4,138.2 380.6,138.8 380.9,139.2 381.1,139.6 381.4,140 381.6,140.3 381.9,140.5 382.1,140.7 382.4,140.9 382.6,141 382.9,141 383.1,141 383.4,140.8 383.6,140.6 383.9,140.4 384.1,140 384.4,139.5 384.6,138.9 384.9,138.2 385.1,137.4 385.4,136.5 385.6,135.5 385.9,134.4 386.1,133.2 386.4,131.9 386.6,130.6 386.9,129.2 387.1,127.8 387.4,126.4 387.6,124.9 387.9,123.5 388.1,122.2 388.4,120.9 388.6,119.8 388.9,118.7 389.1,117.8 389.4,117 389.6,116.4 389.9,116 390.1,115.7 390.4,115.6 390.6,115.7 390.9,116 391.1,116.4 391.4,117 391.6,117.7 391.9,118.6 392.1,119.6 392.4,120.6 392.6,121.8 392.9,123 393.1,124.2 393.4,125.5 393.6,126.7 393.9,128 394.1,129.2 394.4,130.4 394.6,131.5 394.9,132.6 395.1,133.6 395.4,134.5 395.6,135.4 395.9,136.1 396.1,136.9 396.4,137.5 396.6,138.1 396.9,138.6 397.1,139.1 397.4,139.5 397.6,139.8 397.9,140.2 398.1,140.4 398.4,140.6 398.6,140.8 398.9,140.9 399.1,140.9 399.4,140.9 399.6,140.8 399.9,140.6 400.1,140.3 400.4,139.9 400.6,139.5 400.9,138.9 401.1,138.2 401.4,137.4 401.6,136.6 401.9,135.6 402.1,134.5 402.4,133.3 402.6,132 402.9,130.7 403.1,129.3 403.4,127.9 403.6,126.4 403.9,125 404.1,123.6 404.4,122.3 404.6,121 404.9,119.8 405.1,118.7 405.4,117.8 405.6,117 405.9,116.4 406.1,115.9 406.4,115.6 406.6,115.5 406.9,115.6 407.1,115.8 407.4,116.2 407.6,116.8 407.9,117.5 408.1,118.4 408.4,119.3 408.6,120.4 408.9,121.5 409.1,122.7 409.4,124 409.6,125.2 409.9,126.5 410.1,127.8 410.4,129 410.6,130.2 410.9,131.3 411.1,132.4 411.4,133.4 411.6,134.3 411.9,135.2 412.1,136 412.4,136.7 412.6,137.3 412.9,137.9 413.1,138.5 413.4,138.9 413.6,139.3 413.9,139.7 414.1,140 414.4,140.3 414.6,140.5 414.9,140.7 415.1,140.8 415.4,140.8 415.6,140.8 415.9,140.7 416.1,140.5 416.4,140.3 416.6,139.9 416.9,139.4 417.1,138.9 417.4,138.2 417.6,137.5 417.9,136.6 418.1,135.6 418.4,134.5 418.6,133.3 418.9,132.1 419.1,130.7 419.4,129.4 419.6,127.9 419.9,126.5 420.1,125.1 420.4,123.7 420.6,122.3 420.9,121.1 421.1,119.9 421.4,118.8 421.6,117.8 421.9,117 422.1,116.4 422.4,115.9 422.6,115.6 422.9,115.4 423.1,115.5 423.4,115.7 423.6,116.1 423.9,116.6 424.1,117.3 424.4,118.2 424.6,119.1 424.9,120.2 425.1,121.3 425.4,122.5 425.6,123.7 425.9,125 426.1,126.3 426.4,127.5 426.6,128.7 426.9,129.9 427.1,131.1 427.4,132.1 427.6,133.1 427.9,134.1 428.1,135 428.4,135.8 428.6,136.5 428.9,137.2 429.1,137.8 429.4,138.3 429.6,138.8 429.9,139.2 430.1,139.6 430.4,139.9 430.6,140.2 430.9,140.4 431.1,140.6 431.4,140.7 431.6,140.7 431.9,140.7 432.1,140.6 432.4,140.4 432.6,140.2 432.9,139.9 433.1,139.4 433.4,138.9 433.6,138.2 433.9,137.5 434.1,136.6 434.4,135.6 434.6,134.5 434.9,133.4 435.1,132.1 435.4,130.8 435.6,129.4 435.9,128 436.1,126.6 436.4,125.2 436.6,123.8 436.9,122.4 437.1,121.1 437.4,119.9 437.6,118.8 437.9,117.8 438.1,117 438.4,116.3 438.6,115.8 438.9,115.5 439.1,115.3 439.4,115.4 439.6,115.6 439.9,115.9 440.1,116.5 440.4,117.2 440.6,118 440.9,118.9 441.1,120 441.4,121.1 441.6,122.3 441.9,123.5 442.1,124.8 442.4,126 442.6,127.3 442.9,128.5 443.1,129.7 443.4,130.8 443.6,131.9 443.9,132.9 444.1,133.9 444.4,134.8 444.6,135.6 444.9,136.3 445.1,137 445.4,137.6 445.6,138.1 445.9,138.6 446.1,139.1 446.4,139.4 446.6,139.8 446.9,140 447.1,140.3 447.4,140.4 447.6,140.6 447.9,140.6 448.1,140.6 448.4,140.5 448.6,140.4 448.9,140.1 449.1,139.8 449.4,139.4 449.6,138.8 449.9,138.2 450.1,137.5 450.4,136.6 450.6,135.6 450.9,134.6 451.1,133.4 451.4,132.2 451.6,130.9 451.9,129.5 452.1,128.1 452.4,126.7 452.6,125.2 452.9,123.8 453.1,122.5 453.4,121.2 453.6,119.9 453.9,118.8 454.1,117.8 454.4,117 454.6,116.3 454.9,115.8 455.1,115.4 455.4,115.3 455.6,115.3 455.9,115.4 456.1,115.8 456.4,116.3 456.6,117 456.9,117.8 457.1,118.7 457.4,119.7 457.6,120.8 457.9,122 458.1,123.3 458.4,124.5 458.6,125.8 458.9,127 459.1,128.3 459.4,129.5 459.6,130.6 459.9,131.7 460.1,132.7 460.4,133.7 460.6,134.6 460.9,135.4 461.1,136.1 461.4,136.8 461.6,137.4 461.9,138 462.1,138.5 462.4,138.9 462.6,139.3 462.9,139.6 463.1,139.9 463.4,140.2 463.6,140.3 463.9,140.5 464.1,140.5 464.4,140.5 464.6,140.5 464.9,140.3 465.1,140.1 465.4,139.8 465.6,139.3 465.9,138.8 466.1,138.2 466.4,137.5 466.6,136.6 466.9,135.7 467.1,134.6 467.4,133.5 467.6,132.3 467.9,130.9 468.1,129.6 468.4,128.2 468.6,126.8 468.9,125.3 469.1,123.9 469.4,122.5 469.6,121.2 469.9,120 470.1,118.9 470.4,117.9 470.6,117 470.9,116.3 471.1,115.7 471.4,115.4 471.6,115.2 471.9,115.2 472.1,115.3 472.4,115.6 472.6,116.1 472.9,116.8 473.1,117.6 473.4,118.5 473.6,119.5 473.9,120.6 474.1,121.8 474.4,123 474.6,124.3 474.9,125.5 475.1,126.8 475.4,128 475.6,129.2 475.9,130.4 476.1,131.5 476.4,132.5 476.6,133.5 476.9,134.4 477.1,135.2 477.4,136 477.6,136.7 477.9,137.3 478.1,137.8 478.4,138.3 478.6,138.8 478.9,139.2 479.1,139.5 479.4,139.8 479.6,140 479.9,140.2 480.1,140.4 480.4,140.4 480.6,140.4 480.9,140.4 481.1,140.2 481.4,140 481.6,139.7 481.9,139.3 482.1,138.8 482.4,138.2 482.6,137.5 482.9,136.6 483.1,135.7 483.4,134.7 483.6,133.5 483.9,132.3 484.1,131 484.4,129.7 484.6,128.3 484.9,126.8 485.1,125.4 485.4,124 485.6,122.6 485.9,121.3 486.1,120 486.4,118.9 486.6,117.9 486.9,117 487.1,116.3 487.4,115.7 487.6,115.3 487.9,115.1 488.1,115.1 488.4,115.2 488.6,115.5 488.9,116 489.1,116.6 489.4,117.4 489.6,118.3 489.9,119.3 490.1,120.4 490.4,121.6 490.6,122.8 490.9,124 491.1,125.3 491.4,126.5 491.6,127.8 491.9,129 492.1,130.1 492.4,131.3 492.6,132.3 492.9,133.3 493.1,134.2 493.4,135 493.6,135.8 493.9,136.5 494.1,137.1 494.4,137.7 494.6,138.2 494.9,138.6 495.1,139 495.4,139.4 495.6,139.7 495.9,139.9 496.1,140.1 496.4,140.2 496.6,140.3 496.9,140.3 497.1,140.3 497.4,140.2 497.6,140 497.9,139.7 498.1,139.3 498.4,138.8 498.6,138.2 498.9,137.5 499.1,136.6 499.4,135.7 499.6,134.7 499.9,133.6 500.1,132.4 500.4,131.1 500.6,129.7 500.9,128.3 501.1,126.9 501.4,125.5 501.6,124.1 501.9,122.7 502.1,121.3 502.4,120.1 502.6,118.9 502.9,117.9 503.1,117 503.4,116.3 503.6,115.7 503.9,115.3 504.1,115 504.4,115 504.6,115.1 504.9,115.4 505.1,115.8 505.4,116.4 505.6,117.2 505.9,118.1 506.1,119.1 506.4,120.2 506.6,121.3 506.9,122.5 507.1,123.8 507.4,125 507.6,126.3 507.9,127.5 508.1,128.7 508.4,129.9 508.6,131 508.9,132.1 509.1,133.1 509.4,134 509.6,134.8 509.9,135.6 510.1,136.3 510.4,136.9 510.6,137.5 510.9,138 511.1,138.5 511.4,138.9 511.6,139.2 511.9,139.5 512.1,139.8 512.4,140 512.6,140.1 512.9,140.2 513.1,140.3 513.4,140.2 513.6,140.1 513.9,139.9 514.1,139.6 514.4,139.2 514.6,138.7 514.9,138.2 515.1,137.5 515.4,136.7 515.6,135.7 515.9,134.7 516.1,133.6 516.4,132.4 516.6,131.1 516.9,129.8 517.1,128.4 517.4,127 517.6,125.6 517.9,124.1 518.1,122.7 518.4,121.4 518.6,120.1 518.9,119 519.1,117.9 519.4,117 519.6,116.3 519.9,115.6 520.1,115.2 520.4,114.9" fill="none" stroke="#10a552" stroke-width="1.2" stroke-dasharray="7.8 3.1 1.5 2.9" />
</g>
<rect x="345.4" y="84.7" width="175.1" height="65.3" fill="none" stroke="#3a3a3a" stroke-width="1.2"/>
<path d="M345.4 150v-3.2 M345.4 84.7v3.2 M389.2 150v-3.2 M389.2 84.7v3.2 M432.9 150v-3.2 M432.9 84.7v3.2 M476.7 150v-3.2 M476.7 84.7v3.2 M520.5 150v-3.2 M520.5 84.7v3.2 M345.4 94.8h3.2 M520.5 94.8h-3.2 M345.4 118.3h3.2 M520.5 118.3h-3.2 M345.4 141.7h3.2 M520.5 141.7h-3.2 " stroke="#3a3a3a" stroke-width="1.2" fill="none"/>
<text transform="translate(342 99.6)" font-family='"Liberation Sans", Arial, Helvetica, sans-serif' font-size="12.6" text-anchor="end" fill="#262626" stroke="#262626" stroke-width="0.25" >1800</text>
<text transform="translate(342 123.1)" font-family='"Liberation Sans", Arial, Helvetica, sans-serif' font-size="12.6" text-anchor="end" fill="#262626" stroke="#262626" stroke-width="0.25" >1400</text>
<text transform="translate(342 146.5)" font-family='"Liberation Sans", Arial, Helvetica, sans-serif' font-size="12.6" text-anchor="end" fill="#262626" stroke="#262626" stroke-width="0.25" >1000</text>
<text transform="translate(345.4 166.7)" font-family='"Liberation Sans", Arial, Helvetica, sans-serif' font-size="12.6" text-anchor="middle" fill="#262626" stroke="#262626" stroke-width="0.25" >4.8</text>
<text transform="translate(389.17 166.7)" font-family='"Liberation Sans", Arial, Helvetica, sans-serif' font-size="12.6" text-anchor="middle" fill="#262626" stroke="#262626" stroke-width="0.25" >4.85</text>
<text transform="translate(432.95 166.7)" font-family='"Liberation Sans", Arial, Helvetica, sans-serif' font-size="12.6" text-anchor="middle" fill="#262626" stroke="#262626" stroke-width="0.25" >4.9</text>
<text transform="translate(476.73 166.7)" font-family='"Liberation Sans", Arial, Helvetica, sans-serif' font-size="12.6" text-anchor="middle" fill="#262626" stroke="#262626" stroke-width="0.25" >4.95</text>
<text transform="translate(520.1 166.7)" font-family='"Liberation Sans", Arial, Helvetica, sans-serif' font-size="12.6" text-anchor="middle" fill="#262626" stroke="#262626" stroke-width="0.25" >5</text>
<text x="272.9" y="216.1" font-family='"Liberation Serif", "Times New Roman", serif' font-size="15.6" text-anchor="middle" fill="#111" stroke="#111" stroke-width="0.2">(<tspan font-weight="bold">a</tspan>)</text>
<g clip-path="url(#cb)">
<polygon points="58.5,375.6 59,375.6 59.5,375.6 60,375.6 60.5,375.6 61,375.6 61.5,375.6 62,375.6 62.5,375.6 63,375.6 63.5,375.6 64,375.6 64.5,375.3 65,374.3 65.5,372.9 66,371.8 66.5,371.2 67,370.8 67.5,370.4 68,370.1 68.5,369.8 69,369.6 69.5,369.4 70,369.2 70.5,369.1 71,368.9 71.5,368.8 72,368.7 72.5,368.5 73,368.2 73.5,368 74,367.8 74.5,367.5 75,367.3 75.5,367.1 76,366.9 76.5,366.7 77,366.5 77.5,366.3 78,366.2 78.5,366 79,365.8 79.5,365.6 80,365.5 80.5,365.3 81,365.1 81.5,365 82,364.8 82.5,364.6 83,364.4 83.5,364.3 84,364.1 84.5,363.9 85,363.7 85.5,363.6 86,363.4 86.5,363.2 87,363.1 87.5,362.9 88,362.7 88.5,362.6 89,362.4 89.5,362.2 90,362.1 90.5,361.9 91,361.7 91.5,361.6 92,361.4 92.5,361.2 93,361.1 93.5,360.9 94,360.7 94.5,360.6 95,360.4 95.5,360.2 96,360 96.5,359.9 97,359.7 97.5,359.5 98,359.3 98.5,359.1 99,358.9 99.5,358.8 100,358.6 100.5,358.4 101,358.2 101.5,358 102,357.8 102.5,357.6 103,357.4 103.5,357.2 104,357 104.5,356.8 105,356.6 105.5,356.4 106,356.2 106.5,355.9 107,355.7 107.5,355.5 108,355.3 108.5,355.1 109,354.9 109.5,354.7 110,354.5 110.5,354.3 111,354 111.5,353.8 112,353.6 112.5,353.4 113,353.2 113.5,353 114,352.8 114.5,352.5 115,352.3 115.5,352.1 116,351.9 116.5,351.7 117,351.5 117.5,351.2 118,351 118.5,350.8 119,350.6 119.5,350.4 120,350.1 120.5,349.9 121,349.7 121.5,349.5 122,349.2 122.5,349 123,348.8 123.5,348.6 124,348.3 124.5,348.1 125,347.9 125.5,347.7 126,347.5 126.5,347.2 127,347 127.5,346.8 128,346.6 128.5,346.3 129,346.1 129.5,345.9 130,345.7 130.5,345.5 131,345.2 131.5,345 132,344.8 132.5,344.6 133,344.3 133.5,344.1 134,343.9 134.5,343.7 135,343.5 135.5,343.3 136,343.1 136.5,342.9 137,342.7 137.5,342.4 138,342.2 138.5,342 139,341.8 139.5,341.6 140,341.4 140.5,341.2 141,341 141.5,340.8 142,340.6 142.5,340.4 143,340.2 143.5,340 144,339.8 144.5,339.6 145,339.4 145.5,339.2 146,339 146.5,338.8 147,338.6 147.5,338.4 148,338.2 148.5,338 149,337.8 149.5,337.6 150,337.4 150.5,337.2 151,337 151.5,336.8 152,336.6 152.5,336.4 153,336.2 153.5,336 154,335.8 154.5,335.6 155,335.4 155.5,335.2 156,335 156.5,334.8 157,334.6 157.5,334.4 158,334.2 158.5,334 159,333.8 159.5,333.6 160,333.4 160.5,333.2 161,333 161.5,332.8 162,332.6 162.5,332.4 163,332.2 163.5,332 164,331.8 164.5,331.6 165,331.4 165.5,331.2 166,331 166.5,330.8 167,330.6 167.5,330.4 168,330.2 168.5,330 169,329.8 169.5,329.5 170,329.3 170.5,329.1 171,328.9 171.5,328.7 172,328.5 172.5,328.3 173,328 173.5,327.8 174,327.6 174.5,327.3 175,327.1 175.5,326.9 176,326.6 176.5,326.4 177,326.1 177.5,325.8 178,325.6 178.5,325.3 179,325 179.5,324.7 180,324.4 180.5,324 181,323.7 181.5,323.4 182,323 182.5,322.7 183,322.3 183.5,322 184,321.6 184.5,321.2 185,320.9 185.5,320.5 186,320.1 186.5,319.8 187,319.4 187.5,319.1 188,318.7 188.5,318.4 189,318 189.5,317.6 190,317.3 190.5,316.9 191,316.5 191.5,316.1 192,315.7 192.5,315.2 193,314.8 193.5,314.3 194,313.7 194.5,313.2 195,312.6 195.5,312 196,311.5 196.5,310.9 197,310.4 197.5,309.9 198,309.5 198.5,309 199,308.6 199.5,308.1 200,307.7 200.5,307.3 201,306.9 201.5,306.6 202,306.2 202.5,305.8 203,305.5 203.5,305.2 204,304.9 204.5,304.6 205,304.3 205.5,304 206,303.7 206.5,303.5 207,303.2 207.5,302.9 208,302.6 208.5,302.4 209,302.2 209.5,302 210,301.8 210.5,301.7 211,301.6 211.5,301.5 212,301.5 212.5,301.5 213,301.5 213.5,301.5 214,301.5 214.5,301.5 215,301.5 215.5,301.5 216,301.5 216.5,301.5 217,301.7 217.5,301.8 218,302.1 218.5,302.4 219,302.7 219.5,303.1 220,303.4 220.5,303.7 221,304 221.5,304.3 222,304.7 222.5,305.1 223,305.5 223.5,305.8 224,306.2 224.5,306.5 225,306.7 225.5,306.9 226,307 226.5,307.1 227,307.1 227.5,307.1 228,307.1 228.5,307.1 229,307 229.5,307 230,307 230.5,307 231,306.9 231.5,306.9 232,306.9 232.5,306.9 233,306.8 233.5,306.8 234,306.8 234.5,306.7 235,306.7 235.5,306.6 236,306.5 236.5,306.5 237,306.4 237.5,306.3 238,306.2 238.5,306.1 239,306 239.5,305.9 240,305.8 240.5,305.7 241,305.6 241.5,305.4 242,305.3 242.5,305.2 243,305.1 243.5,304.9 244,304.8 244.5,304.7 245,304.5 245.5,304.4 246,304.2 246.5,304.1 247,304 247.5,303.8 248,303.7 248.5,303.6 249,303.4 249.5,303.3 250,303.1 250.5,302.9 251,302.8 251.5,302.6 252,302.4 252.5,302.3 253,302.1 253.5,301.9 254,301.7 254.5,301.6 255,301.4 255.5,301.2 256,301.1 256.5,300.9 257,300.8 257.5,300.6 258,300.4 258.5,300.3 259,300.1 259.5,300 260,299.8 260.5,299.6 261,299.5 261.5,299.3 262,299.2 262.5,299 263,298.9 263.5,298.7 264,298.5 264.5,298.4 265,298.2 265.5,298.1 266,297.9 266.5,297.7 267,297.6 267.5,297.4 268,297.3 268.5,297.1 269,297 269.5,296.8 270,296.6 270.5,296.5 271,296.3 271.5,296.2 272,296 272.5,295.9 273,295.7 273.5,295.5 274,295.4 274.5,295.2 275,295.1 275.5,294.9 276,294.8 276.5,294.6 277,294.4 277.5,294.3 278,294.1 278.5,294 279,293.8 279.5,293.7 280,293.5 280.5,293.4 281,293.2 281.5,293 282,292.9 282.5,292.7 283,292.6 283.5,292.4 284,292.3 284.5,292.1 285,292 285.5,291.8 286,291.6 286.5,291.5 287,291.3 287.5,291.2 288,291 288.5,290.9 289,290.7 289.5,290.6 290,290.4 290.5,290.2 291,290.1 291.5,289.9 292,289.8 292.5,289.6 293,289.5 293.5,289.3 294,289.2 294.5,289 295,288.9 295.5,288.7 296,288.6 296.5,288.4 297,288.3 297.5,288.1 298,288 298.5,287.8 299,287.7 299.5,287.5 300,287.4 300.5,287.2 301,287.1 301.5,286.9 302,286.8 302.5,286.6 303,286.5 303.5,286.3 304,286.2 304.5,286 305,285.9 305.5,285.7 306,285.6 306.5,285.4 307,285.3 307.5,285.1 308,285 308.5,284.8 309,284.7 309.5,284.5 310,284.4 310.5,284.3 311,284.1 311.5,284 312,283.8 312.5,283.7 313,283.5 313.5,283.4 314,283.2 314.5,283.1 315,282.9 315.5,282.8 316,282.7 316.5,282.5 317,282.4 317.5,282.2 318,282.1 318.5,281.9 319,281.8 319.5,281.6 320,281.5 320.5,281.4 321,281.2 321.5,281.1 322,280.9 322.5,280.8 323,280.6 323.5,280.5 324,280.3 324.5,280.2 325,280.1 325.5,279.9 326,279.8 326.5,279.6 327,279.5 327.5,279.4 328,279.2 328.5,279.1 329,278.9 329.5,278.8 330,278.7 330.5,278.5 331,278.4 331.5,278.2 332,278.1 332.5,278 333,277.8 333.5,277.7 334,277.6 334.5,277.4 335,277.3 335.5,277.2 336,277 336.5,276.9 337,276.8 337.5,276.6 338,276.5 338.5,276.4 339,276.3 339.5,276.1 340,276 340.5,275.9 341,275.8 341.5,275.6 342,275.5 342.5,275.4 343,275.3 343.5,275.2 344,275 344.5,274.9 345,274.8 345.5,274.7 346,274.5 346.5,274.4 347,274.3 347.5,274.1 348,274 348.5,273.9 349,273.8 349.5,273.6 350,273.5 350.5,273.4 351,273.2 351.5,273.1 352,273 352.5,272.8 353,272.7 353.5,272.6 354,272.4 354.5,272.3 355,272.2 355.5,272 356,271.9 356.5,271.8 357,271.6 357.5,271.5 358,271.4 358.5,271.2 359,271.1 359.5,271 360,270.8 360.5,270.7 361,270.6 361.5,270.4 362,270.3 362.5,270.2 363,270 363.5,269.9 364,269.8 364.5,269.6 365,269.5 365.5,269.4 366,269.2 366.5,269.1 367,269 367.5,268.8 368,268.7 368.5,268.6 369,268.4 369.5,268.3 370,268.2 370.5,268 371,267.9 371.5,267.8 372,267.6 372.5,267.5 373,267.4 373.5,267.2 374,267.1 374.5,267 375,266.8 375.5,266.7 376,266.6 376.5,266.4 377,266.3 377.5,266.2 378,266 378.5,265.9 379,265.8 379.5,265.6 380,265.5 380.5,265.4 381,265.2 381.5,265.1 382,265 382.5,264.8 383,264.7 383.5,264.6 384,264.4 384.5,264.3 385,264.2 385.5,264 386,263.9 386.5,263.8 387,263.6 387.5,263.5 388,263.4 388.5,263.2 389,263.1 389.5,263 390,262.8 390.5,262.7 391,262.6 391.5,262.4 392,262.3 392.5,262.2 393,262 393.5,261.9 394,261.8 394.5,261.6 395,261.5 395.5,261.4 396,261.2 396.5,261.1 397,260.9 397.5,260.8 398,260.7 398.5,260.5 399,260.4 399.5,260.3 400,260.1 400.5,260 401,259.9 401.5,259.7 402,259.6 402.5,259.5 403,259.3 403.5,259.2 404,259.1 404.5,258.9 405,258.8 405.5,258.7 406,258.5 406.5,258.4 407,258.3 407.5,258.2 408,258 408.5,257.9 409,257.8 409.5,257.6 410,257.5 410.5,257.4 411,257.2 411.5,257.1 412,257 412.5,256.8 413,256.7 413.5,256.6 414,256.5 414.5,256.3 415,256.2 415.5,256.1 416,255.9 416.5,255.8 417,255.7 417.5,255.6 418,255.4 418.5,255.3 419,255.2 419.5,255 420,254.9 420.5,254.8 421,254.7 421.5,254.5 422,254.4 422.5,254.3 423,254.1 423.5,254 424,253.9 424.5,253.8 425,253.6 425.5,253.5 426,253.4 426.5,253.3 427,253.1 427.5,253 428,252.9 428.5,252.8 429,252.6 429.5,252.5 430,252.4 430.5,252.2 431,252.1 431.5,252 432,251.9 432.5,251.7 433,251.6 433.5,251.5 434,251.4 434.5,251.2 435,251.1 435.5,251 436,250.9 436.5,250.7 437,250.6 437.5,250.5 438,250.4 438.5,250.2 439,250.1 439.5,250 440,249.9 440.5,249.8 441,249.6 441.5,249.5 442,249.4 442.5,249.3 443,249.1 443.5,249 444,248.9 444.5,248.8 445,248.7 445.5,248.5 446,248.4 446.5,248.3 447,248.2 447.5,248.1 448,247.9 448.5,247.8 449,247.7 449.5,247.6 450,247.5 450.5,247.3 451,247.2 451.5,247.1 452,247 452.5,246.9 453,246.7 453.5,246.6 454,246.5 454.5,246.4 455,246.3 455.5,246.1 456,246 456.5,245.9 457,245.8 457.5,245.7 458,245.5 458.5,245.4 459,245.3 459.5,245.2 460,245.1 460.5,245 461,244.8 461.5,244.7 462,244.6 462.5,244.5 463,244.4 463.5,244.2 464,244.1 464.5,244 465,243.9 465.5,243.8 466,243.6 466.5,243.5 467,243.4 467.5,243.3 468,243.2 468.5,243.1 469,242.9 469.5,242.8 470,242.7 470.5,242.6 471,242.5 471.5,242.3 472,242.2 472.5,242.1 473,242 473.5,241.8 474,241.7 474.5,241.6 475,241.5 475.5,241.4 476,241.2 476.5,241.1 477,241 477.5,240.9 478,240.7 478.5,240.6 479,240.5 479.5,240.4 480,240.3 480.5,240.1 481,240 481.5,239.9 482,239.8 482.5,239.7 483,239.5 483.5,239.4 484,239.3 484.5,239.2 485,239.1 485.5,239 486,238.8 486.5,238.7 487,238.6 487.5,238.5 488,238.4 488.5,238.3 489,238.1 489.5,238 490,237.9 490.5,237.8 491,237.7 491.5,237.6 492,237.5 492.5,237.3 493,237.2 493.5,237.1 494,237 494.5,236.9 495,236.8 495.5,236.7 496,236.5 496.5,236.4 497,236.3 497.5,236.2 498,236.1 498.5,236 499,235.8 499.5,235.7 500,235.6 500.5,235.5 501,235.4 501.5,235.3 502,235.1 502.5,235 503,234.9 503.5,234.8 504,234.7 504.5,234.6 505,234.4 505.5,234.3 506,234.2 506.5,234.1 507,234 507.5,233.9 508,233.7 508.5,233.6 509,233.5 509.5,233.4 510,233.3 510.5,233.2 511,233 511.5,232.9 512,232.8 512.5,232.7 513,232.6 513.5,232.5 514,232.4 514.5,232.2 515,232.1 515.5,232 516,231.9 516.5,231.8 517,231.7 517.5,231.6 518,231.4 518.5,231.3 519,231.2 519.5,231.1 520,231 520.5,230.9 521,230.8 521.5,230.7 522,230.5 522.5,230.4 523,230.3 523.5,230.2 524,230.1 524.5,230 525,229.9 525.5,229.8 526,229.6 526.5,229.5 527,229.4 527.5,229.3 528,229.2 528.5,229.1 529,229 529.5,228.9 530,228.8 530.5,228.7 531,228.5 531.5,228.4 532,228.3 532.5,228.2 533,228.1 533.5,228 534,227.9 534.5,227.8 535,227.7 535.5,227.6 535.5,231.2 535,231.3 534.5,231.4 534,231.5 533.5,231.6 533,231.7 532.5,231.8 532,231.9 531.5,232 531,232.1 530.5,232.3 530,232.4 529.5,232.5 529,232.6 528.5,232.7 528,232.8 527.5,232.9 527,233 526.5,233.1 526,233.3 525.5,233.4 525,233.5 524.5,233.6 524,233.7 523.5,233.8 523,233.9 522.5,234 522,234.1 521.5,234.3 521,234.4 520.5,234.5 520,234.6 519.5,234.7 519,234.8 518.5,234.9 518,235 517.5,235.2 517,235.3 516.5,235.4 516,235.5 515.5,235.6 515,235.7 514.5,235.8 514,236 513.5,236.1 513,236.2 512.5,236.3 512,236.4 511.5,236.5 511,236.6 510.5,236.8 510,236.9 509.5,237 509,237.1 508.5,237.2 508,237.3 507.5,237.5 507,237.6 506.5,237.7 506,237.8 505.5,237.9 505,238 504.5,238.2 504,238.3 503.5,238.4 503,238.5 502.5,238.6 502,238.7 501.5,238.9 501,239 500.5,239.1 500,239.2 499.5,239.3 499,239.4 498.5,239.6 498,239.7 497.5,239.8 497,239.9 496.5,240 496,240.1 495.5,240.3 495,240.4 494.5,240.5 494,240.6 493.5,240.7 493,240.8 492.5,240.9 492,241.1 491.5,241.2 491,241.3 490.5,241.4 490,241.5 489.5,241.6 489,241.8 488.5,241.9 488,242 487.5,242.1 487,242.2 486.5,242.3 486,242.4 485.5,242.6 485,242.7 484.5,242.8 484,242.9 483.5,243 483,243.2 482.5,243.3 482,243.4 481.5,243.5 481,243.6 480.5,243.7 480,243.9 479.5,244 479,244.1 478.5,244.2 478,244.4 477.5,244.5 477,244.6 476.5,244.7 476,244.8 475.5,245 475,245.1 474.5,245.2 474,245.3 473.5,245.5 473,245.6 472.5,245.7 472,245.8 471.5,245.9 471,246.1 470.5,246.2 470,246.3 469.5,246.4 469,246.5 468.5,246.7 468,246.8 467.5,246.9 467,247 466.5,247.1 466,247.3 465.5,247.4 465,247.5 464.5,247.6 464,247.7 463.5,247.9 463,248 462.5,248.1 462,248.2 461.5,248.3 461,248.4 460.5,248.6 460,248.7 459.5,248.8 459,248.9 458.5,249 458,249.2 457.5,249.3 457,249.4 456.5,249.5 456,249.6 455.5,249.7 455,249.9 454.5,250 454,250.1 453.5,250.2 453,250.3 452.5,250.5 452,250.6 451.5,250.7 451,250.8 450.5,250.9 450,251.1 449.5,251.2 449,251.3 448.5,251.4 448,251.5 447.5,251.7 447,251.8 446.5,251.9 446,252 445.5,252.2 445,252.3 444.5,252.4 444,252.5 443.5,252.6 443,252.8 442.5,252.9 442,253 441.5,253.1 441,253.2 440.5,253.4 440,253.5 439.5,253.6 439,253.7 438.5,253.9 438,254 437.5,254.1 437,254.2 436.5,254.4 436,254.5 435.5,254.6 435,254.7 434.5,254.9 434,255 433.5,255.1 433,255.2 432.5,255.4 432,255.5 431.5,255.6 431,255.7 430.5,255.9 430,256 429.5,256.1 429,256.3 428.5,256.4 428,256.5 427.5,256.6 427,256.8 426.5,256.9 426,257 425.5,257.1 425,257.3 424.5,257.4 424,257.5 423.5,257.6 423,257.8 422.5,257.9 422,258 421.5,258.2 421,258.3 420.5,258.4 420,258.5 419.5,258.7 419,258.8 418.5,258.9 418,259.1 417.5,259.2 417,259.3 416.5,259.4 416,259.6 415.5,259.7 415,259.8 414.5,260 414,260.1 413.5,260.2 413,260.4 412.5,260.5 412,260.6 411.5,260.7 411,260.9 410.5,261 410,261.1 409.5,261.3 409,261.4 408.5,261.5 408,261.7 407.5,261.8 407,261.9 406.5,262.1 406,262.2 405.5,262.3 405,262.5 404.5,262.6 404,262.7 403.5,262.9 403,263 402.5,263.1 402,263.3 401.5,263.4 401,263.5 400.5,263.7 400,263.8 399.5,263.9 399,264.1 398.5,264.2 398,264.3 397.5,264.5 397,264.6 396.5,264.7 396,264.9 395.5,265 395,265.2 394.5,265.3 394,265.4 393.5,265.6 393,265.7 392.5,265.8 392,266 391.5,266.1 391,266.2 390.5,266.4 390,266.5 389.5,266.6 389,266.8 388.5,266.9 388,267.1 387.5,267.2 387,267.3 386.5,267.5 386,267.6 385.5,267.7 385,267.9 384.5,268 384,268.1 383.5,268.3 383,268.4 382.5,268.5 382,268.7 381.5,268.8 381,268.9 380.5,269.1 380,269.2 379.5,269.3 379,269.5 378.5,269.6 378,269.7 377.5,269.9 377,270 376.5,270.1 376,270.3 375.5,270.4 375,270.5 374.5,270.7 374,270.8 373.5,270.9 373,271.1 372.5,271.2 372,271.3 371.5,271.5 371,271.6 370.5,271.7 370,271.9 369.5,272 369,272.2 368.5,272.3 368,272.4 367.5,272.6 367,272.7 366.5,272.8 366,273 365.5,273.1 365,273.2 364.5,273.4 364,273.5 363.5,273.6 363,273.8 362.5,273.9 362,274 361.5,274.2 361,274.3 360.5,274.4 360,274.6 359.5,274.7 359,274.9 358.5,275 358,275.1 357.5,275.3 357,275.4 356.5,275.5 356,275.7 355.5,275.8 355,275.9 354.5,276.1 354,276.2 353.5,276.3 353,276.5 352.5,276.6 352,276.7 351.5,276.9 351,277 350.5,277.2 350,277.3 349.5,277.4 349,277.6 348.5,277.7 348,277.8 347.5,278 347,278.1 346.5,278.2 346,278.3 345.5,278.5 345,278.6 344.5,278.7 344,278.9 343.5,279 343,279.1 342.5,279.2 342,279.4 341.5,279.5 341,279.6 340.5,279.7 340,279.9 339.5,280 339,280.1 338.5,280.2 338,280.4 337.5,280.5 337,280.6 336.5,280.8 336,280.9 335.5,281 335,281.2 334.5,281.3 334,281.5 333.5,281.6 333,281.7 332.5,281.9 332,282 331.5,282.2 331,282.3 330.5,282.4 330,282.6 329.5,282.7 329,282.9 328.5,283 328,283.2 327.5,283.3 327,283.4 326.5,283.6 326,283.7 325.5,283.9 325,284 324.5,284.2 324,284.3 323.5,284.5 323,284.6 322.5,284.8 322,284.9 321.5,285.1 321,285.2 320.5,285.4 320,285.5 319.5,285.7 319,285.8 318.5,286 318,286.1 317.5,286.3 317,286.4 316.5,286.6 316,286.7 315.5,286.9 315,287 314.5,287.2 314,287.3 313.5,287.5 313,287.6 312.5,287.8 312,287.9 311.5,288.1 311,288.2 310.5,288.4 310,288.5 309.5,288.7 309,288.8 308.5,289 308,289.1 307.5,289.3 307,289.4 306.5,289.6 306,289.8 305.5,289.9 305,290.1 304.5,290.2 304,290.4 303.5,290.5 303,290.7 302.5,290.8 302,291 301.5,291.2 301,291.3 300.5,291.5 300,291.6 299.5,291.8 299,292 298.5,292.1 298,292.3 297.5,292.4 297,292.6 296.5,292.7 296,292.9 295.5,293.1 295,293.2 294.5,293.4 294,293.6 293.5,293.7 293,293.9 292.5,294 292,294.2 291.5,294.4 291,294.5 290.5,294.7 290,294.9 289.5,295 289,295.2 288.5,295.3 288,295.5 287.5,295.7 287,295.8 286.5,296 286,296.2 285.5,296.3 285,296.5 284.5,296.7 284,296.8 283.5,297 283,297.2 282.5,297.3 282,297.5 281.5,297.7 281,297.8 280.5,298 280,298.2 279.5,298.3 279,298.5 278.5,298.7 278,298.8 277.5,299 277,299.2 276.5,299.3 276,299.5 275.5,299.6 275,299.8 274.5,300 274,300.1 273.5,300.3 273,300.5 272.5,300.6 272,300.8 271.5,301 271,301.1 270.5,301.3 270,301.5 269.5,301.6 269,301.8 268.5,302 268,302.1 267.5,302.3 267,302.5 266.5,302.6 266,302.8 265.5,302.9 265,303.1 264.5,303.2 264,303.4 263.5,303.5 263,303.7 262.5,303.8 262,304 261.5,304.1 261,304.3 260.5,304.5 260,304.6 259.5,304.8 259,305 258.5,305.1 258,305.3 257.5,305.5 257,305.7 256.5,305.9 256,306.1 255.5,306.3 255,306.5 254.5,306.8 254,307.1 253.5,307.4 253,307.7 252.5,308 252,308.4 251.5,308.8 251,309.1 250.5,309.5 250,309.8 249.5,310.1 249,310.4 248.5,310.7 248,310.9 247.5,311.2 247,311.4 246.5,311.6 246,311.8 245.5,312 245,312.1 244.5,312.3 244,312.5 243.5,312.7 243,312.8 242.5,313 242,313.2 241.5,313.4 241,313.6 240.5,313.8 240,314 239.5,314.2 239,314.4 238.5,314.6 238,314.8 237.5,315 237,315.2 236.5,315.4 236,315.6 235.5,315.8 235,316.1 234.5,316.3 234,316.6 233.5,316.9 233,317.2 232.5,317.5 232,317.9 231.5,318.3 231,318.7 230.5,319.1 230,319.6 229.5,320.1 229,320.6 228.5,321.1 228,321.6 227.5,322.1 227,322.7 226.5,323.4 226,324.1 225.5,324.8 225,325.5 224.5,326.2 224,326.9 223.5,327.6 223,328.3 222.5,329 222,329.8 221.5,330.5 221,331.2 220.5,331.9 220,332.5 219.5,333 219,333.5 218.5,333.9 218,334.3 217.5,334.7 217,335 216.5,335.4 216,335.7 215.5,336 215,336.3 214.5,336.6 214,336.8 213.5,337 213,337.2 212.5,337.3 212,337.4 211.5,337.4 211,337.4 210.5,337.5 210,337.5 209.5,337.5 209,337.5 208.5,337.5 208,337.6 207.5,337.6 207,337.6 206.5,337.6 206,337.6 205.5,337.6 205,337.6 204.5,337.6 204,337.5 203.5,337.4 203,337.3 202.5,337.1 202,336.9 201.5,336.7 201,336.6 200.5,336.5 200,336.4 199.5,336.4 199,336.4 198.5,336.4 198,336.4 197.5,336.5 197,336.5 196.5,336.5 196,336.5 195.5,336.6 195,336.6 194.5,336.6 194,336.7 193.5,336.7 193,336.7 192.5,336.7 192,336.8 191.5,336.8 191,336.8 190.5,336.9 190,336.9 189.5,336.9 189,337 188.5,337 188,337 187.5,337.1 187,337.1 186.5,337.2 186,337.2 185.5,337.2 185,337.3 184.5,337.3 184,337.4 183.5,337.4 183,337.5 182.5,337.5 182,337.6 181.5,337.6 181,337.7 180.5,337.7 180,337.8 179.5,337.8 179,337.9 178.5,338 178,338 177.5,338.1 177,338.2 176.5,338.3 176,338.4 175.5,338.5 175,338.6 174.5,338.7 174,338.8 173.5,338.9 173,339 172.5,339.1 172,339.3 171.5,339.4 171,339.5 170.5,339.7 170,339.8 169.5,339.9 169,340.1 168.5,340.2 168,340.4 167.5,340.5 167,340.6 166.5,340.8 166,340.9 165.5,341.1 165,341.2 164.5,341.3 164,341.5 163.5,341.6 163,341.8 162.5,341.9 162,342 161.5,342.2 161,342.3 160.5,342.5 160,342.6 159.5,342.7 159,342.9 158.5,343 158,343.2 157.5,343.3 157,343.5 156.5,343.6 156,343.8 155.5,343.9 155,344.1 154.5,344.2 154,344.4 153.5,344.5 153,344.7 152.5,344.8 152,345 151.5,345.1 151,345.3 150.5,345.5 150,345.6 149.5,345.8 149,345.9 148.5,346.1 148,346.3 147.5,346.4 147,346.6 146.5,346.8 146,346.9 145.5,347.1 145,347.3 144.5,347.4 144,347.6 143.5,347.8 143,347.9 142.5,348.1 142,348.3 141.5,348.5 141,348.6 140.5,348.8 140,349 139.5,349.2 139,349.4 138.5,349.5 138,349.7 137.5,349.9 137,350.1 136.5,350.3 136,350.5 135.5,350.7 135,350.9 134.5,351.1 134,351.3 133.5,351.5 133,351.7 132.5,352 132,352.2 131.5,352.4 131,352.7 130.5,352.9 130,353.1 129.5,353.4 129,353.6 128.5,353.8 128,354.1 127.5,354.3 127,354.5 126.5,354.7 126,355 125.5,355.2 125,355.4 124.5,355.7 124,355.9 123.5,356.1 123,356.3 122.5,356.6 122,356.8 121.5,357 121,357.2 120.5,357.5 120,357.7 119.5,357.9 119,358.1 118.5,358.4 118,358.6 117.5,358.8 117,359 116.5,359.2 116,359.4 115.5,359.7 115,359.9 114.5,360.1 114,360.3 113.5,360.5 113,360.7 112.5,360.9 112,361.1 111.5,361.3 111,361.5 110.5,361.6 110,361.8 109.5,362 109,362.2 108.5,362.4 108,362.6 107.5,362.7 107,362.9 106.5,363.1 106,363.3 105.5,363.4 105,363.6 104.5,363.8 104,364 103.5,364.1 103,364.3 102.5,364.5 102,364.7 101.5,364.8 101,365 100.5,365.2 100,365.4 99.5,365.6 99,365.8 98.5,365.9 98,366.1 97.5,366.3 97,366.5 96.5,366.7 96,366.9 95.5,367.1 95,367.2 94.5,367.4 94,367.6 93.5,367.8 93,368 92.5,368.2 92,368.4 91.5,368.6 91,368.8 90.5,368.9 90,369.1 89.5,369.3 89,369.5 88.5,369.7 88,369.9 87.5,370.1 87,370.3 86.5,370.5 86,370.7 85.5,370.9 85,371.1 84.5,371.3 84,371.5 83.5,371.7 83,371.9 82.5,372.2 82,372.4 81.5,372.7 81,372.9 80.5,373.2 80,373.5 79.5,373.7 79,374 78.5,374.3 78,374.5 77.5,374.7 77,375 76.5,375.2 76,375.4 75.5,375.5 75,375.7 74.5,375.8 74,375.9 73.5,376 73,376.1 72.5,376.1 72,376.2 71.5,376.2 71,376.3 70.5,376.4 70,376.4 69.5,376.5 69,376.5 68.5,376.6 68,376.6 67.5,376.6 67,376.7 66.5,376.7 66,376.6 65.5,376.3 65,375.8 64.5,375.4 64,375.2 63.5,375.1 63,375.1 62.5,375.1 62,375.1 61.5,375 61,375 60.5,375 60,375 59.5,375 59,375 58.5,375" fill="#f5141e" />
<polygon points="58.5,375.3 59,375.2 59.5,375.2 60,375.3 60.5,375.1 61,375.1 61.5,375 62,375.1 62.5,375.1 63,375.1 63.5,375.2 64,375.1 64.5,374.8 65,373.8 65.5,372.4 66,371.5 66.5,370.7 67,370.4 67.5,369.7 68,369.5 68.5,369.3 69,369 69.5,368.8 70,368.9 70.5,369.1 71,368.2 71.5,367.8 72,367.8 72.5,368.8 73,368.7 73.5,368.4 74,368.2 74.5,367.4 75,367.2 75.5,366.8 76,366.2 76.5,365.4 77,365.2 77.5,365.6 78,365.6 78.5,365 79,365.8 79.5,366.2 80,365.4 80.5,365.2 81,364.2 81.5,364.4 82,363.4 82.5,363.1 83,363.5 83.5,364.5 84,363.7 84.5,363.5 85,364 85.5,363.9 86,363.9 86.5,362.4 87,361.7 87.5,361.8 88,361.9 88.5,361.9 89,362.1 89.5,361.5 90,361.7 90.5,362 91,362.2 91.5,361.7 92,360.8 92.5,360.1 93,360.4 93.5,360.4 94,360.9 94.5,360.1 95,360.7 95.5,359.9 96,359.9 96.5,359.7 97,359.4 97.5,358.7 98,358.3 98.5,358.1 99,357.8 99.5,358.1 100,358 100.5,358.2 101,358.8 101.5,358.4 102,358 102.5,357.5 103,357 103.5,356.6 104,355.8 104.5,356.2 105,356.4 105.5,356.2 106,355.7 106.5,355.4 107,355.7 107.5,355.7 108,355.5 108.5,354.6 109,354.1 109.5,354.2 110,353.3 110.5,353.8 111,353.8 111.5,353.2 112,353.7 112.5,353.3 113,352.9 113.5,352.1 114,351.7 114.5,351.9 115,351.3 115.5,351.1 116,350.6 116.5,350.9 117,351 117.5,350.6 118,350.5 118.5,351 119,350.5 119.5,349.6 120,349.3 120.5,349.3 121,349.3 121.5,348.4 122,348.9 122.5,349.6 123,349 123.5,349.2 124,347.7 124.5,348.4 125,347.5 125.5,346.3 126,346.7 126.5,346.7 127,346.7 127.5,346.7 128,346.3 128.5,346.1 129,346.1 129.5,346 130,345.7 130.5,344.9 131,344.5 131.5,344.4 132,344 132.5,344.6 133,344.6 133.5,343.5 134,343.6 134.5,343.3 135,343.2 135.5,343.3 136,342.3 136.5,341.7 137,341.6 137.5,341.7 138,341.3 138.5,341.4 139,341.9 139.5,341.9 140,341.8 140.5,341.7 141,340.6 141.5,340.4 142,339.7 142.5,339.8 143,339.5 143.5,338.9 144,339.6 144.5,339.1 145,339.9 145.5,339.5 146,338.8 146.5,338.3 147,338.1 147.5,337.6 148,337.1 148.5,337.1 149,336.5 149.5,337 150,337.1 150.5,336.6 151,337.2 151.5,336.4 152,335.6 152.5,335.7 153,335.4 153.5,335.4 154,334.8 154.5,335.3 155,335.5 155.5,335.5 156,335.6 156.5,335.2 157,334.6 157.5,334.6 158,334.2 158.5,333.4 159,332.7 159.5,332.1 160,332.8 160.5,332.8 161,332.3 161.5,332.9 162,333.1 162.5,332.6 163,332.4 163.5,331.9 164,330.6 164.5,330.6 165,330.7 165.5,330.9 166,330.9 166.5,329.9 167,330.5 167.5,330.8 168,330.8 168.5,330.4 169,329.1 169.5,328.7 170,328.2 170.5,328.4 171,327.8 171.5,328.6 172,328.6 172.5,328.3 173,327.2 173.5,327.4 174,327.5 174.5,326.4 175,326.3 175.5,326.1 176,326.2 176.5,325.9 177,325.7 177.5,325.3 178,325.4 178.5,325.2 179,325.2 179.5,324.5 180,324.3 180.5,322.8 181,323.5 181.5,322.8 182,323 182.5,322.4 183,322.5 183.5,322.6 184,321.2 184.5,321 185,320.5 185.5,320.1 186,318.6 186.5,318.9 187,318.6 187.5,318 188,317.9 188.5,317.1 189,318.6 189.5,318 190,318.3 190.5,316 191,315.1 191.5,315.5 192,313.9 192.5,314.6 193,313.7 193.5,313.5 194,313.5 194.5,313.1 195,313.9 195.5,312.2 196,310.2 196.5,311 197,309 197.5,309.3 198,307.9 198.5,307.9 199,309.1 199.5,307.3 200,306.6 200.5,306.3 201,306.3 201.5,307.1 202,304.8 202.5,304.3 203,305.2 203.5,303.5 204,304.1 204.5,305 205,304 205.5,303.1 206,302.6 206.5,302.1 207,302.2 207.5,302.6 208,303.3 208.5,302.8 209,301.3 209.5,300.9 210,301.6 210.5,299.8 211,300.5 211.5,300.6 212,300 212.5,300.2 213,301 213.5,299.7 214,300.1 214.5,300.4 215,300.9 215.5,300.1 216,301.7 216.5,300.9 217,300.9 217.5,301 218,301 218.5,301.2 219,303.1 219.5,302.9 220,303 220.5,303.9 221,303.2 221.5,304.3 222,304.2 222.5,304 223,305.3 223.5,304.4 224,306 224.5,305.4 225,306.6 225.5,307.6 226,307.1 226.5,306.2 227,306.5 227.5,306.2 228,305.6 228.5,305.7 229,306.6 229.5,306.8 230,305.3 230.5,306.3 231,306.9 231.5,306.5 232,305.8 232.5,306.9 233,305.7 233.5,306.8 234,307.3 234.5,305 235,306.2 235.5,306.4 236,306.2 236.5,305.5 237,305.5 237.5,304.9 238,305.8 238.5,306 239,305.1 239.5,304.7 240,305 240.5,305.2 241,305.2 241.5,305 242,304.8 242.5,303.7 243,302.9 243.5,304.8 244,305.2 244.5,303.4 245,303.6 245.5,304.2 246,304.5 246.5,304.3 247,304.4 247.5,303.6 248,303.6 248.5,303.4 249,302.9 249.5,303.6 250,303.3 250.5,303.1 251,302.4 251.5,302.7 252,301.7 252.5,301.9 253,300.5 253.5,301 254,301.7 254.5,301.1 255,301.1 255.5,300.4 256,301.5 256.5,301 257,300.6 257.5,300.6 258,300.5 258.5,300.7 259,300 259.5,299.2 260,299.5 260.5,300 261,299.6 261.5,299.1 262,299.3 262.5,299 263,298.9 263.5,298.1 264,298.1 264.5,298.5 265,298.2 265.5,298.2 266,298.5 266.5,297.8 267,297.6 267.5,297.3 268,297.1 268.5,297.1 269,296.5 269.5,296.3 270,297 270.5,296.6 271,296.7 271.5,296.3 272,296.2 272.5,296.2 273,296 273.5,295.5 274,295.7 274.5,295.2 275,295.3 275.5,295.6 276,295.1 276.5,295.1 277,294.6 277.5,294.6 278,294.4 278.5,294.2 279,293.9 279.5,293.7 280,293.7 280.5,293.3 281,293.2 281.5,293.3 282,293 282.5,292.8 283,292.6 283.5,292.6 284,292.5 284.5,292.4 285,292.2 285.5,292.3 286,291.8 286.5,291.4 287,291.6 287.5,291.4 288,291.3 288.5,290.9 289,291.1 289.5,290.8 290,290.6 290.5,290.3 291,290.4 291.5,290.2 292,290.2 292.5,289.8 293,289.6 293.5,289.6 294,289.3 294.5,289.3 295,289 295.5,289 296,288.8 296.5,288.7 297,288.5 297.5,288.3 298,288.2 298.5,288 299,287.9 299.5,287.7 300,287.4 300.5,287.5 301,287.5 301.5,287.3 302,287.2 302.5,287 303,286.7 303.5,286.5 304,286.6 304.5,286.5 305,286.3 305.5,286.1 306,286 306.5,285.8 307,285.7 307.5,285.5 308,285.4 308.5,285.1 309,285 309.5,285 310,284.7 310.5,284.4 311,284.4 311.5,284.1 312,284.4 312.5,284.2 313,284 313.5,283.7 314,283.5 314.5,283.5 315,283.4 315.5,283.2 316,283.1 316.5,283 317,282.9 317.5,282.5 318,282.3 318.5,282.4 319,282.2 319.5,282.2 320,282.2 320.5,282 321,281.8 321.5,281.7 322,281.6 322.5,281.3 323,281.2 323.5,281.1 324,280.8 324.5,280.6 325,280.5 325.5,280.4 326,280.2 326.5,280.2 327,280 327.5,280 328,279.9 328.5,279.5 329,279.6 329.5,279.3 330,279.4 330.5,279.1 331,279 331.5,278.9 332,278.6 332.5,278.6 333,278.5 333.5,278.3 334,278.2 334.5,277.9 335,277.9 335.5,277.7 336,277.7 336.5,277.6 337,277.5 337.5,277.3 338,277.4 338.5,277 339,276.9 339.5,276.7 340,276.8 340.5,276.5 341,276.5 341.5,276.2 342,276.2 342.5,276 343,276 343.5,275.8 344,275.6 344.5,275.6 345,275.3 345.5,275.2 346,275.3 346.5,274.9 347,275 347.5,274.8 348,274.6 348.5,274.6 349,274.5 349.5,274.3 350,274.2 350.5,274.2 351,274 351.5,273.8 352,273.6 352.5,273.5 353,273.4 353.5,273.4 354,273.3 354.5,273.1 355,273.1 355.5,272.8 356,272.6 356.5,272.5 357,272.6 357.5,272.1 358,272.2 358.5,272.1 359,271.9 359.5,272 360,271.8 360.5,271.6 361,271.3 361.5,271.3 362,271.1 362.5,271 363,270.9 363.5,270.7 364,270.7 364.5,270.7 365,270.5 365.5,270.2 366,269.9 366.5,270.1 367,270 367.5,269.7 368,269.5 368.5,269.5 369,269.3 369.5,269.2 370,269 370.5,268.8 371,268.8 371.5,268.5 372,268.5 372.5,268.4 373,268.2 373.5,268.2 374,268 374.5,267.9 375,267.8 375.5,267.6 376,267.4 376.5,267.2 377,267.2 377.5,267.1 378,267.2 378.5,267 379,266.6 379.5,266.7 380,266.5 380.5,266.3 381,266.3 381.5,266.2 382,265.9 382.5,265.8 383,265.7 383.5,265.5 384,265.4 384.5,265.3 385,265.1 385.5,265 386,264.9 386.5,264.9 387,264.7 387.5,264.4 388,264.4 388.5,264.3 389,264.2 389.5,264.1 390,263.8 390.5,263.7 391,263.5 391.5,263.4 392,263.5 392.5,263.3 393,262.9 393.5,262.9 394,262.7 394.5,262.7 395,262.5 395.5,262.3 396,262.2 396.5,262.1 397,262 397.5,261.8 398,261.7 398.5,261.6 399,261.3 399.5,261.3 400,261.1 400.5,261 401,260.9 401.5,260.6 402,260.5 402.5,260.4 403,260.4 403.5,260.2 404,260.1 404.5,260 405,259.7 405.5,259.7 406,259.5 406.5,259.4 407,259.3 407.5,259.2 408,259.1 408.5,259.1 409,258.8 409.5,258.6 410,258.5 410.5,258.4 411,258.4 411.5,258.2 412,257.9 412.5,257.9 413,257.7 413.5,257.6 414,257.4 414.5,257.1 415,257.1 415.5,257.2 416,256.9 416.5,256.6 417,256.6 417.5,256.4 418,256.6 418.5,256.3 419,256.1 419.5,256.1 420,255.9 420.5,255.8 421,255.6 421.5,255.4 422,255.4 422.5,255.2 423,255.3 423.5,255 424,254.8 424.5,254.6 425,254.8 425.5,254.7 426,254.3 426.5,254.4 427,254.2 427.5,254 428,253.9 428.5,253.7 429,253.8 429.5,253.5 430,253.2 430.5,253.4 431,253.2 431.5,252.9 432,252.8 432.5,252.6 433,252.6 433.5,252.5 434,252.4 434.5,252.2 435,252 435.5,252.1 436,251.9 436.5,251.9 437,251.6 437.5,251.6 438,251.4 438.5,251.2 439,251.2 439.5,251 440,250.8 440.5,250.7 441,250.7 441.5,250.4 442,250.5 442.5,250.3 443,250.1 443.5,250.2 444,250.1 444.5,249.9 445,249.7 445.5,249.7 446,249.6 446.5,249.2 447,249.1 447.5,249 448,248.9 448.5,248.7 449,248.8 449.5,248.6 450,248.5 450.5,248.5 451,248.2 451.5,248.1 452,248 452.5,247.8 453,247.7 453.5,247.7 454,247.5 454.5,247.5 455,247.2 455.5,247.1 456,246.9 456.5,246.9 457,246.7 457.5,246.8 458,246.6 458.5,246.5 459,246.5 459.5,246.4 460,246.1 460.5,245.9 461,245.7 461.5,245.7 462,245.6 462.5,245.4 463,245.3 463.5,245.1 464,245.2 464.5,244.9 465,244.8 465.5,244.8 466,244.5 466.5,244.6 467,244.5 467.5,244.3 468,244.1 468.5,244 469,243.8 469.5,243.9 470,243.7 470.5,243.5 471,243.4 471.5,243.4 472,243.3 472.5,243 473,242.9 473.5,242.7 474,242.8 474.5,242.7 475,242.7 475.5,242.4 476,242.2 476.5,242 477,242 477.5,241.7 478,241.8 478.5,241.7 479,241.4 479.5,241.3 480,241.4 480.5,241.3 481,241 481.5,241 482,241 482.5,240.6 483,240.5 483.5,240.3 484,240.3 484.5,240.2 485,240 485.5,239.9 486,239.7 486.5,239.6 487,239.5 487.5,239.5 488,239.3 488.5,239.2 489,239.2 489.5,239.1 490,238.8 490.5,238.7 491,238.7 491.5,238.6 492,238.4 492.5,238.4 493,238.2 493.5,238.2 494,237.9 494.5,238 495,237.8 495.5,237.6 496,237.6 496.5,237.5 497,237.2 497.5,237.4 498,237 498.5,236.8 499,236.8 499.5,236.8 500,236.7 500.5,236.5 501,236.5 501.5,236.3 502,236.3 502.5,236.3 503,235.9 503.5,235.5 504,235.6 504.5,235.4 505,235.4 505.5,235.3 506,235.1 506.5,235 507,234.9 507.5,234.8 508,234.5 508.5,234.7 509,234.5 509.5,234.4 510,234.3 510.5,234.1 511,234 511.5,234 512,233.9 512.5,233.8 513,233.6 513.5,233.4 514,233.5 514.5,233.3 515,233.1 515.5,232.8 516,232.8 516.5,232.6 517,232.8 517.5,232.6 518,232.4 518.5,232.3 519,232.5 519.5,232.2 520,231.9 520.5,231.8 521,231.6 521.5,231.5 522,231.6 522.5,231.7 523,231.5 523.5,231.2 524,231.1 524.5,231 525,231 525.5,230.6 526,230.5 526.5,230.7 527,230.5 527.5,230.5 528,230.3 528.5,230.2 529,230 529.5,229.9 530,229.9 530.5,229.8 531,229.5 531.5,229.5 532,229.3 532.5,229.1 533,229.2 533.5,229.2 534,229 534.5,228.7 535,228.8 535.5,228.7 535.5,230.1 535,230.2 534.5,230.1 534,230.5 533.5,230.7 533,230.8 532.5,230.8 532,230.7 531.5,230.9 531,231.1 530.5,231.3 530,231.3 529.5,231.4 529,231.5 528.5,231.6 528,231.8 527.5,231.9 527,231.9 526.5,232.3 526,232.5 525.5,232.5 525,232.5 524.5,232.7 524,232.9 523.5,232.8 523,232.8 522.5,233 522,233.2 521.5,233.3 521,233.3 520.5,233.3 520,233.6 519.5,233.7 519,233.7 518.5,233.8 518,234.1 517.5,234.2 517,234.3 516.5,234.3 516,234.7 515.5,234.6 515,234.8 514.5,234.9 514,235.1 513.5,235.1 513,235.1 512.5,235.3 512,235.5 511.5,235.6 511,236 510.5,235.9 510,235.8 509.5,235.9 509,236.1 508.5,236.1 508,236.3 507.5,236.4 507,236.5 506.5,236.7 506,236.6 505.5,237 505,237 504.5,236.9 504,237.4 503.5,237.5 503,237.6 502.5,237.9 502,237.7 501.5,237.9 501,238 500.5,238 500,238.1 499.5,238.3 499,238.4 498.5,238.6 498,238.7 497.5,238.9 497,239 496.5,239.1 496,239.1 495.5,239.3 495,239.4 494.5,239.5 494,239.6 493.5,239.9 493,240 492.5,240.1 492,240 491.5,240 491,240.3 490.5,240.3 490,240.6 489.5,240.5 489,240.8 488.5,240.7 488,240.9 487.5,241 487,241.2 486.5,241.4 486,241.4 485.5,241.5 485,241.8 484.5,241.8 484,241.7 483.5,242.1 483,242.2 482.5,242.2 482,242.4 481.5,242.5 481,242.3 480.5,242.5 480,242.9 479.5,242.9 479,243 478.5,243.2 478,243.3 477.5,243.6 477,243.5 476.5,243.6 476,243.6 475.5,243.9 475,244.1 474.5,244.2 474,244.3 473.5,244.5 473,244.6 472.5,244.5 472,244.8 471.5,244.9 471,245.1 470.5,245.2 470,245.3 469.5,245.4 469,245.5 468.5,245.6 468,245.9 467.5,246 467,246.1 466.5,246.3 466,246.3 465.5,246.4 465,246.6 464.5,246.8 464,246.7 463.5,246.8 463,247.1 462.5,247.2 462,247.2 461.5,247.3 461,247.3 460.5,247.5 460,247.6 459.5,247.8 459,247.8 458.5,248 458,247.9 457.5,248.1 457,248.4 456.5,248.6 456,248.7 455.5,248.8 455,248.9 454.5,248.8 454,249.1 453.5,249.5 453,249.5 452.5,249.4 452,249.5 451.5,249.7 451,250 450.5,250 450,250.1 449.5,250.2 449,250.5 448.5,250.6 448,250.5 447.5,250.5 447,250.7 446.5,250.8 446,250.9 445.5,251.1 445,251.3 444.5,251.4 444,251.6 443.5,251.6 443,251.7 442.5,252 442,252.2 441.5,252.1 441,252.4 440.5,252.4 440,252.5 439.5,252.5 439,252.7 438.5,252.8 438,252.7 437.5,253.1 437,253.1 436.5,253.4 436,253.6 435.5,253.6 435,253.7 434.5,253.9 434,253.9 433.5,254.1 433,254.1 432.5,254.3 432,254.4 431.5,254.6 431,254.7 430.5,254.9 430,255 429.5,255.1 429,255.2 428.5,255.2 428,255.5 427.5,255.5 427,255.9 426.5,255.9 426,256 425.5,256.3 425,256.3 424.5,256.5 424,256.6 423.5,256.8 423,257 422.5,257.2 422,257 421.5,257.1 421,257.3 420.5,257.5 420,257.7 419.5,257.7 419,257.8 418.5,257.9 418,258 417.5,258 417,258.1 416.5,258.4 416,258.4 415.5,258.6 415,258.7 414.5,259.1 414,259.1 413.5,259 413,259.4 412.5,259.5 412,259.5 411.5,259.8 411,260 410.5,259.9 410,260.1 409.5,260.2 409,260.4 408.5,260.6 408,260.6 407.5,260.8 407,261 406.5,261.1 406,261 405.5,261.3 405,261.5 404.5,261.6 404,261.6 403.5,261.7 403,261.8 402.5,262.2 402,262.4 401.5,262.3 401,262.5 400.5,262.7 400,262.8 399.5,262.9 399,263 398.5,263.4 398,263.6 397.5,263.5 397,263.5 396.5,263.6 396,263.8 395.5,264 395,264.2 394.5,264.3 394,264.5 393.5,264.3 393,264.7 392.5,264.8 392,264.7 391.5,265.1 391,265.2 390.5,265.3 390,265.5 389.5,265.6 389,265.8 388.5,265.9 388,266.2 387.5,266.2 387,266.1 386.5,266.3 386,266.5 385.5,266.7 385,266.8 384.5,267 384,267.2 383.5,267.2 383,267.5 382.5,267.7 382,267.7 381.5,267.8 381,267.9 380.5,268.1 380,268.2 379.5,268.3 379,268.5 378.5,268.6 378,268.7 377.5,269 377,269.2 376.5,269.3 376,269.4 375.5,269.5 375,269.7 374.5,269.8 374,270 373.5,270.1 373,270.3 372.5,270.4 372,270.4 371.5,270.7 371,270.8 370.5,270.8 370,271 369.5,271.2 369,271.2 368.5,271.4 368,271.5 367.5,271.7 367,271.8 366.5,272.1 366,272.3 365.5,272.4 365,272.6 364.5,272.7 364,272.7 363.5,272.8 363,273.1 362.5,273.4 362,273.4 361.5,273.5 361,273.7 360.5,273.9 360,274 359.5,273.9 359,274.1 358.5,274.3 358,274.5 357.5,274.6 357,274.7 356.5,275 356,275.1 355.5,275.1 355,275.2 354.5,275.3 354,275.6 353.5,275.7 353,275.8 352.5,275.9 352,276.2 351.5,276.4 351,276.7 350.5,276.8 350,276.8 349.5,276.9 349,276.9 348.5,277 348,277.4 347.5,277.3 347,277.5 346.5,277.6 346,277.9 345.5,277.9 345,278.2 344.5,278.2 344,278.4 343.5,278.6 343,278.7 342.5,278.9 342,278.8 341.5,279 341,279.2 340.5,279.4 340,279.3 339.5,279.7 339,279.7 338.5,279.6 338,279.9 337.5,280.1 337,280.3 336.5,280.2 336,280.5 335.5,280.7 335,280.8 334.5,281 334,281.2 333.5,281.4 333,281.3 332.5,281.4 332,281.7 331.5,281.9 331,282 330.5,282.1 330,282.2 329.5,282.4 329,282.5 328.5,282.9 328,283.1 327.5,283.1 327,283.3 326.5,283.2 326,283.5 325.5,283.7 325,283.7 324.5,283.9 324,284.1 323.5,284.1 323,284.3 322.5,284.5 322,284.8 321.5,284.9 321,285 320.5,285.3 320,285.2 319.5,285.4 319,285.6 318.5,285.7 318,285.9 317.5,286.1 317,286 316.5,286.3 316,286.5 315.5,286.7 315,286.7 314.5,286.9 314,287.2 313.5,287.2 313,287.5 312.5,287.6 312,287.8 311.5,287.9 311,288.2 310.5,288.4 310,288.5 309.5,288.6 309,288.7 308.5,289 308,289.1 307.5,289.2 307,289.2 306.5,289.4 306,289.6 305.5,289.8 305,289.7 304.5,290.2 304,290.3 303.5,290.5 303,290.7 302.5,290.7 302,290.8 301.5,291 301,291 300.5,291.3 300,291.5 299.5,291.7 299,291.9 298.5,292.1 298,292.3 297.5,292.4 297,292.4 296.5,292.7 296,292.7 295.5,293.2 295,293.1 294.5,293.2 294,293.3 293.5,293.7 293,293.8 292.5,293.9 292,293.9 291.5,294.3 291,294.3 290.5,294.6 290,294.7 289.5,295.1 289,294.8 288.5,295.1 288,295.4 287.5,295.6 287,295.6 286.5,295.7 286,296 285.5,296.2 285,296.3 284.5,296.7 284,296.8 283.5,296.7 283,296.9 282.5,297.4 282,297.6 281.5,297.4 281,297.8 280.5,298.3 280,298.3 279.5,298.5 279,298.4 278.5,298.3 278,298.6 277.5,298.9 277,299.2 276.5,299.5 276,299.6 275.5,299.7 275,299.8 274.5,299.5 274,299.9 273.5,300.4 273,300.3 272.5,300.6 272,300.9 271.5,300.7 271,300.9 270.5,301.9 270,302 269.5,301.8 269,301.7 268.5,302.4 268,302.7 267.5,302.7 267,302.9 266.5,302.7 266,302.6 265.5,302.9 265,303 264.5,303.2 264,303.8 263.5,303.4 263,303.8 262.5,304 262,304.6 261.5,304.5 261,304.3 260.5,304.8 260,305.2 259.5,305.2 259,305.4 258.5,305.5 258,304.9 257.5,305.7 257,305.2 256.5,306.6 256,306.7 255.5,306.7 255,306.5 254.5,307.3 254,308.1 253.5,308.1 253,308.2 252.5,308 252,308.6 251.5,308.7 251,309.7 250.5,309.6 250,309.4 249.5,310.9 249,310.9 248.5,311.2 248,311.5 247.5,311.9 247,312.3 246.5,312.6 246,313.4 245.5,313 245,312.6 244.5,313.3 244,312.8 243.5,313.1 243,313.8 242.5,313.5 242,312.1 241.5,313.5 241,313.4 240.5,313.8 240,314.8 239.5,315 239,315.7 238.5,315.4 238,315.7 237.5,315.2 237,315.4 236.5,316.5 236,316.2 235.5,316.2 235,317 234.5,317.4 234,316.7 233.5,317.1 233,317.1 232.5,316.8 232,319 231.5,319.5 231,319.7 230.5,320 230,320.2 229.5,320.2 229,320.5 228.5,321.4 228,322 227.5,322.9 227,323.2 226.5,323.4 226,323.4 225.5,325.4 225,325.7 224.5,328.1 224,328.1 223.5,328.5 223,328.1 222.5,329.7 222,329.9 221.5,329.9 221,331.4 220.5,333.2 220,332.7 219.5,333.5 219,334.4 218.5,334.3 218,335.1 217.5,335 217,336.6 216.5,335.5 216,335.1 215.5,336.8 215,335 214.5,336.1 214,336.8 213.5,337.6 213,338.1 212.5,337.8 212,337.9 211.5,337.1 211,338.5 210.5,338.1 210,337.7 209.5,338.2 209,340.3 208.5,337.4 208,337.1 207.5,338.7 207,338.5 206.5,338.7 206,337.9 205.5,338 205,339.4 204.5,337.6 204,337.2 203.5,337.3 203,337.7 202.5,337.5 202,336.4 201.5,337.3 201,336.2 200.5,336.9 200,337.4 199.5,337.5 199,336.5 198.5,336.7 198,336.6 197.5,336.4 197,336.8 196.5,337.3 196,336.7 195.5,336.8 195,336.4 194.5,336.9 194,336.8 193.5,338.1 193,337.5 192.5,337.8 192,339.1 191.5,337.2 191,337.6 190.5,337.6 190,338.3 189.5,337.9 189,338.2 188.5,338.2 188,338 187.5,339.1 187,338.2 186.5,337.7 186,338.4 185.5,338.5 185,339.1 184.5,337.8 184,337.5 183.5,337.9 183,338.3 182.5,338.2 182,338.7 181.5,339 181,338 180.5,338.2 180,338.2 179.5,338 179,337.8 178.5,337.7 178,337.8 177.5,338.3 177,338.8 176.5,338.6 176,339.1 175.5,338.9 175,338.9 174.5,339 174,338.9 173.5,339 173,339 172.5,339 172,339.8 171.5,340.2 171,340.2 170.5,340.3 170,340.5 169.5,340.4 169,341 168.5,340.3 168,340.6 167.5,341.2 167,340.7 166.5,340.7 166,341.5 165.5,341.9 165,341.4 164.5,342 164,342 163.5,341.9 163,341.8 162.5,341.9 162,342.4 161.5,341.9 161,343.1 160.5,343.5 160,343.8 159.5,343.8 159,344.5 158.5,343.8 158,343.7 157.5,342.9 157,343.1 156.5,343.4 156,344.3 155.5,344.2 155,344.6 154.5,345.4 154,345.6 153.5,345.4 153,345.3 152.5,345.6 152,345.1 151.5,344.7 151,344.3 150.5,344.7 150,345.6 149.5,346.2 149,346.5 148.5,346.9 148,347.3 147.5,347.1 147,347.7 146.5,347.3 146,346.9 145.5,346.9 145,347.7 144.5,347.7 144,347.9 143.5,348.5 143,348.8 142.5,349.2 142,349.4 141.5,348.4 141,348.1 140.5,349.3 140,348.9 139.5,348.7 139,349.9 138.5,349.6 138,351 137.5,350.5 137,350.8 136.5,350.9 136,350.6 135.5,351.1 135,350.6 134.5,350.8 134,350.9 133.5,351.5 133,352.4 132.5,352.6 132,353.2 131.5,353.5 131,354 130.5,353.2 130,353.2 129.5,352.6 129,353.2 128.5,354.2 128,354.4 127.5,354.5 127,355.5 126.5,356 126,356 125.5,356.4 125,356.1 124.5,355.6 124,355.9 123.5,356.1 123,356.6 122.5,357 122,357.9 121.5,358.2 121,358.4 120.5,358.8 120,358.5 119.5,358.6 119,358.3 118.5,358.4 118,358 117.5,358.9 117,359.5 116.5,360.1 116,360.3 115.5,361.2 115,361.1 114.5,360.4 114,360.8 113.5,360.2 113,360.5 112.5,360.9 112,360.6 111.5,361.8 111,362.5 110.5,362.9 110,363 109.5,363.3 109,363.1 108.5,363 108,362.4 107.5,363 107,363.1 106.5,362.9 106,363.5 105.5,364.3 105,364.8 104.5,365.3 104,365.3 103.5,364.5 103,364.9 102.5,365.1 102,365.2 101.5,365.2 101,365.2 100.5,365.2 100,366.2 99.5,366.2 99,366.6 98.5,366.7 98,367.1 97.5,366 97,366.4 96.5,366.5 96,366.7 95.5,367 95,367.3 94.5,367.9 94,368.1 93.5,368.9 93,368.8 92.5,369.1 92,368.6 91.5,368.6 91,368.5 90.5,369.1 90,369.3 89.5,369.9 89,370.4 88.5,370.3 88,371.3 87.5,371.5 87,371.3 86.5,371 86,371.4 85.5,370.5 85,370.6 84.5,371.3 84,372.4 83.5,372.5 83,372.5 82.5,373 82,373.5 81.5,373.2 81,372.2 80.5,372.7 80,373.6 79.5,373.6 79,374.3 78.5,374.6 78,374.9 77.5,375.2 77,375.5 76.5,376.3 76,376.5 75.5,375.8 75,376.2 74.5,375.6 74,375.6 73.5,375.6 73,375.6 72.5,377.1 72,377.5 71.5,377.4 71,376.4 70.5,377.3 70,377.3 69.5,377 69,376.6 68.5,377.4 68,376.9 67.5,377.2 67,377.3 66.5,377.1 66,377.1 65.5,376.7 65,376.2 64.5,375.7 64,375.6 63.5,375.5 63,375.6 62.5,375.6 62,375.6 61.5,375.3 61,375.3 60.5,375.5 60,375.5 59.5,375.5 59,375.2 58.5,375.3" fill="#0f72c2" />
<rect x="203.8" y="313.4" width="1.8" height="2.2" fill="#e8f1fa"/>
<rect x="195.3" y="319.2" width="1.8" height="2.2" fill="#e8f1fa"/>
<rect x="203.5" y="328.2" width="1.8" height="2.2" fill="#e8f1fa"/>
<rect x="220.6" y="319.2" width="1.8" height="2.2" fill="#e8f1fa"/>
<rect x="193.2" y="317" width="1.1" height="2.2" fill="#fff" opacity="0.3"/>
<rect x="227.9" y="314.3" width="1.2" height="1.9" fill="#fff" opacity="0.3"/>
<rect x="185.2" y="327.1" width="1" height="2.4" fill="#fff" opacity="0.3"/>
<rect x="217.3" y="330.4" width="1" height="1.8" fill="#fff" opacity="0.3"/>
<rect x="200.5" y="332.1" width="0.9" height="1.3" fill="#fff" opacity="0.3"/>
<rect x="192.7" y="327.9" width="1.1" height="2.5" fill="#fff" opacity="0.3"/>
<rect x="209.9" y="329" width="1.1" height="2.3" fill="#fff" opacity="0.3"/>
<rect x="204.8" y="333.4" width="1.1" height="1.2" fill="#fff" opacity="0.3"/>
<rect x="177" y="335.5" width="1" height="1.4" fill="#fff" opacity="0.3"/>
<rect x="222.8" y="308" width="1" height="1.7" fill="#fff" opacity="0.3"/>
<rect x="186.7" y="324.2" width="0.7" height="1.7" fill="#fff" opacity="0.3"/>
<rect x="175.8" y="332.9" width="0.9" height="2.3" fill="#fff" opacity="0.3"/>
<rect x="224.4" y="322.4" width="1.1" height="2.3" fill="#fff" opacity="0.3"/>
<rect x="175.3" y="335.8" width="1" height="2" fill="#fff" opacity="0.3"/>
<rect x="209.1" y="309.2" width="0.9" height="1.4" fill="#fff" opacity="0.3"/>
<rect x="223.3" y="316.1" width="0.8" height="2.6" fill="#fff" opacity="0.3"/>
<rect x="203.7" y="327.8" width="1.1" height="2.2" fill="#fff" opacity="0.3"/>
<rect x="195.7" y="319" width="0.7" height="2.1" fill="#fff" opacity="0.3"/>
<rect x="176.4" y="330.7" width="1.1" height="2.5" fill="#fff" opacity="0.3"/>
<rect x="217.7" y="308.6" width="1.2" height="1.4" fill="#fff" opacity="0.3"/>
<rect x="223.3" y="320.9" width="1.2" height="2.6" fill="#fff" opacity="0.3"/>
<rect x="200.5" y="316.6" width="1.2" height="1.6" fill="#fff" opacity="0.3"/>
<rect x="189.3" y="327.8" width="0.8" height="1.8" fill="#fff" opacity="0.3"/>
<rect x="178" y="330.8" width="1.2" height="2.5" fill="#fff" opacity="0.3"/>
<rect x="225.6" y="318.3" width="1.1" height="1.8" fill="#fff" opacity="0.3"/>
<rect x="221.9" y="308.5" width="0.8" height="1.4" fill="#fff" opacity="0.3"/>
<rect x="193.7" y="316.5" width="1.1" height="1.5" fill="#fff" opacity="0.3"/>
<rect x="210" y="321" width="1" height="2.2" fill="#fff" opacity="0.3"/>
<rect x="215.6" y="317.4" width="1" height="1.6" fill="#fff" opacity="0.3"/>
<rect x="199.1" y="311.8" width="1.2" height="2.5" fill="#fff" opacity="0.3"/>
<rect x="174.3" y="328.8" width="0.9" height="1.9" fill="#fff" opacity="0.3"/>
<rect x="197.8" y="318.7" width="1" height="1.8" fill="#fff" opacity="0.3"/>
<rect x="193.5" y="316" width="1" height="1.3" fill="#fff" opacity="0.3"/>
<rect x="219.8" y="316.7" width="0.9" height="2.1" fill="#fff" opacity="0.3"/>
<rect x="221.4" y="309.1" width="0.9" height="2.6" fill="#fff" opacity="0.3"/>
<rect x="220.1" y="314.4" width="0.9" height="2.3" fill="#fff" opacity="0.3"/>
<rect x="174.9" y="329.3" width="1" height="2" fill="#fff" opacity="0.3"/>
<rect x="203" y="328.1" width="1.1" height="1.8" fill="#fff" opacity="0.3"/>
<rect x="188.9" y="332.2" width="0.8" height="2.4" fill="#fff" opacity="0.3"/>
<rect x="211" y="329.9" width="1" height="1.3" fill="#fff" opacity="0.3"/>
<rect x="211.5" y="318.6" width="0.8" height="1.3" fill="#fff" opacity="0.3"/>
<rect x="185.3" y="323.6" width="0.8" height="2.4" fill="#fff" opacity="0.3"/>
<rect x="225.1" y="322.8" width="1" height="2" fill="#fff" opacity="0.3"/>
<rect x="173.5" y="330" width="1.1" height="2" fill="#fff" opacity="0.3"/>
<rect x="202.9" y="327.7" width="1.1" height="2.2" fill="#fff" opacity="0.3"/>
<rect x="170.6" y="333.9" width="1.1" height="2.3" fill="#fff" opacity="0.3"/>
<rect x="225" y="315.7" width="1" height="1.2" fill="#fff" opacity="0.3"/>
<rect x="199.7" y="323.1" width="1.2" height="2.4" fill="#fff" opacity="0.3"/>
<rect x="173.6" y="330" width="0.9" height="2.3" fill="#fff" opacity="0.3"/>
<rect x="179.6" y="333.1" width="1" height="2.4" fill="#fff" opacity="0.3"/>
<rect x="189.9" y="325" width="0.7" height="1.9" fill="#fff" opacity="0.3"/>
<rect x="214.9" y="318.7" width="1" height="2.5" fill="#fff" opacity="0.3"/>
<rect x="214.5" y="312.5" width="1.2" height="2.2" fill="#fff" opacity="0.3"/>
<rect x="187.5" y="323.5" width="1" height="1.9" fill="#fff" opacity="0.3"/>
<rect x="204.7" y="309.5" width="1.1" height="2.4" fill="#fff" opacity="0.3"/>
<rect x="194.4" y="320.7" width="1.2" height="2.6" fill="#fff" opacity="0.3"/>
<rect x="177.2" y="331.7" width="0.9" height="1.6" fill="#fff" opacity="0.3"/>
<rect x="200.1" y="325.5" width="0.9" height="1.6" fill="#fff" opacity="0.3"/>
<rect x="220.1" y="321.2" width="0.9" height="1.4" fill="#fff" opacity="0.3"/>
<rect x="192.3" y="333.1" width="1.1" height="1.5" fill="#fff" opacity="0.3"/>
<rect x="205.2" y="305.6" width="1.2" height="2.5" fill="#fff" opacity="0.3"/>
<rect x="182.6" y="327.6" width="0.9" height="1.5" fill="#fff" opacity="0.3"/>
<rect x="209.6" y="315.1" width="0.7" height="1.5" fill="#fff" opacity="0.3"/>
<rect x="208.3" y="325.6" width="0.7" height="2" fill="#fff" opacity="0.3"/>
<rect x="207" y="323.8" width="1" height="2.3" fill="#fff" opacity="0.3"/>
<rect x="189.4" y="332.1" width="0.9" height="1.3" fill="#fff" opacity="0.3"/>
<rect x="207.8" y="314.6" width="1" height="1.7" fill="#fff" opacity="0.3"/>
<rect x="198.9" y="323.3" width="1.1" height="1.6" fill="#fff" opacity="0.3"/>
<rect x="208.8" y="310.8" width="1.1" height="1.5" fill="#fff" opacity="0.3"/>
<rect x="174.2" y="329" width="1" height="1.7" fill="#fff" opacity="0.3"/>
<rect x="203.3" y="315.3" width="0.9" height="2.4" fill="#fff" opacity="0.3"/>
<rect x="223.6" y="307.7" width="1.2" height="1.9" fill="#fff" opacity="0.3"/>
<rect x="212.9" y="332.4" width="0.8" height="1.7" fill="#fff" opacity="0.3"/>
<rect x="221.5" y="317.3" width="1.1" height="2.4" fill="#fff" opacity="0.3"/>
<rect x="227.9" y="315.7" width="0.7" height="2.5" fill="#fff" opacity="0.3"/>
<rect x="180.7" y="326.7" width="0.9" height="1.5" fill="#fff" opacity="0.3"/>
<rect x="178.1" y="332.3" width="1.2" height="1.6" fill="#fff" opacity="0.3"/>
<rect x="191.7" y="328.1" width="0.8" height="1.9" fill="#fff" opacity="0.3"/>
<rect x="222.9" y="308.5" width="1" height="1.5" fill="#fff" opacity="0.3"/>
<rect x="214.9" y="309.1" width="1.1" height="1.8" fill="#fff" opacity="0.3"/>
<rect x="224" y="313.5" width="0.9" height="1.3" fill="#fff" opacity="0.3"/>
<rect x="186.1" y="326.8" width="1.1" height="2" fill="#fff" opacity="0.3"/>
<rect x="217" y="328.4" width="0.7" height="1.6" fill="#fff" opacity="0.3"/>
<rect x="218.3" y="324.7" width="1" height="1.8" fill="#fff" opacity="0.3"/>
<rect x="198.9" y="310.5" width="0.8" height="1.7" fill="#fff" opacity="0.3"/>
<rect x="178.1" y="328.7" width="1.1" height="2.3" fill="#fff" opacity="0.3"/>
<rect x="212.4" y="320.8" width="1.2" height="1.5" fill="#fff" opacity="0.3"/>
<rect x="206" y="317.7" width="1.2" height="1.7" fill="#fff" opacity="0.3"/>
<rect x="183.8" y="332.1" width="1.1" height="2.2" fill="#fff" opacity="0.3"/>
<rect x="215.4" y="308.6" width="1" height="2" fill="#fff" opacity="0.3"/>
<rect x="222.8" y="314.2" width="0.8" height="1.6" fill="#fff" opacity="0.3"/>
<rect x="199.7" y="333.4" width="1" height="2.2" fill="#fff" opacity="0.3"/>
<rect x="197.1" y="320.4" width="1.2" height="1.8" fill="#fff" opacity="0.3"/>
<rect x="177.3" y="333.7" width="0.8" height="1.7" fill="#fff" opacity="0.3"/>
<rect x="205.5" y="330" width="0.7" height="2.1" fill="#fff" opacity="0.3"/>
<rect x="177.9" y="332.4" width="1" height="1.9" fill="#fff" opacity="0.3"/>
<rect x="194.7" y="325" width="1.2" height="1.7" fill="#fff" opacity="0.3"/>
<rect x="197.3" y="314.8" width="0.9" height="1.3" fill="#fff" opacity="0.3"/>
<rect x="222.8" y="313.2" width="1.2" height="1.4" fill="#fff" opacity="0.3"/>
<rect x="208.4" y="322.5" width="1" height="2.3" fill="#fff" opacity="0.3"/>
<rect x="174.3" y="334.2" width="0.7" height="1.6" fill="#fff" opacity="0.3"/>
<rect x="219.1" y="319.3" width="1.2" height="2.4" fill="#fff" opacity="0.3"/>
<rect x="194.5" y="319.8" width="0.8" height="1.3" fill="#fff" opacity="0.3"/>
<rect x="211.5" y="328.6" width="0.7" height="1.9" fill="#fff" opacity="0.3"/>
<rect x="218.2" y="321.4" width="0.9" height="2.5" fill="#fff" opacity="0.3"/>
<rect x="194.5" y="320.4" width="0.9" height="1.7" fill="#fff" opacity="0.3"/>
<rect x="192.7" y="325.2" width="0.7" height="2" fill="#fff" opacity="0.3"/>
<rect x="203.8" y="326.6" width="0.8" height="1.3" fill="#fff" opacity="0.3"/>
<rect x="211.1" y="314.5" width="1" height="1.6" fill="#fff" opacity="0.3"/>
<rect x="190.2" y="322.6" width="0.9" height="2.1" fill="#fff" opacity="0.3"/>
<polyline points="58.5,375.6 59.6,374 61.2,372 62.5,375.2 63.7,378.4 64.6,376 65.6,373.5" fill="none" stroke="#0f72c2" stroke-width="1.5" stroke-linejoin="round"/>
<polyline points="58.5,375.8 59.6,374.2 61.2,372.2 62.5,375.4 63.7,378.6 64.6,376.2 65.6,373.7" fill="none" stroke="#f5141e" stroke-width="1.3" stroke-dasharray="1.5 1.8" />
<polyline points="67.5,371 68,370.7 68.5,370.5 69,370.3 69.5,370.1 70,369.9 70.5,369.8 71,369.7 71.5,369.6 72,369.4 72.5,369.2 73,369 73.5,368.8 74,368.6 74.5,368.4 75,368.2 75.5,368 76,367.8 76.5,367.6 77,367.4 77.5,367.2 78,367 78.5,366.8 79,366.7 79.5,366.5 80,366.3 80.5,366.1 81,365.9 81.5,365.8 82,365.6 82.5,365.4 83,365.2 83.5,365 84,364.8 84.5,364.7 85,364.5 85.5,364.3 86,364.1 86.5,364 87,363.8 87.5,363.6 88,363.4 88.5,363.3 89,363.1 89.5,362.9 90,362.8 90.5,362.6 91,362.4 91.5,362.3 92,362.1 92.5,361.9 93,361.7 93.5,361.6 94,361.4 94.5,361.2 95,361.1 95.5,360.9 96,360.7 96.5,360.5 97,360.4 97.5,360.2 98,360 98.5,359.8 99,359.6 99.5,359.4 100,359.2 100.5,359 101,358.9 101.5,358.7 102,358.5 102.5,358.3 103,358.1 103.5,357.9 104,357.7 104.5,357.5 105,357.3 105.5,357.1 106,356.9 106.5,356.7 107,356.5 107.5,356.2 108,356 108.5,355.8 109,355.6 109.5,355.4 110,355.2 110.5,355 111,354.8 111.5,354.6 112,354.4 112.5,354.2 113,353.9 113.5,353.7 114,353.5 114.5,353.3 115,353.1 115.5,352.9 116,352.7 116.5,352.4 117,352.2 117.5,352 118,351.8 118.5,351.6 119,351.3 119.5,351.1 120,350.9 120.5,350.7 121,350.5 121.5,350.2 122,350 122.5,349.8 123,349.6 123.5,349.3 124,349.1 124.5,348.9 125,348.7 125.5,348.4 126,348.2 126.5,348 127,347.8 127.5,347.6 128,347.3 128.5,347.1 129,346.9 129.5,346.7 130,346.4 130.5,346.2 131,346 131.5,345.8 132,345.5 132.5,345.3 133,345.1 133.5,344.9 134,344.7 134.5,344.4 135,344.2 135.5,344 136,343.8 136.5,343.6 137,343.4 137.5,343.2 138,343 138.5,342.8 139,342.6 139.5,342.4 140,342.2 140.5,342 141,341.8 141.5,341.6 142,341.4 142.5,341.2 143,341 143.5,340.8 144,340.6 144.5,340.4 145,340.2 145.5,340 146,339.9 146.5,339.7 147,339.5 147.5,339.3 148,339.1 148.5,338.9 149,338.7 149.5,338.5" fill="none" stroke="#e02436" stroke-width="2.4" stroke-dasharray="1.4 4.1" />
<polyline points="67.5,375.1 68,375 68.5,374.9 69,374.8 69.5,374.7 70,374.6 70.5,374.5 71,374.4 71.5,374.3 72,374.2 72.5,374.1 73,374 73.5,373.9 74,373.8 74.5,373.7 75,373.5 75.5,373.4 76,373.2 76.5,373 77,372.8 77.5,372.6 78,372.3 78.5,372.1 79,371.9 79.5,371.6 80,371.4 80.5,371.2 81,370.9 81.5,370.7 82,370.5 82.5,370.2 83,370 83.5,369.8 84,369.6 84.5,369.4 85,369.2 85.5,369 86,368.8 86.5,368.6 87,368.5 87.5,368.3 88,368.1 88.5,367.9 89,367.7 89.5,367.5 90,367.3 90.5,367.1 91,367 91.5,366.8 92,366.6 92.5,366.4 93,366.2 93.5,366 94,365.9 94.5,365.7 95,365.5 95.5,365.3 96,365.1 96.5,364.9 97,364.8 97.5,364.6 98,364.4 98.5,364.2 99,364 99.5,363.8 100,363.7 100.5,363.5 101,363.3 101.5,363.1 102,362.9 102.5,362.7 103,362.6 103.5,362.4 104,362.2 104.5,362 105,361.8 105.5,361.6 106,361.4 106.5,361.3 107,361.1 107.5,360.9 108,360.7 108.5,360.5 109,360.3 109.5,360.1 110,359.9 110.5,359.7 111,359.6 111.5,359.4 112,359.2 112.5,359 113,358.8 113.5,358.6 114,358.3 114.5,358.1 115,357.9 115.5,357.7 116,357.5 116.5,357.3 117,357.1 117.5,356.9 118,356.6 118.5,356.4 119,356.2 119.5,356 120,355.8 120.5,355.5 121,355.3 121.5,355.1 122,354.9 122.5,354.6 123,354.4 123.5,354.2 124,353.9 124.5,353.7 125,353.5 125.5,353.3 126,353 126.5,352.8 127,352.6 127.5,352.4 128,352.1 128.5,351.9 129,351.7 129.5,351.5 130,351.2 130.5,351 131,350.8 131.5,350.5 132,350.3 132.5,350.1 133,349.8 133.5,349.6 134,349.4 134.5,349.2 135,349 135.5,348.8 136,348.6 136.5,348.4 137,348.2 137.5,348 138,347.8 138.5,347.6 139,347.4 139.5,347.2 140,347.1 140.5,346.9 141,346.7 141.5,346.5 142,346.3 142.5,346.1 143,346 143.5,345.8 144,345.6 144.5,345.4 145,345.2 145.5,345.1 146,344.9 146.5,344.7 147,344.5 147.5,344.4 148,344.2 148.5,344 149,343.8 149.5,343.7" fill="none" stroke="#e02436" stroke-width="2.6" stroke-dasharray="1.4 4.1" stroke-dashoffset="2.7"/>
<polyline points="150,341.5 150.5,341.3 151,341.2 151.5,341 152,340.8 152.5,340.6 153,340.5 153.5,340.3 154,340.1 154.5,339.9 155,339.8 155.5,339.6 156,339.4 156.5,339.2 157,339.1 157.5,338.9 158,338.7 158.5,338.5 159,338.4 159.5,338.2 160,338 160.5,337.9 161,337.7 161.5,337.5 162,337.3 162.5,337.2 163,337 163.5,336.8 164,336.7 164.5,336.5 165,336.3 165.5,336.2 166,336 166.5,335.8 167,335.6 167.5,335.4 168,335.3 168.5,335.1 169,334.9 169.5,334.7 170,334.6 170.5,334.4 171,334.2 171.5,334 172,333.9 172.5,333.7 173,333.5 173.5,333.4 174,333.2 174.5,333 175,332.8 175.5,332.7 176,332.5 176.5,332.3 177,332.1 177.5,332 178,331.8 178.5,331.6 179,331.5 179.5,331.3 180,331.1 180.5,330.9 181,330.7 181.5,330.5 182,330.3 182.5,330.1 183,329.9 183.5,329.7 184,329.5 184.5,329.3 185,329.1 185.5,328.9 186,328.7 186.5,328.5 187,328.3 187.5,328.1 188,327.9 188.5,327.7 189,327.5 189.5,327.3 190,327.1 190.5,326.9 191,326.7 191.5,326.4 192,326.2 192.5,326 193,325.7 193.5,325.5 194,325.2 194.5,324.9 195,324.6 195.5,324.3 196,324 196.5,323.7 197,323.4 197.5,323.2 198,323 198.5,322.7 199,322.5 199.5,322.3 200,322.1 200.5,321.9 201,321.7 201.5,321.6 202,321.5 202.5,321.5 203,321.4 203.5,321.3 204,321.2 204.5,321.1 205,321 205.5,320.8 206,320.7 206.5,320.5 207,320.4 207.5,320.2 208,320.1 208.5,320 209,319.8 209.5,319.7 210,319.6 210.5,319.6 211,319.5 211.5,319.5 212,319.4 212.5,319.4 213,319.3 213.5,319.3 214,319.2 214.5,319.1 215,318.9 215.5,318.8 216,318.6 216.5,318.5 217,318.3 217.5,318.3 218,318.2 218.5,318.1 219,318.1 219.5,318 220,317.9 220.5,317.8 221,317.6 221.5,317.4 222,317.2 222.5,317.1 223,316.9 223.5,316.7 224,316.5 224.5,316.3 225,316.1 225.5,315.9 226,315.6 226.5,315.2 227,314.9 227.5,314.6 228,314.3 228.5,314.1 229,313.8 229.5,313.6 230,313.3 230.5,313.1 231,312.8 231.5,312.6 232,312.4 232.5,312.2 233,312 233.5,311.8 234,311.7 234.5,311.5 235,311.4 235.5,311.2 236,311.1 236.5,310.9 237,310.8 237.5,310.6 238,310.5 238.5,310.3 239,310.2 239.5,310 240,309.9 240.5,309.7 241,309.6 241.5,309.4 242,309.3 242.5,309.1 243,308.9 243.5,308.8 244,308.6 244.5,308.5 245,308.3 245.5,308.2 246,308 246.5,307.8 247,307.7 247.5,307.5 248,307.3 248.5,307.1 249,306.9 249.5,306.7 250,306.5 250.5,306.2 251,305.9 251.5,305.7 252,305.4 252.5,305.1 253,304.9 253.5,304.6 254,304.4 254.5,304.2 255,304 255.5,303.8 256,303.6 256.5,303.4 257,303.2 257.5,303 258,302.9 258.5,302.7 259,302.5 259.5,302.4 260,302.2 260.5,302 261,301.9 261.5,301.7" fill="none" stroke="#d8283c" stroke-width="1.2" stroke-dasharray="1.2 4.3" opacity="0.8"/>
</g>
<rect x="58.5" y="226.5" width="477" height="166.8" fill="none" stroke="#3a3a3a" stroke-width="1.0"/>
<path d="M58.5 393.3v-5 M58.5 226.5v5 M217.5 393.3v-5 M217.5 226.5v5 M376.5 393.3v-5 M376.5 226.5v5 M535.5 393.3v-5 M535.5 226.5v5 M58.5 393.3h5 M535.5 393.3h-5 M58.5 359.5h5 M535.5 359.5h-5 M58.5 326.5h5 M535.5 326.5h-5 M58.5 293.5h5 M535.5 293.5h-5 M58.5 259.5h5 M535.5 259.5h-5 M58.5 226.5h5 M535.5 226.5h-5 " stroke="#3a3a3a" stroke-width="1.0" fill="none"/>
<text transform="translate(53 398.9) scale(0.965 1)" font-family='"Liberation Sans", Arial, Helvetica, sans-serif' font-size="14.7" text-anchor="end" fill="#262626" stroke="#262626" stroke-width="0.25" >500</text>
<text transform="translate(53 365.1) scale(0.965 1)" font-family='"Liberation Sans", Arial, Helvetica, sans-serif' font-size="14.7" text-anchor="end" fill="#262626" stroke="#262626" stroke-width="0.25" >1000</text>
<text transform="translate(53 332.1) scale(0.965 1)" font-family='"Liberation Sans", Arial, Helvetica, sans-serif' font-size="14.7" text-anchor="end" fill="#262626" stroke="#262626" stroke-width="0.25" >1500</text>
<text transform="translate(53 299.1) scale(0.965 1)" font-family='"Liberation Sans", Arial, Helvetica, sans-serif' font-size="14.7" text-anchor="end" fill="#262626" stroke="#262626" stroke-width="0.25" >2000</text>
<text transform="translate(53 265.1) scale(0.965 1)" font-family='"Liberation Sans", Arial, Helvetica, sans-serif' font-size="14.7" text-anchor="end" fill="#262626" stroke="#262626" stroke-width="0.25" >2500</text>
<text transform="translate(53 232.1) scale(0.965 1)" font-family='"Liberation Sans", Arial, Helvetica, sans-serif' font-size="14.7" text-anchor="end" fill="#262626" stroke="#262626" stroke-width="0.25" >3000</text>
<text transform="translate(58.5 411.1) scale(0.965 1)" font-family='"Liberation Sans", Arial, Helvetica, sans-serif' font-size="14.7" text-anchor="middle" fill="#262626" stroke="#262626" stroke-width="0.25" >0</text>
<text transform="translate(217.5 411.1) scale(0.965 1)" font-family='"Liberation Sans", Arial, Helvetica, sans-serif' font-size="14.7" text-anchor="middle" fill="#262626" stroke="#262626" stroke-width="0.25" >5</text>
<text transform="translate(376.8 411.1) scale(0.965 1)" font-family='"Liberation Sans", Arial, Helvetica, sans-serif' font-size="14.7" text-anchor="middle" fill="#262626" stroke="#262626" stroke-width="0.25" >10</text>
<text transform="translate(536.2 411.1) scale(0.965 1)" font-family='"Liberation Sans", Arial, Helvetica, sans-serif' font-size="14.7" text-anchor="middle" fill="#262626" stroke="#262626" stroke-width="0.25" >15</text>
<text transform="translate(297.8 420.4) scale(1.02 1)" font-family='"Liberation Sans", Arial, Helvetica, sans-serif' font-size="15.8" text-anchor="middle" fill="#262626" stroke="#262626" stroke-width="0.25" >Time (s)</text>
<text transform="translate(14.8 309.4) rotate(-90) scale(0.965 1)" font-family='"Liberation Sans", Arial, Helvetica, sans-serif' font-size="16.4" text-anchor="middle" fill="#262626" stroke="#262626" stroke-width="0.25" >Speed (rpm)</text>
<rect x="71.4" y="238.4" width="113.3" height="36.2" fill="#fff" stroke="#b0b0b0" stroke-width="1.1"/>
<polyline points="76.4,248.4 124.1,248.4" fill="none" stroke="#f5141e" stroke-width="1.1" />
<text transform="translate(127.6 253.1)" font-family='"Liberation Sans", Arial, Helvetica, sans-serif' font-size="12.85" text-anchor="start" fill="#000" stroke="#000" stroke-width="0.25" >Flywheel</text>
<polyline points="76.4,264.7 124.1,264.7" fill="none" stroke="#1f8fdc" stroke-width="1.1" stroke-dasharray="9.6 5.8" />
<text transform="translate(127.6 269.4)" font-family='"Liberation Sans", Arial, Helvetica, sans-serif' font-size="12.85" text-anchor="start" fill="#000" stroke="#000" stroke-width="0.25" >Gearbox</text>
<rect x="351.8" y="295.3" width="162.49999999999994" height="77.30000000000001" fill="#fff"/>
<defs><clipPath id="cib"><rect x="351.8" y="295.3" width="162.49999999999994" height="77.30000000000001"/></clipPath></defs>
<g clip-path="url(#cib)">
<polyline points="351.8,325.3 352.1,328.1 352.3,330.9 352.6,333.8 352.8,336.7 353.1,339.7 353.3,342.6 353.6,345.4 353.8,348.1 354.1,350.7 354.3,353.1 354.6,355.4 354.8,357.4 355.1,359.2 355.3,360.8 355.6,362.1 355.8,363.1 356.1,363.8 356.3,364.3 356.6,364.4 356.8,364.2 357.1,363.8 357.3,363 357.6,361.9 357.8,360.6 358.1,359 358.3,357.1 358.6,355 358.8,352.8 359.1,350.3 359.3,347.7 359.6,345 359.8,342.1 360.1,339.2 360.3,336.3 360.6,333.4 360.8,330.5 361.1,327.7 361.3,324.9 361.6,322.3 361.8,319.8 362.1,317.5 362.3,315.4 362.6,313.5 362.8,311.9 363.1,310.5 363.3,309.4 363.6,308.6 363.8,308.1 364.1,307.9 364.3,308 364.6,308.4 364.8,309.1 365.1,310.1 365.3,311.3 365.6,312.9 365.8,314.6 366.1,316.6 366.3,318.9 366.6,321.3 366.8,323.8 367.1,326.5 367.3,329.3 367.6,332.2 367.8,335.1 368.1,338 368.3,340.9 368.6,343.7 368.8,346.5 369.1,349.1 369.3,351.6 369.6,354 369.8,356.1 370.1,358 370.3,359.7 370.6,361.2 370.8,362.3 371.1,363.2 371.3,363.8 371.6,364.1 371.8,364.1 372.1,363.7 372.3,363.1 372.6,362.2 372.8,361 373.1,359.6 373.3,357.8 373.6,355.9 373.8,353.7 374.1,351.4 374.3,348.9 374.6,346.2 374.8,343.4 375.1,340.6 375.3,337.7 375.6,334.8 375.8,331.9 376.1,329 376.3,326.2 376.6,323.6 376.8,321 377.1,318.6 377.3,316.4 377.6,314.5 377.8,312.7 378.1,311.2 378.3,310 378.6,309 378.8,308.3 379.1,308 379.3,307.9 379.6,308.1 379.8,308.7 380.1,309.5 380.3,310.6 380.6,312 380.8,313.6 381.1,315.5 381.3,317.6 381.6,319.9 381.8,322.4 382.1,325 382.3,327.7 382.6,330.6 382.8,333.4 383.1,336.3 383.3,339.2 383.6,342.1 383.8,344.9 384.1,347.6 384.3,350.1 384.6,352.6 384.8,354.8 385.1,356.8 385.3,358.6 385.6,360.2 385.8,361.5 386.1,362.5 386.3,363.2 386.6,363.7 386.8,363.8 387.1,363.6 387.3,363.2 387.6,362.4 387.8,361.4 388.1,360.1 388.3,358.5 388.6,356.7 388.8,354.6 389.1,352.4 389.3,350 389.6,347.4 389.8,344.7 390.1,341.9 390.3,339 390.6,336.1 390.8,333.2 391.1,330.4 391.3,327.6 391.6,324.8 391.8,322.2 392.1,319.8 392.3,317.5 392.6,315.4 392.8,313.6 393.1,311.9 393.3,310.6 393.6,309.5 393.8,308.7 394.1,308.1 394.3,307.9 394.6,308 394.8,308.4 395.1,309 395.3,310 395.6,311.2 395.8,312.7 396.1,314.5 396.3,316.5 396.6,318.6 396.8,321 397.1,323.5 397.3,326.2 397.6,329 397.8,331.8 398.1,334.7 398.3,337.6 398.6,340.4 398.8,343.2 399.1,346 399.3,348.6 399.6,351.1 399.8,353.4 400.1,355.5 400.3,357.4 400.6,359.1 400.8,360.6 401.1,361.7 401.3,362.6 401.6,363.2 401.8,363.5 402.1,363.5 402.3,363.2 402.6,362.6 402.8,361.7 403.1,360.5 403.3,359.1 403.6,357.4 403.8,355.5 404.1,353.3 404.3,351 404.6,348.5 404.8,345.9 405.1,343.2 405.3,340.4 405.6,337.5 405.8,334.6 406.1,331.7 406.3,328.9 406.6,326.1 406.8,323.5 407.1,321 407.3,318.6 407.6,316.4 407.8,314.5 408.1,312.7 408.3,311.2 408.6,310 408.8,309 409.1,308.4 409.3,308 409.6,307.9 409.8,308.1 410.1,308.6 410.3,309.5 410.6,310.5 410.8,311.9 411.1,313.5 411.3,315.4 411.6,317.4 411.8,319.7 412.1,322.1 412.3,324.7 412.6,327.4 412.8,330.2 413.1,333 413.3,335.9 413.6,338.8 413.8,341.6 414.1,344.4 414.3,347 414.6,349.6 414.8,352 415.1,354.2 415.3,356.2 415.6,358 415.8,359.6 416.1,360.9 416.3,361.9 416.6,362.6 416.8,363.1 417.1,363.2 417.3,363.1 417.6,362.6 417.8,361.9 418.1,360.9 418.3,359.6 418.6,358 418.8,356.2 419.1,354.2 419.3,352 419.6,349.6 419.8,347.1 420.1,344.4 420.3,341.6 420.6,338.8 420.8,336 421.1,333.1 421.3,330.2 421.6,327.5 421.8,324.8 422.1,322.2 422.3,319.8 422.6,317.5 422.8,315.4 423.1,313.6 423.3,311.9 423.6,310.6 423.8,309.5 424.1,308.7 424.3,308.1 424.6,307.9 424.8,308 425.1,308.3 425.3,309 425.6,309.9 425.8,311.1 426.1,312.6 426.3,314.3 426.6,316.3 426.8,318.4 427.1,320.8 427.3,323.3 427.6,325.9 427.8,328.6 428.1,331.4 428.3,334.3 428.6,337.1 428.8,340 429.1,342.8 429.3,345.5 429.6,348.1 429.8,350.5 430.1,352.8 430.3,354.9 430.6,356.8 430.8,358.5 431.1,359.9 431.3,361.1 431.6,362 431.8,362.6 432.1,362.9 432.3,362.9 432.6,362.6 432.8,362 433.1,361.1 433.3,360 433.6,358.6 433.8,356.9 434.1,355 434.3,352.9 434.6,350.6 434.8,348.2 435.1,345.6 435.3,342.9 435.6,340.1 435.8,337.3 436.1,334.4 436.3,331.6 436.6,328.8 436.8,326.1 437.1,323.4 437.3,320.9 437.6,318.6 437.8,316.4 438.1,314.5 438.3,312.7 438.6,311.2 438.8,310 439.1,309.1 439.3,308.4 439.6,308 439.8,307.9 440.1,308.1 440.3,308.6 440.6,309.4 440.8,310.5 441.1,311.8 441.3,313.4 441.6,315.2 441.8,317.2 442.1,319.5 442.3,321.9 442.6,324.4 442.8,327.1 443.1,329.8 443.3,332.7 443.6,335.5 443.8,338.3 444.1,341.1 444.3,343.9 444.6,346.5 444.8,349 445.1,351.4 445.3,353.6 445.6,355.6 445.8,357.4 446.1,359 446.3,360.2 446.6,361.3 446.8,362 447.1,362.5 447.3,362.6 447.6,362.5 447.8,362.1 448.1,361.3 448.3,360.3 448.6,359.1 448.8,357.6 449.1,355.8 449.3,353.8 449.6,351.6 449.8,349.3 450.1,346.8 450.3,344.1 450.6,341.4 450.8,338.6 451.1,335.8 451.3,332.9 451.6,330.1 451.8,327.4 452.1,324.7 452.3,322.1 452.6,319.7 452.8,317.5 453.1,315.4 453.3,313.6 453.6,312 453.8,310.6 454.1,309.5 454.3,308.7 454.6,308.2 454.8,307.9 455.1,308 455.3,308.3 455.6,308.9 455.8,309.9 456.1,311.1 456.3,312.5 456.6,314.2 456.8,316.1 457.1,318.2 457.3,320.5 457.6,323 457.8,325.6 458.1,328.3 458.3,331.1 458.6,333.9 458.8,336.7 459.1,339.5 459.3,342.3 459.6,345 459.8,347.5 460.1,350 460.3,352.3 460.6,354.4 460.8,356.2 461.1,357.9 461.3,359.3 461.6,360.5 461.8,361.4 462.1,362 462.3,362.3 462.6,362.3 462.8,362 463.1,361.5 463.3,360.6 463.6,359.5 463.8,358.1 464.1,356.5 464.3,354.6 464.6,352.5 464.8,350.3 465.1,347.9 465.3,345.3 465.6,342.6 465.8,339.9 466.1,337.1 466.3,334.3 466.6,331.4 466.8,328.7 467.1,326 467.3,323.4 467.6,320.9 467.8,318.6 468.1,316.4 468.3,314.5 468.6,312.7 468.8,311.3 469.1,310 469.3,309.1 469.6,308.4 469.8,308 470.1,307.9 470.3,308.1 470.6,308.6 470.8,309.3 471.1,310.4 471.3,311.7 471.6,313.3 471.8,315.1 472.1,317.1 472.3,319.3 472.6,321.6 472.8,324.1 473.1,326.8 473.3,329.5 473.6,332.3 473.8,335.1 474.1,337.9 474.3,340.7 474.6,343.4 474.8,346 475.1,348.5 475.3,350.9 475.6,353 475.8,355 476.1,356.8 476.3,358.3 476.6,359.6 476.8,360.6 477.1,361.4 477.3,361.9 477.6,362 477.8,361.9 478.1,361.5 478.3,360.8 478.6,359.8 478.8,358.6 479.1,357.1 479.3,355.3 479.6,353.4 479.8,351.2 480.1,348.9 480.3,346.4 480.6,343.8 480.8,341.1 481.1,338.4 481.3,335.6 481.6,332.8 481.8,330 482.1,327.3 482.3,324.6 482.6,322.1 482.8,319.7 483.1,317.4 483.3,315.4 483.6,313.6 483.8,312 484.1,310.6 484.3,309.5 484.6,308.7 484.8,308.2 485.1,307.9 485.3,308 485.6,308.3 485.8,308.9 486.1,309.8 486.3,311 486.6,312.4 486.8,314.1 487.1,315.9 487.3,318 487.6,320.3 487.8,322.7 488.1,325.3 488.3,328 488.6,330.7 488.8,333.5 489.1,336.3 489.3,339.1 489.6,341.8 489.8,344.4 490.1,347 490.3,349.4 490.6,351.7 490.8,353.8 491.1,355.6 491.3,357.3 491.6,358.7 491.8,359.9 492.1,360.7 492.3,361.4 492.6,361.7 492.8,361.7 493.1,361.4 493.3,360.9 493.6,360.1 493.8,359 494.1,357.6 494.3,356 494.6,354.2 494.8,352.1 495.1,349.9 495.3,347.5 495.6,345 495.8,342.4 496.1,339.6 496.3,336.9 496.6,334.1 496.8,331.3 497.1,328.6 497.3,325.9 497.6,323.3 497.8,320.8 498.1,318.5 498.3,316.4 498.6,314.5 498.8,312.8 499.1,311.3 499.3,310 499.6,309.1 499.8,308.4 500.1,308 500.3,307.9 500.6,308.1 500.8,308.5 501.1,309.3 501.3,310.3 501.6,311.6 501.8,313.1 502.1,314.9 502.3,316.9 502.6,319 502.8,321.4 503.1,323.9 503.3,326.5 503.6,329.2 503.8,331.9 504.1,334.7 504.3,337.4 504.6,340.2 504.8,342.9 505.1,345.5 505.3,348 505.6,350.3 505.8,352.5 506.1,354.4 506.3,356.2 506.6,357.7 506.8,359 507.1,360 507.3,360.8 507.6,361.2 507.8,361.4 508.1,361.3 508.3,360.9 508.6,360.2 508.8,359.3 509.1,358.1 509.3,356.6 509.6,354.9 509.8,353 510.1,350.8 510.3,348.6 510.6,346.1 510.8,343.5 511.1,340.9 511.3,338.1 511.6,335.4 511.8,332.6 512,329.8 512.3,327.1 512.5,324.5 512.8,322 513,319.6 513.3,317.4 513.5,315.4 513.8,313.6 514,312 514.3,310.6" fill="none" stroke="#1f8fdc" stroke-width="1.1" stroke-dasharray="9.6 5.8" />
<polyline points="351.8,339.6 352.1,339.7 352.3,339.8 352.6,339.7 352.8,339.6 353.1,339.4 353.3,339.1 353.6,338.8 353.8,338.4 354.1,337.9 354.3,337.4 354.6,336.9 354.8,336.4 355.1,335.8 355.3,335.3 355.6,334.7 355.8,334.2 356.1,333.7 356.3,333.2 356.6,332.8 356.8,332.4 357.1,332.1 357.3,331.8 357.6,331.6 357.8,331.5 358.1,331.3 358.3,331.3 358.6,331.2 358.8,331.2 359.1,331.3 359.3,331.3 359.6,331.4 359.8,331.5 360.1,331.6 360.3,331.8 360.6,331.9 360.8,332.1 361.1,332.2 361.3,332.4 361.6,332.5 361.8,332.7 362.1,332.9 362.3,333.2 362.6,333.4 362.8,333.7 363.1,334 363.3,334.3 363.6,334.6 363.8,335 364.1,335.4 364.3,335.8 364.6,336.2 364.8,336.6 365.1,337.1 365.3,337.5 365.6,337.9 365.8,338.3 366.1,338.6 366.3,338.9 366.6,339.2 366.8,339.4 367.1,339.5 367.3,339.6 367.6,339.6 367.8,339.5 368.1,339.3 368.3,339.1 368.6,338.8 368.8,338.4 369.1,338 369.3,337.5 369.6,337 369.8,336.5 370.1,335.9 370.3,335.4 370.6,334.8 370.8,334.3 371.1,333.8 371.3,333.3 371.6,332.8 371.8,332.4 372.1,332.1 372.3,331.8 372.6,331.5 372.8,331.4 373.1,331.2 373.3,331.1 373.6,331.1 373.8,331 374.1,331.1 374.3,331.1 374.6,331.2 374.8,331.3 375.1,331.4 375.3,331.5 375.6,331.6 375.8,331.8 376.1,331.9 376.3,332.1 376.6,332.3 376.8,332.4 377.1,332.6 377.3,332.9 377.6,333.1 377.8,333.3 378.1,333.6 378.3,333.9 378.6,334.3 378.8,334.6 379.1,335 379.3,335.4 379.6,335.8 379.8,336.2 380.1,336.7 380.3,337.1 380.6,337.5 380.8,337.9 381.1,338.3 381.3,338.6 381.6,338.9 381.8,339.1 382.1,339.3 382.3,339.4 382.6,339.4 382.8,339.3 383.1,339.2 383.3,339 383.6,338.7 383.8,338.4 384.1,338 384.3,337.6 384.6,337.1 384.8,336.6 385.1,336 385.3,335.5 385.6,334.9 385.8,334.4 386.1,333.8 386.3,333.3 386.6,332.9 386.8,332.4 387.1,332.1 387.3,331.7 387.6,331.5 387.8,331.3 388.1,331.1 388.3,331 388.6,330.9 388.8,330.9 389.1,330.9 389.3,330.9 389.6,331 389.8,331 390.1,331.1 390.3,331.3 390.6,331.4 390.8,331.5 391.1,331.7 391.3,331.8 391.6,332 391.8,332.2 392.1,332.4 392.3,332.6 392.6,332.8 392.8,333 393.1,333.3 393.3,333.6 393.6,333.9 393.8,334.2 394.1,334.6 394.3,335 394.6,335.4 394.8,335.8 395.1,336.3 395.3,336.7 395.6,337.1 395.8,337.5 396.1,337.9 396.3,338.2 396.6,338.5 396.8,338.8 397.1,339 397.3,339.1 397.6,339.2 397.8,339.2 398.1,339.1 398.3,338.9 398.6,338.7 398.8,338.4 399.1,338 399.3,337.6 399.6,337.2 399.8,336.6 400.1,336.1 400.3,335.6 400.6,335 400.8,334.5 401.1,333.9 401.3,333.4 401.6,332.9 401.8,332.5 402.1,332.1 402.3,331.7 402.6,331.4 402.8,331.2 403.1,331 403.3,330.8 403.6,330.7 403.8,330.7 404.1,330.7 404.3,330.7 404.6,330.7 404.8,330.8 405.1,330.9 405.3,331 405.6,331.1 405.8,331.3 406.1,331.4 406.3,331.6 406.6,331.7 406.8,331.9 407.1,332.1 407.3,332.3 407.6,332.5 407.8,332.7 408.1,333 408.3,333.2 408.6,333.5 408.8,333.9 409.1,334.2 409.3,334.6 409.6,335 409.8,335.4 410.1,335.8 410.3,336.3 410.6,336.7 410.8,337.1 411.1,337.5 411.3,337.9 411.6,338.2 411.8,338.5 412.1,338.7 412.3,338.9 412.6,339 412.8,339 413.1,339 413.3,338.8 413.6,338.6 413.8,338.4 414.1,338 414.3,337.7 414.6,337.2 414.8,336.7 415.1,336.2 415.3,335.7 415.6,335.1 415.8,334.6 416.1,334 416.3,333.5 416.6,333 416.8,332.5 417.1,332.1 417.3,331.7 417.6,331.4 417.8,331.1 418.1,330.9 418.3,330.7 418.6,330.6 418.8,330.5 419.1,330.5 419.3,330.5 419.6,330.5 419.8,330.6 420.1,330.7 420.3,330.8 420.6,330.9 420.8,331 421.1,331.2 421.3,331.3 421.6,331.4 421.8,331.6 422.1,331.8 422.3,332 422.6,332.2 422.8,332.4 423.1,332.6 423.3,332.9 423.6,333.2 423.8,333.5 424.1,333.9 424.3,334.2 424.6,334.6 424.8,335 425.1,335.4 425.3,335.9 425.6,336.3 425.8,336.7 426.1,337.1 426.3,337.5 426.6,337.9 426.8,338.2 427.1,338.4 427.3,338.6 427.6,338.8 427.8,338.8 428.1,338.8 428.3,338.7 428.6,338.6 428.8,338.3 429.1,338 429.3,337.7 429.6,337.3 429.8,336.8 430.1,336.3 430.3,335.8 430.6,335.2 430.8,334.7 431.1,334.1 431.3,333.6 431.6,333 431.8,332.6 432.1,332.1 432.3,331.7 432.6,331.4 432.8,331.1 433.1,330.8 433.3,330.6 433.6,330.5 433.8,330.4 434.1,330.3 434.3,330.3 434.6,330.3 434.8,330.4 435.1,330.4 435.3,330.5 435.6,330.6 435.8,330.8 436.1,330.9 436.3,331 436.6,331.2 436.8,331.3 437.1,331.5 437.3,331.7 437.6,331.9 437.8,332.1 438.1,332.3 438.3,332.6 438.6,332.9 438.8,333.2 439.1,333.5 439.3,333.8 439.6,334.2 439.8,334.6 440.1,335 440.3,335.5 440.6,335.9 440.8,336.3 441.1,336.7 441.3,337.1 441.6,337.5 441.8,337.8 442.1,338.1 442.3,338.3 442.6,338.5 442.8,338.6 443.1,338.6 443.3,338.6 443.6,338.5 443.8,338.3 444.1,338 444.3,337.7 444.6,337.3 444.8,336.9 445.1,336.4 445.3,335.9 445.6,335.3 445.8,334.8 446.1,334.2 446.3,333.7 446.6,333.1 446.8,332.6 447.1,332.2 447.3,331.7 447.6,331.4 447.8,331 448.1,330.8 448.3,330.5 448.6,330.4 448.8,330.2 449.1,330.2 449.3,330.1 449.6,330.1 449.8,330.2 450.1,330.2 450.3,330.3 450.6,330.4 450.8,330.5 451.1,330.6 451.3,330.8 451.6,330.9 451.8,331.1 452.1,331.2 452.3,331.4 452.6,331.6 452.8,331.8 453.1,332 453.3,332.3 453.6,332.5 453.8,332.8 454.1,333.1 454.3,333.5 454.6,333.8 454.8,334.2 455.1,334.6 455.3,335 455.6,335.5 455.8,335.9 456.1,336.3 456.3,336.7 456.6,337.1 456.8,337.5 457.1,337.8 457.3,338 457.6,338.2 457.8,338.4 458.1,338.4 458.3,338.4 458.6,338.4 458.8,338.2 459.1,338 459.3,337.7 459.6,337.3 459.8,336.9 460.1,336.4 460.3,335.9 460.6,335.4 460.8,334.9 461.1,334.3 461.3,333.8 461.6,333.2 461.8,332.7 462.1,332.2 462.3,331.8 462.6,331.4 462.8,331 463.1,330.7 463.3,330.5 463.6,330.3 463.8,330.1 464.1,330 464.3,329.9 464.6,329.9 464.8,329.9 465.1,330 465.3,330.1 465.6,330.2 465.8,330.3 466.1,330.4 466.3,330.5 466.6,330.7 466.8,330.8 467.1,331 467.3,331.1 467.6,331.3 467.8,331.5 468.1,331.7 468.3,331.9 468.6,332.2 468.8,332.5 469.1,332.8 469.3,333.1 469.6,333.5 469.8,333.8 470.1,334.2 470.3,334.6 470.6,335.1 470.8,335.5 471.1,335.9 471.3,336.3 471.6,336.7 471.8,337.1 472.1,337.4 472.3,337.7 472.6,338 472.8,338.1 473.1,338.2 473.3,338.3 473.6,338.2 473.8,338.1 474.1,337.9 474.3,337.7 474.6,337.3 474.8,336.9 475.1,336.5 475.3,336 475.6,335.5 475.8,335 476.1,334.4 476.3,333.9 476.6,333.3 476.8,332.8 477.1,332.3 477.3,331.8 477.6,331.4 477.8,331 478.1,330.7 478.3,330.4 478.6,330.2 478.8,330 479.1,329.9 479.3,329.8 479.6,329.7 479.8,329.7 480.1,329.8 480.3,329.8 480.6,329.9 480.8,330 481.1,330.1 481.3,330.3 481.6,330.4 481.8,330.5 482.1,330.7 482.3,330.9 482.6,331 482.8,331.2 483.1,331.4 483.3,331.6 483.6,331.9 483.8,332.1 484.1,332.4 484.3,332.7 484.6,333.1 484.8,333.4 485.1,333.8 485.3,334.2 485.6,334.7 485.8,335.1 486.1,335.5 486.3,335.9 486.6,336.3 486.8,336.7 487.1,337.1 487.3,337.4 487.6,337.7 487.8,337.9 488.1,338 488.3,338.1 488.6,338.1 488.8,338 489.1,337.8 489.3,337.6 489.6,337.3 489.8,337 490.1,336.6 490.3,336.1 490.6,335.6 490.8,335.1 491.1,334.5 491.3,334 491.6,333.4 491.8,332.9 492.1,332.3 492.3,331.9 492.6,331.4 492.8,331 493.1,330.6 493.3,330.3 493.6,330.1 493.8,329.9 494.1,329.7 494.3,329.6 494.6,329.6 494.8,329.6 495.1,329.6 495.3,329.6 495.6,329.7 495.8,329.8 496.1,329.9 496.3,330 496.6,330.1 496.8,330.3 497.1,330.4 497.3,330.6 497.6,330.7 497.8,330.9 498.1,331.1 498.3,331.3 498.6,331.6 498.8,331.8 499.1,332.1 499.3,332.4 499.6,332.7 499.8,333.1 500.1,333.4 500.3,333.8 500.6,334.3 500.8,334.7 501.1,335.1 501.3,335.5 501.6,336 501.8,336.4 502.1,336.7 502.3,337.1 502.6,337.3 502.8,337.6 503.1,337.8 503.3,337.9 503.6,337.9 503.8,337.9 504.1,337.7 504.3,337.6 504.6,337.3 504.8,337 505.1,336.6 505.3,336.2 505.6,335.7 505.8,335.2 506.1,334.6 506.3,334.1 506.6,333.5 506.8,333 507.1,332.4 507.3,331.9 507.6,331.4 507.8,331 508.1,330.6 508.3,330.3 508.6,330 508.8,329.8 509.1,329.6 509.3,329.5 509.6,329.4 509.8,329.4 510.1,329.4 510.3,329.4 510.6,329.5 510.8,329.5 511.1,329.6 511.3,329.8 511.6,329.9 511.8,330 512,330.2 512.3,330.3 512.5,330.5 512.8,330.6 513,330.8 513.3,331 513.5,331.3 513.8,331.5 514,331.8 514.3,332" fill="none" stroke="#f0561d" stroke-width="1.3" />
</g>
<rect x="351.8" y="295.3" width="162.5" height="77.3" fill="none" stroke="#3a3a3a" stroke-width="1.25"/>
<path d="M351.8 372.6v-3.3 M351.8 295.3v3.3 M392.4 372.6v-3.3 M392.4 295.3v3.3 M433 372.6v-3.3 M433 295.3v3.3 M473.7 372.6v-3.3 M473.7 295.3v3.3 M514.3 372.6v-3.3 M514.3 295.3v3.3 M351.8 295.3h3.3 M514.3 295.3h-3.3 M351.8 347.3h3.3 M514.3 347.3h-3.3 " stroke="#3a3a3a" stroke-width="1.25" fill="none"/>
<text transform="translate(348.4 300.2) scale(0.97 1)" font-family='"Liberation Sans", Arial, Helvetica, sans-serif' font-size="12.9" text-anchor="end" fill="#262626" stroke="#262626" stroke-width="0.25" >2000</text>
<text transform="translate(348.4 352.1) scale(0.97 1)" font-family='"Liberation Sans", Arial, Helvetica, sans-serif' font-size="12.9" text-anchor="end" fill="#262626" stroke="#262626" stroke-width="0.25" >1500</text>
<text transform="translate(352 387.5) scale(0.97 1)" font-family='"Liberation Sans", Arial, Helvetica, sans-serif' font-size="12.9" text-anchor="middle" fill="#262626" stroke="#262626" stroke-width="0.25" >4.8</text>
<text transform="translate(392.62 387.5) scale(0.97 1)" font-family='"Liberation Sans", Arial, Helvetica, sans-serif' font-size="12.9" text-anchor="middle" fill="#262626" stroke="#262626" stroke-width="0.25" >4.85</text>
<text transform="translate(433.25 387.5) scale(0.97 1)" font-family='"Liberation Sans", Arial, Helvetica, sans-serif' font-size="12.9" text-anchor="middle" fill="#262626" stroke="#262626" stroke-width="0.25" >4.9</text>
<text transform="translate(473.87 387.5) scale(0.97 1)" font-family='"Liberation Sans", Arial, Helvetica, sans-serif' font-size="12.9" text-anchor="middle" fill="#262626" stroke="#262626" stroke-width="0.25" >4.95</text>
<text transform="translate(513.6 387.5) scale(0.97 1)" font-family='"Liberation Sans", Arial, Helvetica, sans-serif' font-size="12.9" text-anchor="middle" fill="#262626" stroke="#262626" stroke-width="0.25" >5</text>
<text x="273.4" y="441.6" font-family='"Liberation Serif", "Times New Roman", serif' font-size="16" text-anchor="middle" fill="#111" stroke="#111" stroke-width="0.2">(<tspan font-weight="bold">b</tspan>)</text>
</svg></body></html>
